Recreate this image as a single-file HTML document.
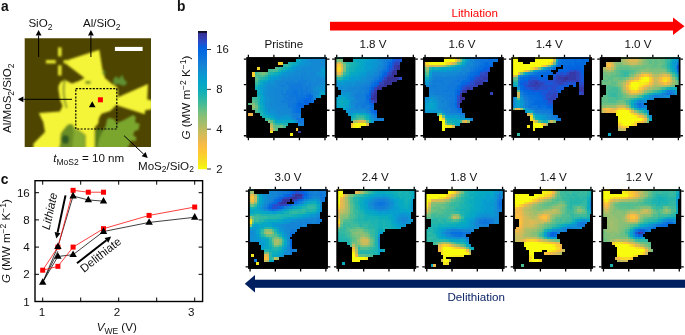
<!DOCTYPE html>
<html><head><meta charset="utf-8"><title>Figure</title>
<style>
html,body{margin:0;padding:0;background:#fff}
svg{display:block}
.t{font-family:"Liberation Sans",sans-serif;font-size:11.6px;fill:#111}
.b{font-family:"Liberation Sans",sans-serif;font-size:13.8px;font-weight:bold;fill:#111}
.i{font-style:italic}
</style></head><body>
<svg width="685" height="335" viewBox="0 0 685 335">
<rect width="685" height="335" fill="#fff"/>
<defs><clipPath id="mc"><rect x="24.7" y="38.3" width="126.3" height="108.8"/></clipPath><filter id="bl" x="-5%" y="-5%" width="110%" height="110%"><feGaussianBlur stdDeviation="0.8"/></filter></defs>
<g clip-path="url(#mc)">
<rect x="22.7" y="36.3" width="130.3" height="112.8" fill="#4e4500"/>
<g filter="url(#bl)">
<polygon points="64.5,61 99.3,49.7 102.5,70 105,78 112,84 117.5,87.5 118,96 117.3,97.5 148,84 147.3,99.5 152,100.3 152,109.3 145.2,110.2 144.8,114.3 117.3,105.5 116.3,105 110.3,111 101.5,113.7 98.9,118.4 98.2,123.8 94.8,127.2 94.8,149 85.5,149 85.5,135 80,131 75.8,129 72,124 67.4,125 61,133 59.5,149 33.4,149 33.4,143.7 45,132 43.3,122.2 38.8,112.9 60,111.5 62.5,106 60.2,100 58.5,90 58.5,86 61,81.4 66,80.5 72,83.5 79,81 84.5,78 64.5,62.8" fill="#f4f438" />
<rect x="58" y="47.4" width="3.6" height="9" fill="#e6e62e"/><rect x="58" y="65.3" width="3.6" height="10.2" fill="#e6e62e"/>
<rect x="45.9" y="60" width="9.9" height="3.5" fill="#e6e62e"/><rect x="63.6" y="60" width="6" height="3.5" fill="#e6e62e"/>
<polygon points="106.9,119.8 108.9,117.8 114.3,119.1 116.3,123.1 123,120.4 133.1,115.1 135.8,117.1 135.1,122.4 139.8,123.8 138.5,129.8 134.4,131.2 133.1,135.2 136.4,137.2 135.8,141.2 131.1,140.6 129.1,145.3 126.4,149 96.8,149 98.9,138.6 102.2,131.8 105.6,126.5" fill="#7aa62e" />
<polygon points="96,130 99,128 103,130 99,138.6 96.8,149 94.8,149 94.8,131" fill="#567c1e" />
<polygon points="61,133 67.4,125 72,124 75.8,129 80,131 85.5,135 85.5,149 59.5,149" fill="#86ac30" />
<polygon points="61,133 67.4,125 72,124 73.7,133 72,149 59.5,149" fill="#6a8e26" />
<path d="M64.6 79.5Q62 94 66.6 108" stroke="#98a428" stroke-width="2.4" fill="none"/>
<ellipse cx="65.5" cy="139.5" rx="3.6" ry="4.5" fill="#2f5a20"/>
<polygon points="113,80 116,76 119,79 122,74.5 124,79 127.4,83 124,86 118,84 114,85" fill="#5f9030" />
<ellipse cx="88" cy="82.3" rx="3" ry="1.6" fill="#6a8a20"/>
<ellipse cx="104" cy="72.5" rx="1.6" ry="2.6" fill="#5a7a20"/>
</g>
<rect x="114.9" y="46.9" width="27.7" height="4.1" fill="#fff"/>
<rect x="75.8" y="88.6" width="41" height="40.4" fill="none" stroke="#000" stroke-width="1.2" stroke-dasharray="2 1.4"/>
<polygon points="92.2,101.3 95.5,107.2 88.9,107.2" fill="#000"/>
<rect x="97.9" y="97.3" width="5" height="5" fill="#f00"/>
</g>
<path d="M38.6 57L38.6 35.6" stroke="#000" stroke-width="1.0"/>
<polygon points="38.6,30 41.5,35.6 35.7,35.6" fill="#000"/>
<path d="M90.9 57L90.9 35.6" stroke="#000" stroke-width="1.0"/>
<polygon points="90.9,30 93.8,35.6 88,35.6" fill="#000"/>
<path d="M72 99.3L23.4 99.3" stroke="#000" stroke-width="1.0"/>
<polygon points="17.8,99.3 23.4,96.4 23.4,102.2" fill="#000"/>
<path d="M124.1 135.7L143.63 154.15" stroke="#000" stroke-width="1.0"/>
<polygon points="147.7,158 141.64,156.26 145.62,152.05" fill="#000"/>
<text class="t" x="28.4" y="27.2">SiO<tspan font-size="8.5" dy="2.7">2</tspan><tspan dy="-2.7" font-size="11.6">&#8203;</tspan></text>
<text class="t" x="83" y="27.2">Al/SiO<tspan font-size="8.5" dy="2.7">2</tspan><tspan dy="-2.7" font-size="11.6">&#8203;</tspan></text>
<text class="t" transform="translate(10.8,133) rotate(-90)">Al/MoS<tspan font-size="8.5" dy="2.7">2</tspan><tspan dy="-2.7" font-size="11.6">&#8203;</tspan>/SiO<tspan font-size="8.5" dy="2.7">2</tspan><tspan dy="-2.7" font-size="11.6">&#8203;</tspan></text>
<text class="t" x="53.3" y="162.3"><tspan class="i">t</tspan><tspan font-size="8.5" dy="2.7">MoS2</tspan><tspan dy="-2.7" font-size="11.6">&#8203;</tspan> = 10 nm</text>
<text class="t" x="138" y="169.5">MoS<tspan font-size="8.5" dy="2.7">2</tspan><tspan dy="-2.7" font-size="11.6">&#8203;</tspan>/SiO<tspan font-size="8.5" dy="2.7">2</tspan><tspan dy="-2.7" font-size="11.6">&#8203;</tspan></text>
<text class="b" x="1" y="10.7">a</text><text class="b" x="177" y="10.5">b</text><text class="b" x="0.8" y="183.8">c</text>
<defs><linearGradient id="cb" x1="0" y1="0" x2="0" y2="1"><stop offset="0" stop-color="#352a87"/><stop offset="0.04" stop-color="#353aa8"/><stop offset="0.08" stop-color="#294cca"/><stop offset="0.12" stop-color="#0462e0"/><stop offset="0.17" stop-color="#066fdf"/><stop offset="0.21" stop-color="#1079da"/><stop offset="0.25" stop-color="#1484d4"/><stop offset="0.29" stop-color="#0f90d2"/><stop offset="0.33" stop-color="#079ccf"/><stop offset="0.38" stop-color="#06a6c7"/><stop offset="0.42" stop-color="#0badbc"/><stop offset="0.46" stop-color="#1cb3b0"/><stop offset="0.5" stop-color="#33b8a1"/><stop offset="0.54" stop-color="#4fbc91"/><stop offset="0.58" stop-color="#6ebf82"/><stop offset="0.62" stop-color="#8bbf75"/><stop offset="0.67" stop-color="#a5be6b"/><stop offset="0.71" stop-color="#bdbd61"/><stop offset="0.75" stop-color="#d3bb58"/><stop offset="0.79" stop-color="#e8b94f"/><stop offset="0.83" stop-color="#fbbc41"/><stop offset="0.88" stop-color="#fec932"/><stop offset="0.92" stop-color="#f8d727"/><stop offset="0.96" stop-color="#f5e71b"/><stop offset="1" stop-color="#f9fb0e"/></linearGradient></defs><rect x="198" y="31.2" width="9" height="138" fill="url(#cb)"/><rect x="198" y="31.2" width="9" height="1.4" fill="#000"/><path d="M207 49.5h4" stroke="#222" stroke-width="0.9"/><text x="216.2" y="53.1" class="t" style="font-size:11.3px">16</text><path d="M207 89.4h4" stroke="#222" stroke-width="0.9"/><text x="216.2" y="93" class="t" style="font-size:11.3px">8</text><path d="M207 129.2h4" stroke="#222" stroke-width="0.9"/><text x="216.2" y="132.8" class="t" style="font-size:11.3px">4</text><path d="M207 169h4" stroke="#222" stroke-width="0.9"/><text x="216.2" y="172.6" class="t" style="font-size:11.3px">2</text>
<text class="t" transform="translate(190.3,139.5) rotate(-90)"><tspan class="i">G</tspan> (MW m<tspan font-size="8.5" dy="-4">&#8722;2</tspan><tspan dy="4" font-size="11.6">&#8203;</tspan> K<tspan font-size="8.5" dy="-4">&#8722;1</tspan><tspan dy="4" font-size="11.6">&#8203;</tspan>)</text>
<rect x="35.0" y="180.7" width="167.6" height="120.8" fill="none" stroke="#000" stroke-width="1.4"/>
<path d="M42.7 301.5v-4 M42.7 180.7v4 M80.7 301.5v-4 M80.7 180.7v4 M118.7 301.5v-4 M118.7 180.7v4 M156.7 301.5v-4 M156.7 180.7v4 M194.7 301.5v-4 M194.7 180.7v4 M35.0 274.3h4 M202.6 274.3h-4 M35.0 247.1h4 M202.6 247.1h-4 M35.0 219.9h4 M202.6 219.9h-4 M35.0 192.7h4 M202.6 192.7h-4" stroke="#000" stroke-width="1" fill="none"/>
<text class="t" x="29.8" y="305.6" text-anchor="end">1</text>
<text class="t" x="29.8" y="278.4" text-anchor="end">2</text>
<text class="t" x="29.8" y="251.2" text-anchor="end">4</text>
<text class="t" x="29.8" y="224" text-anchor="end">8</text>
<text class="t" x="29.8" y="196.8" text-anchor="end">16</text>
<text class="t" x="42" y="315.8" text-anchor="middle">1</text>
<text class="t" x="117" y="315.8" text-anchor="middle">2</text>
<text class="t" x="191.3" y="315.8" text-anchor="middle">3</text>
<text class="t" x="96.7" y="331.3"><tspan class="i">V</tspan><tspan font-size="8.5" dy="2.7">WE</tspan><tspan dy="-2.7" font-size="11.6">&#8203;</tspan> (V)</text>
<text class="t" transform="translate(10.4,283) rotate(-90)"><tspan class="i">G</tspan> (MW m<tspan font-size="8.5" dy="-4">&#8722;2</tspan><tspan dy="4" font-size="11.6">&#8203;</tspan> K<tspan font-size="8.5" dy="-4">&#8722;1</tspan><tspan dy="4" font-size="11.6">&#8203;</tspan>)</text>
<polyline points="103.5,201.15 88.3,199.95 73.1,196.03 57.9,246.61 42.7,282.33" fill="none" stroke="#000" stroke-width="0.75"/>
<polyline points="42.7,282.33 57.9,256.47 73.1,254.65 103.5,231.52 149.1,222.43 194.7,217.29" fill="none" stroke="#000" stroke-width="0.75"/>
<polyline points="42.7,282.33 57.9,251.23" fill="none" stroke="#000" stroke-width="0.75"/>
<polyline points="103.5,192.21 88.3,192.21 73.1,190.32 57.9,247.1 42.7,270.2" fill="none" stroke="#f00" stroke-width="0.75"/>
<polyline points="42.7,270.2 57.9,266.34 73.1,247.1 103.5,228.66 149.1,215.41 194.7,207.05" fill="none" stroke="#f00" stroke-width="0.75"/>
<rect x="101" y="189.71" width="5" height="5" fill="#f00"/>
<rect x="85.8" y="189.71" width="5" height="5" fill="#f00"/>
<rect x="70.6" y="187.82" width="5" height="5" fill="#f00"/>
<rect x="55.4" y="244.6" width="5" height="5" fill="#f00"/>
<rect x="40.2" y="267.7" width="5" height="5" fill="#f00"/>
<rect x="55.4" y="263.84" width="5" height="5" fill="#f00"/>
<rect x="70.6" y="244.6" width="5" height="5" fill="#f00"/>
<rect x="101" y="226.16" width="5" height="5" fill="#f00"/>
<rect x="146.6" y="212.91" width="5" height="5" fill="#f00"/>
<rect x="192.2" y="204.55" width="5" height="5" fill="#f00"/>
<polygon points="103.5,196.95 107.2,203.55 99.8,203.55" fill="#000"/>
<polygon points="88.3,195.75 92,202.35 84.6,202.35" fill="#000"/>
<polygon points="73.1,191.83 76.8,198.43 69.4,198.43" fill="#000"/>
<polygon points="57.9,242.41 61.6,249.01 54.2,249.01" fill="#000"/>
<polygon points="42.7,278.13 46.4,284.73 39,284.73" fill="#000"/>
<polygon points="57.9,252.27 61.6,258.87 54.2,258.87" fill="#000"/>
<polygon points="73.1,250.45 76.8,257.05 69.4,257.05" fill="#000"/>
<polygon points="103.5,227.32 107.2,233.92 99.8,233.92" fill="#000"/>
<polygon points="149.1,218.23 152.8,224.83 145.4,224.83" fill="#000"/>
<polygon points="194.7,213.09 198.4,219.69 191,219.69" fill="#000"/>
<path d="M65.5 195.4L57.55 232.63" stroke="#000" stroke-width="2.0"/>
<polygon points="56.3,238.5 54.62,232.01 60.49,233.26" fill="#000"/>
<path d="M77 263.2L106.46 240.28" stroke="#000" stroke-width="2.0"/>
<polygon points="111.2,236.6 108.31,242.65 104.62,237.92" fill="#000"/>
<text class="t i" transform="translate(53.5,212) rotate(-78)" text-anchor="middle">Lithiate</text>
<text class="t" transform="translate(103,258) rotate(-38)" text-anchor="middle">Delithiate</text>
<rect x="330" y="21.8" width="344" height="8.7" fill="#f00"/><polygon points="673,17.5 684.5,26.2 673,35" fill="#f00"/>
<text class="t" x="451.5" y="17" style="fill:#f00">Lithiation</text>
<rect x="254" y="279.7" width="431" height="8.1" fill="#001f60"/><polygon points="255,275 244.8,283.8 255,292.5" fill="#001f60"/>
<text class="t" x="447.5" y="301.2" style="fill:#0c2466">Delithiation</text>
<text class="t" x="283.8" y="48.2" text-anchor="middle">Pristine</text>
<text class="t" x="373" y="48.2" text-anchor="middle">1.8 V</text>
<text class="t" x="462" y="48.2" text-anchor="middle">1.6 V</text>
<text class="t" x="549.2" y="48.2" text-anchor="middle">1.4 V</text>
<text class="t" x="638" y="48.2" text-anchor="middle">1.0 V</text>
<text class="t" x="288" y="181.4" text-anchor="middle">3.0 V</text>
<text class="t" x="375.2" y="181.4" text-anchor="middle">2.4 V</text>
<text class="t" x="463.6" y="181.4" text-anchor="middle">1.8 V</text>
<text class="t" x="553.3" y="181.4" text-anchor="middle">1.4 V</text>
<text class="t" x="639.2" y="181.4" text-anchor="middle">1.2 V</text>
<g transform="translate(246.45,57.25)">
<clipPath id="mc1"><rect x="0.4" y="0.4" width="79.65" height="79.65"/></clipPath>
<rect x="0" y="0" width="80.45" height="80.45" fill="#000"/>
<path d="M1.93 0v-2.6 M1.93 80.45v2.6 M0 1.93h-2.6 M80.45 1.93h2.6 M27.46 0v-2.6 M27.46 80.45v2.6 M0 27.46h-2.6 M80.45 27.46h2.6 M52.99 0v-2.6 M52.99 80.45v2.6 M0 52.99h-2.6 M80.45 52.99h2.6 M78.52 0v-2.6 M78.52 80.45v2.6 M0 78.52h-2.6 M80.45 78.52h2.6" stroke="#000" stroke-width="1.3" fill="none"/>
<g shape-rendering="crispEdges" clip-path="url(#mc1)" transform="translate(0.65,-0.7)">
<path fill="#363297" d="M51.06 74.04h2.85v2.85h-2.85z"/>
<path fill="#0462e0" d="M61.28 40.85h2.85v2.85h-2.85zM56.17 43.4h5.41v2.85h-5.41zM51.06 45.96h2.85v2.85h-2.85zM58.72 45.96h2.85v2.85h-2.85zM53.62 48.51h2.85v2.85h-2.85z"/>
<path fill="#0269e1" d="M61.28 38.3h2.85v2.85h-2.85zM56.17 40.85h5.41v2.85h-5.41zM61.28 43.4h2.85v2.85h-2.85zM53.62 45.96h5.41v2.85h-5.41zM51.06 48.51h2.85v2.85h-2.85z"/>
<path fill="#066fdf" d="M58.72 38.3h2.85v2.85h-2.85zM63.83 38.3h2.85v2.85h-2.85zM53.62 40.85h2.85v2.85h-2.85zM63.83 40.85h2.85v2.85h-2.85zM51.06 43.4h5.41v2.85h-5.41zM63.83 43.4h2.85v2.85h-2.85zM48.51 45.96h2.85v2.85h-2.85zM48.51 48.51h2.85v2.85h-2.85zM48.51 51.06h5.41v2.85h-5.41zM48.51 53.62h5.41v2.85h-5.41z"/>
<path fill="#0c74dd" d="M45.96 33.19h5.41v2.85h-5.41zM53.62 33.19h2.85v2.85h-2.85zM45.96 35.75h5.41v2.85h-5.41zM53.62 35.75h2.85v2.85h-2.85zM58.72 35.75h5.41v2.85h-5.41zM43.4 38.3h2.85v2.85h-2.85zM48.51 38.3h10.51v2.85h-10.51zM48.51 40.85h5.41v2.85h-5.41zM48.51 43.4h2.85v2.85h-2.85zM45.96 45.96h2.85v2.85h-2.85zM45.96 48.51h2.85v2.85h-2.85zM45.96 51.06h2.85v2.85h-2.85zM45.96 53.62h2.85v2.85h-2.85zM48.51 61.28h7.96v2.85h-7.96zM51.06 63.83h2.85v2.85h-2.85z"/>
<path fill="#1079da" d="M51.06 25.53h2.85v2.85h-2.85zM43.4 28.09h13.07v2.85h-13.07zM43.4 30.64h13.07v2.85h-13.07zM58.72 30.64h2.85v2.85h-2.85zM38.3 33.19h7.96v2.85h-7.96zM51.06 33.19h2.85v2.85h-2.85zM56.17 33.19h5.41v2.85h-5.41zM38.3 35.75h7.96v2.85h-7.96zM51.06 35.75h2.85v2.85h-2.85zM56.17 35.75h2.85v2.85h-2.85zM40.85 38.3h2.85v2.85h-2.85zM45.96 38.3h2.85v2.85h-2.85zM38.3 40.85h10.51v2.85h-10.51zM40.85 43.4h7.96v2.85h-7.96zM40.85 45.96h5.41v2.85h-5.41zM40.85 48.51h5.41v2.85h-5.41zM43.4 51.06h2.85v2.85h-2.85zM48.51 56.17h5.41v2.85h-5.41zM48.51 58.72h2.85v2.85h-2.85zM53.62 63.83h2.85v2.85h-2.85z"/>
<path fill="#137ed7" d="M53.62 20.43h2.85v2.85h-2.85zM43.4 22.98h2.85v2.85h-2.85zM51.06 22.98h10.51v2.85h-10.51zM38.3 25.53h13.07v2.85h-13.07zM53.62 25.53h5.41v2.85h-5.41zM61.28 25.53h2.85v2.85h-2.85zM33.19 28.09h5.41v2.85h-5.41zM40.85 28.09h2.85v2.85h-2.85zM56.17 28.09h7.96v2.85h-7.96zM40.85 30.64h2.85v2.85h-2.85zM56.17 30.64h2.85v2.85h-2.85zM61.28 30.64h2.85v2.85h-2.85zM33.19 33.19h2.85v2.85h-2.85zM61.28 33.19h5.41v2.85h-5.41zM33.19 35.75h5.41v2.85h-5.41zM63.83 35.75h2.85v2.85h-2.85zM35.75 38.3h5.41v2.85h-5.41zM35.75 40.85h2.85v2.85h-2.85zM66.38 40.85h2.85v2.85h-2.85zM33.19 43.4h7.96v2.85h-7.96zM38.3 45.96h2.85v2.85h-2.85zM43.4 53.62h2.85v2.85h-2.85zM45.96 56.17h2.85v2.85h-2.85zM45.96 58.72h2.85v2.85h-2.85zM51.06 58.72h2.85v2.85h-2.85zM53.62 66.38h2.85v2.85h-2.85z"/>
<path fill="#1484d4" d="M63.83 2.55h2.85v2.85h-2.85zM61.28 10.21h2.85v2.85h-2.85zM53.62 15.32h5.41v2.85h-5.41zM61.28 15.32h7.96v2.85h-7.96zM48.51 17.87h2.85v2.85h-2.85zM53.62 17.87h7.96v2.85h-7.96zM63.83 17.87h2.85v2.85h-2.85zM40.85 20.43h13.07v2.85h-13.07zM56.17 20.43h7.96v2.85h-7.96zM68.94 20.43h2.85v2.85h-2.85zM33.19 22.98h10.51v2.85h-10.51zM45.96 22.98h5.41v2.85h-5.41zM61.28 22.98h5.41v2.85h-5.41zM68.94 22.98h5.41v2.85h-5.41zM30.64 25.53h7.96v2.85h-7.96zM58.72 25.53h2.85v2.85h-2.85zM63.83 25.53h7.96v2.85h-7.96zM30.64 28.09h2.85v2.85h-2.85zM38.3 28.09h2.85v2.85h-2.85zM63.83 28.09h5.41v2.85h-5.41zM28.09 30.64h13.07v2.85h-13.07zM63.83 30.64h2.85v2.85h-2.85zM25.53 33.19h7.96v2.85h-7.96zM35.75 33.19h2.85v2.85h-2.85zM25.53 35.75h7.96v2.85h-7.96zM66.38 35.75h2.85v2.85h-2.85zM28.09 38.3h7.96v2.85h-7.96zM66.38 38.3h2.85v2.85h-2.85zM28.09 40.85h7.96v2.85h-7.96zM28.09 43.4h5.41v2.85h-5.41zM22.98 45.96h2.85v2.85h-2.85zM28.09 45.96h10.51v2.85h-10.51zM30.64 48.51h10.51v2.85h-10.51zM33.19 51.06h10.51v2.85h-10.51zM30.64 53.62h2.85v2.85h-2.85zM40.85 53.62h2.85v2.85h-2.85zM43.4 56.17h2.85v2.85h-2.85zM43.4 58.72h2.85v2.85h-2.85zM45.96 61.28h2.85v2.85h-2.85zM51.06 66.38h2.85v2.85h-2.85z"/>
<path fill="#1389d3" d="M61.28 0h18.17v2.85h-18.17zM61.28 2.55h2.85v2.85h-2.85zM66.38 2.55h13.07v2.85h-13.07zM63.83 5.11h15.62v2.85h-15.62zM61.28 7.66h18.17v2.85h-18.17zM53.62 10.21h7.96v2.85h-7.96zM63.83 10.21h10.51v2.85h-10.51zM48.51 12.77h25.83v2.85h-25.83zM45.96 15.32h7.96v2.85h-7.96zM58.72 15.32h2.85v2.85h-2.85zM35.75 17.87h2.85v2.85h-2.85zM40.85 17.87h7.96v2.85h-7.96zM51.06 17.87h2.85v2.85h-2.85zM61.28 17.87h2.85v2.85h-2.85zM66.38 17.87h5.41v2.85h-5.41zM33.19 20.43h7.96v2.85h-7.96zM63.83 20.43h5.41v2.85h-5.41zM71.49 20.43h5.41v2.85h-5.41zM28.09 22.98h5.41v2.85h-5.41zM66.38 22.98h2.85v2.85h-2.85zM74.04 22.98h5.41v2.85h-5.41zM28.09 25.53h2.85v2.85h-2.85zM71.49 25.53h5.41v2.85h-5.41zM20.43 28.09h10.51v2.85h-10.51zM68.94 28.09h5.41v2.85h-5.41zM20.43 30.64h7.96v2.85h-7.96zM66.38 30.64h2.85v2.85h-2.85zM20.43 33.19h5.41v2.85h-5.41zM66.38 33.19h5.41v2.85h-5.41zM17.87 35.75h7.96v2.85h-7.96zM68.94 35.75h2.85v2.85h-2.85zM20.43 38.3h7.96v2.85h-7.96zM22.98 40.85h5.41v2.85h-5.41zM22.98 43.4h5.41v2.85h-5.41zM20.43 45.96h2.85v2.85h-2.85zM25.53 45.96h2.85v2.85h-2.85zM22.98 48.51h7.96v2.85h-7.96zM20.43 51.06h2.85v2.85h-2.85zM25.53 51.06h7.96v2.85h-7.96zM28.09 53.62h2.85v2.85h-2.85zM33.19 53.62h7.96v2.85h-7.96zM30.64 56.17h13.07v2.85h-13.07zM48.51 63.83h2.85v2.85h-2.85z"/>
<path fill="#0f90d2" d="M58.72 0h2.85v2.85h-2.85zM58.72 2.55h2.85v2.85h-2.85zM56.17 5.11h7.96v2.85h-7.96zM51.06 7.66h10.51v2.85h-10.51zM48.51 10.21h5.41v2.85h-5.41zM74.04 10.21h2.85v2.85h-2.85zM45.96 12.77h2.85v2.85h-2.85zM38.3 15.32h7.96v2.85h-7.96zM68.94 15.32h5.41v2.85h-5.41zM33.19 17.87h2.85v2.85h-2.85zM38.3 17.87h2.85v2.85h-2.85zM71.49 17.87h2.85v2.85h-2.85zM30.64 20.43h2.85v2.85h-2.85zM76.6 20.43h2.85v2.85h-2.85zM25.53 22.98h2.85v2.85h-2.85zM20.43 25.53h7.96v2.85h-7.96zM76.6 25.53h2.85v2.85h-2.85zM17.87 28.09h2.85v2.85h-2.85zM74.04 28.09h5.41v2.85h-5.41zM17.87 30.64h2.85v2.85h-2.85zM68.94 30.64h7.96v2.85h-7.96zM17.87 33.19h2.85v2.85h-2.85zM17.87 38.3h2.85v2.85h-2.85zM17.87 40.85h5.41v2.85h-5.41zM17.87 43.4h5.41v2.85h-5.41zM17.87 45.96h2.85v2.85h-2.85zM17.87 48.51h5.41v2.85h-5.41zM22.98 51.06h2.85v2.85h-2.85zM20.43 53.62h7.96v2.85h-7.96zM25.53 56.17h5.41v2.85h-5.41zM28.09 58.72h10.51v2.85h-10.51zM40.85 58.72h2.85v2.85h-2.85zM43.4 61.28h2.85v2.85h-2.85z"/>
<path fill="#0a97d1" d="M56.17 0h2.85v2.85h-2.85zM53.62 2.55h5.41v2.85h-5.41zM53.62 5.11h2.85v2.85h-2.85zM45.96 10.21h2.85v2.85h-2.85zM76.6 10.21h2.85v2.85h-2.85zM40.85 12.77h5.41v2.85h-5.41zM35.75 15.32h2.85v2.85h-2.85zM74.04 15.32h2.85v2.85h-2.85zM30.64 17.87h2.85v2.85h-2.85zM74.04 17.87h5.41v2.85h-5.41zM25.53 20.43h5.41v2.85h-5.41zM20.43 22.98h5.41v2.85h-5.41zM17.87 25.53h2.85v2.85h-2.85zM15.32 30.64h2.85v2.85h-2.85zM76.6 30.64h2.85v2.85h-2.85zM15.32 33.19h2.85v2.85h-2.85zM71.49 33.19h2.85v2.85h-2.85zM76.6 33.19h2.85v2.85h-2.85zM15.32 35.75h2.85v2.85h-2.85zM15.32 38.3h2.85v2.85h-2.85zM68.94 38.3h2.85v2.85h-2.85zM17.87 51.06h2.85v2.85h-2.85zM22.98 56.17h2.85v2.85h-2.85zM38.3 58.72h2.85v2.85h-2.85zM30.64 61.28h2.85v2.85h-2.85zM38.3 61.28h2.85v2.85h-2.85z"/>
<path fill="#079ccf" d="M53.62 0h2.85v2.85h-2.85zM51.06 5.11h2.85v2.85h-2.85zM48.51 7.66h2.85v2.85h-2.85zM43.4 10.21h2.85v2.85h-2.85zM38.3 12.77h2.85v2.85h-2.85zM74.04 12.77h5.41v2.85h-5.41zM33.19 15.32h2.85v2.85h-2.85zM76.6 15.32h2.85v2.85h-2.85zM22.98 20.43h2.85v2.85h-2.85zM15.32 25.53h2.85v2.85h-2.85zM15.32 28.09h2.85v2.85h-2.85zM12.77 30.64h2.85v2.85h-2.85zM74.04 33.19h2.85v2.85h-2.85zM71.49 35.75h2.85v2.85h-2.85zM15.32 40.85h2.85v2.85h-2.85zM15.32 43.4h2.85v2.85h-2.85zM15.32 45.96h2.85v2.85h-2.85zM17.87 53.62h2.85v2.85h-2.85zM20.43 56.17h2.85v2.85h-2.85zM25.53 58.72h2.85v2.85h-2.85zM28.09 61.28h2.85v2.85h-2.85zM33.19 61.28h5.41v2.85h-5.41zM40.85 61.28h2.85v2.85h-2.85zM45.96 63.83h2.85v2.85h-2.85z"/>
<path fill="#06a1cc" d="M45.96 7.66h2.85v2.85h-2.85zM25.53 17.87h5.41v2.85h-5.41zM12.77 28.09h2.85v2.85h-2.85zM12.77 33.19h2.85v2.85h-2.85zM12.77 35.75h2.85v2.85h-2.85zM71.49 38.3h2.85v2.85h-2.85zM15.32 48.51h2.85v2.85h-2.85zM15.32 51.06h2.85v2.85h-2.85zM17.87 56.17h2.85v2.85h-2.85zM22.98 58.72h2.85v2.85h-2.85z"/>
<path fill="#06a6c7" d="M51.06 2.55h2.85v2.85h-2.85zM48.51 5.11h2.85v2.85h-2.85zM43.4 7.66h2.85v2.85h-2.85zM40.85 10.21h2.85v2.85h-2.85zM35.75 12.77h2.85v2.85h-2.85zM30.64 15.32h2.85v2.85h-2.85zM20.43 20.43h2.85v2.85h-2.85zM17.87 22.98h2.85v2.85h-2.85zM74.04 35.75h2.85v2.85h-2.85zM12.77 38.3h2.85v2.85h-2.85zM12.77 40.85h2.85v2.85h-2.85zM12.77 43.4h2.85v2.85h-2.85zM12.77 45.96h2.85v2.85h-2.85zM15.32 53.62h2.85v2.85h-2.85zM20.43 58.72h2.85v2.85h-2.85zM30.64 63.83h7.96v2.85h-7.96zM43.4 63.83h2.85v2.85h-2.85z"/>
<path fill="#07a9c2" d="M51.06 0h2.85v2.85h-2.85zM48.51 2.55h2.85v2.85h-2.85zM33.19 12.77h2.85v2.85h-2.85zM22.98 17.87h2.85v2.85h-2.85zM15.32 22.98h2.85v2.85h-2.85zM12.77 25.53h2.85v2.85h-2.85zM10.21 28.09h2.85v2.85h-2.85zM10.21 30.64h2.85v2.85h-2.85zM10.21 35.75h2.85v2.85h-2.85zM76.6 35.75h2.85v2.85h-2.85zM15.32 56.17h2.85v2.85h-2.85zM25.53 61.28h2.85v2.85h-2.85zM28.09 63.83h2.85v2.85h-2.85zM38.3 63.83h5.41v2.85h-5.41z"/>
<path fill="#0badbc" d="M45.96 5.11h2.85v2.85h-2.85zM38.3 10.21h2.85v2.85h-2.85zM28.09 15.32h2.85v2.85h-2.85zM20.43 17.87h2.85v2.85h-2.85zM12.77 22.98h2.85v2.85h-2.85zM7.66 30.64h2.85v2.85h-2.85zM10.21 33.19h2.85v2.85h-2.85zM12.77 48.51h2.85v2.85h-2.85zM12.77 51.06h2.85v2.85h-2.85zM17.87 58.72h2.85v2.85h-2.85z"/>
<path fill="#13b0b6" d="M43.4 5.11h2.85v2.85h-2.85zM35.75 10.21h2.85v2.85h-2.85zM25.53 15.32h2.85v2.85h-2.85zM17.87 20.43h2.85v2.85h-2.85zM10.21 38.3h2.85v2.85h-2.85zM12.77 53.62h2.85v2.85h-2.85zM15.32 58.72h2.85v2.85h-2.85zM22.98 61.28h2.85v2.85h-2.85z"/>
<path fill="#1cb3b0" d="M40.85 5.11h2.85v2.85h-2.85zM40.85 7.66h2.85v2.85h-2.85zM30.64 12.77h2.85v2.85h-2.85zM22.98 15.32h2.85v2.85h-2.85zM15.32 20.43h2.85v2.85h-2.85zM10.21 25.53h2.85v2.85h-2.85zM7.66 28.09h2.85v2.85h-2.85zM10.21 40.85h2.85v2.85h-2.85zM10.21 43.4h2.85v2.85h-2.85zM10.21 45.96h2.85v2.85h-2.85zM12.77 56.17h2.85v2.85h-2.85zM30.64 66.38h2.85v2.85h-2.85zM35.75 66.38h5.41v2.85h-5.41z"/>
<path fill="#27b5a8" d="M35.75 7.66h2.85v2.85h-2.85zM33.19 10.21h2.85v2.85h-2.85zM20.43 15.32h2.85v2.85h-2.85zM17.87 17.87h2.85v2.85h-2.85zM12.77 20.43h2.85v2.85h-2.85zM10.21 22.98h2.85v2.85h-2.85zM10.21 48.51h2.85v2.85h-2.85zM10.21 51.06h2.85v2.85h-2.85zM25.53 63.83h2.85v2.85h-2.85zM28.09 66.38h2.85v2.85h-2.85zM33.19 66.38h2.85v2.85h-2.85z"/>
<path fill="#33b8a1" d="M38.3 7.66h2.85v2.85h-2.85zM30.64 10.21h2.85v2.85h-2.85zM7.66 15.32h2.85v2.85h-2.85zM7.66 25.53h2.85v2.85h-2.85zM7.66 40.85h2.85v2.85h-2.85zM10.21 53.62h2.85v2.85h-2.85zM17.87 61.28h5.41v2.85h-5.41z"/>
<path fill="#40ba99" d="M20.43 12.77h5.41v2.85h-5.41zM28.09 12.77h2.85v2.85h-2.85zM10.21 17.87h2.85v2.85h-2.85zM10.21 20.43h2.85v2.85h-2.85zM5.11 40.85h2.85v2.85h-2.85zM7.66 43.4h2.85v2.85h-2.85zM35.75 68.94h2.85v2.85h-2.85z"/>
<path fill="#4fbc91" d="M28.09 10.21h2.85v2.85h-2.85zM25.53 12.77h2.85v2.85h-2.85zM7.66 17.87h2.85v2.85h-2.85zM12.77 17.87h5.41v2.85h-5.41zM7.66 22.98h2.85v2.85h-2.85zM0 45.96h2.85v2.85h-2.85zM7.66 45.96h2.85v2.85h-2.85zM7.66 53.62h2.85v2.85h-2.85zM25.53 66.38h2.85v2.85h-2.85z"/>
<path fill="#5ebe89" d="M10.21 15.32h2.85v2.85h-2.85zM17.87 15.32h2.85v2.85h-2.85zM7.66 20.43h2.85v2.85h-2.85zM5.11 43.4h2.85v2.85h-2.85zM7.66 51.06h2.85v2.85h-2.85zM22.98 63.83h2.85v2.85h-2.85zM28.09 68.94h5.41v2.85h-5.41zM28.09 71.49h2.85v2.85h-2.85z"/>
<path fill="#6ebf82" d="M12.77 15.32h2.85v2.85h-2.85zM7.66 48.51h2.85v2.85h-2.85zM25.53 68.94h2.85v2.85h-2.85zM33.19 68.94h2.85v2.85h-2.85z"/>
<path fill="#7dbf7b" d="M15.32 15.32h2.85v2.85h-2.85zM2.55 45.96h5.41v2.85h-5.41zM5.11 51.06h2.85v2.85h-2.85zM20.43 63.83h2.85v2.85h-2.85z"/>
<path fill="#98bf70" d="M5.11 48.51h2.85v2.85h-2.85zM25.53 71.49h2.85v2.85h-2.85z"/>
<path fill="#a5be6b" d="M22.98 66.38h2.85v2.85h-2.85z"/>
<path fill="#c8bc5d" d="M22.98 68.94h2.85v2.85h-2.85z"/>
<path fill="#e8b94f" d="M22.98 71.49h2.85v2.85h-2.85z"/>
<path fill="#f2b949" d="M0 56.17h5.41v2.85h-5.41z"/>
<path fill="#fec238" d="M48.51 71.49h2.85v2.85h-2.85z"/>
<path fill="#fbd02c" d="M30.64 5.11h5.41v2.85h-5.41zM5.11 15.32h2.85v2.85h-2.85zM5.11 17.87h2.85v2.85h-2.85z"/>
<path fill="#f8d727" d="M10.21 10.21h2.85v2.85h-2.85z"/>
<path fill="#f5e71b" d="M22.98 74.04h2.85v2.85h-2.85z"/>
<path fill="#f6f015" d="M43.4 76.6h2.85v2.85h-2.85z"/>
</g>
<rect x="0.8" y="0.8" width="78.85" height="78.85" fill="none" stroke="#000" stroke-width="1.6"/>
</g>
<g transform="translate(334.8,57.25)">
<clipPath id="mc2"><rect x="0.4" y="0.4" width="79.65" height="79.65"/></clipPath>
<rect x="0" y="0" width="80.45" height="80.45" fill="#000"/>
<path d="M1.93 0v-2.6 M1.93 80.45v2.6 M0 1.93h-2.6 M80.45 1.93h2.6 M27.46 0v-2.6 M27.46 80.45v2.6 M0 27.46h-2.6 M80.45 27.46h2.6 M52.99 0v-2.6 M52.99 80.45v2.6 M0 52.99h-2.6 M80.45 52.99h2.6 M78.52 0v-2.6 M78.52 80.45v2.6 M0 78.52h-2.6 M80.45 78.52h2.6" stroke="#000" stroke-width="1.3" fill="none"/>
<g shape-rendering="crispEdges" clip-path="url(#mc2)" transform="translate(0.65,-0.7)">
<path fill="#363297" d="M61.28 7.66h2.85v2.85h-2.85zM61.28 10.21h2.85v2.85h-2.85zM58.72 12.77h2.85v2.85h-2.85zM56.17 15.32h5.41v2.85h-5.41zM56.17 17.87h2.85v2.85h-2.85zM51.06 20.43h10.51v2.85h-10.51zM51.06 22.98h10.51v2.85h-10.51zM48.51 25.53h7.96v2.85h-7.96zM48.51 28.09h2.85v2.85h-2.85zM40.85 30.64h5.41v2.85h-5.41zM38.3 35.75h2.85v2.85h-2.85zM38.3 38.3h2.85v2.85h-2.85zM35.75 40.85h5.41v2.85h-5.41z"/>
<path fill="#353aa8" d="M58.72 7.66h2.85v2.85h-2.85zM58.72 10.21h2.85v2.85h-2.85zM56.17 12.77h2.85v2.85h-2.85zM53.62 17.87h2.85v2.85h-2.85zM61.28 20.43h2.85v2.85h-2.85zM48.51 22.98h2.85v2.85h-2.85zM43.4 28.09h5.41v2.85h-5.41zM38.3 33.19h2.85v2.85h-2.85zM35.75 38.3h2.85v2.85h-2.85zM38.3 43.4h2.85v2.85h-2.85z"/>
<path fill="#3243b9" d="M58.72 5.11h5.41v2.85h-5.41zM53.62 15.32h2.85v2.85h-2.85zM51.06 17.87h2.85v2.85h-2.85zM48.51 20.43h2.85v2.85h-2.85zM45.96 22.98h2.85v2.85h-2.85zM43.4 25.53h5.41v2.85h-5.41zM40.85 28.09h2.85v2.85h-2.85zM38.3 30.64h2.85v2.85h-2.85zM35.75 35.75h2.85v2.85h-2.85z"/>
<path fill="#294cca" d="M61.28 2.55h2.85v2.85h-2.85zM56.17 7.66h2.85v2.85h-2.85zM56.17 10.21h2.85v2.85h-2.85zM53.62 12.77h2.85v2.85h-2.85zM51.06 15.32h2.85v2.85h-2.85zM63.83 20.43h2.85v2.85h-2.85zM35.75 33.19h2.85v2.85h-2.85zM35.75 43.4h2.85v2.85h-2.85z"/>
<path fill="#1658d9" d="M61.28 0h2.85v2.85h-2.85zM58.72 2.55h2.85v2.85h-2.85zM63.83 2.55h2.85v2.85h-2.85zM56.17 5.11h2.85v2.85h-2.85zM53.62 10.21h2.85v2.85h-2.85zM48.51 17.87h2.85v2.85h-2.85zM45.96 20.43h2.85v2.85h-2.85zM33.19 40.85h2.85v2.85h-2.85z"/>
<path fill="#0462e0" d="M58.72 0h2.85v2.85h-2.85zM63.83 0h2.85v2.85h-2.85zM56.17 2.55h2.85v2.85h-2.85zM53.62 7.66h2.85v2.85h-2.85zM48.51 15.32h2.85v2.85h-2.85zM45.96 17.87h2.85v2.85h-2.85zM43.4 22.98h2.85v2.85h-2.85zM40.85 25.53h2.85v2.85h-2.85zM38.3 28.09h2.85v2.85h-2.85zM35.75 30.64h2.85v2.85h-2.85zM33.19 35.75h2.85v2.85h-2.85zM33.19 38.3h2.85v2.85h-2.85zM33.19 43.4h2.85v2.85h-2.85zM35.75 45.96h2.85v2.85h-2.85zM38.3 53.62h2.85v2.85h-2.85z"/>
<path fill="#0269e1" d="M56.17 0h2.85v2.85h-2.85zM53.62 5.11h2.85v2.85h-2.85zM51.06 10.21h2.85v2.85h-2.85zM51.06 12.77h2.85v2.85h-2.85zM43.4 20.43h2.85v2.85h-2.85zM40.85 22.98h2.85v2.85h-2.85zM38.3 25.53h2.85v2.85h-2.85zM33.19 33.19h2.85v2.85h-2.85z"/>
<path fill="#066fdf" d="M51.06 7.66h2.85v2.85h-2.85zM48.51 12.77h2.85v2.85h-2.85zM45.96 15.32h2.85v2.85h-2.85zM35.75 28.09h2.85v2.85h-2.85zM30.64 38.3h2.85v2.85h-2.85zM30.64 40.85h2.85v2.85h-2.85zM33.19 45.96h2.85v2.85h-2.85zM35.75 48.51h2.85v2.85h-2.85zM35.75 51.06h2.85v2.85h-2.85zM35.75 53.62h2.85v2.85h-2.85zM38.3 56.17h2.85v2.85h-2.85z"/>
<path fill="#0c74dd" d="M53.62 0h2.85v2.85h-2.85zM53.62 2.55h2.85v2.85h-2.85zM51.06 5.11h2.85v2.85h-2.85zM45.96 12.77h2.85v2.85h-2.85zM43.4 17.87h2.85v2.85h-2.85zM38.3 22.98h2.85v2.85h-2.85zM35.75 25.53h2.85v2.85h-2.85zM33.19 30.64h2.85v2.85h-2.85zM30.64 35.75h2.85v2.85h-2.85zM30.64 43.4h2.85v2.85h-2.85zM30.64 45.96h2.85v2.85h-2.85zM33.19 48.51h2.85v2.85h-2.85zM33.19 51.06h2.85v2.85h-2.85z"/>
<path fill="#1079da" d="M51.06 0h2.85v2.85h-2.85zM51.06 2.55h2.85v2.85h-2.85zM48.51 7.66h2.85v2.85h-2.85zM48.51 10.21h2.85v2.85h-2.85zM43.4 15.32h2.85v2.85h-2.85zM38.3 20.43h5.41v2.85h-5.41zM33.19 28.09h2.85v2.85h-2.85zM30.64 30.64h2.85v2.85h-2.85zM30.64 33.19h2.85v2.85h-2.85zM28.09 35.75h2.85v2.85h-2.85zM28.09 38.3h2.85v2.85h-2.85zM28.09 43.4h2.85v2.85h-2.85zM25.53 45.96h5.41v2.85h-5.41zM25.53 48.51h5.41v2.85h-5.41z"/>
<path fill="#137ed7" d="M48.51 0h2.85v2.85h-2.85zM48.51 2.55h2.85v2.85h-2.85zM48.51 5.11h2.85v2.85h-2.85zM45.96 10.21h2.85v2.85h-2.85zM43.4 12.77h2.85v2.85h-2.85zM40.85 17.87h2.85v2.85h-2.85zM35.75 22.98h2.85v2.85h-2.85zM33.19 25.53h2.85v2.85h-2.85zM30.64 28.09h2.85v2.85h-2.85zM25.53 30.64h5.41v2.85h-5.41zM22.98 33.19h2.85v2.85h-2.85zM28.09 33.19h2.85v2.85h-2.85zM20.43 35.75h7.96v2.85h-7.96zM17.87 38.3h10.51v2.85h-10.51zM20.43 40.85h10.51v2.85h-10.51zM22.98 43.4h5.41v2.85h-5.41zM20.43 45.96h5.41v2.85h-5.41zM20.43 48.51h2.85v2.85h-2.85zM30.64 48.51h2.85v2.85h-2.85zM30.64 51.06h2.85v2.85h-2.85zM33.19 53.62h2.85v2.85h-2.85zM35.75 56.17h2.85v2.85h-2.85zM38.3 58.72h2.85v2.85h-2.85zM40.85 61.28h7.96v2.85h-7.96z"/>
<path fill="#1484d4" d="M45.96 2.55h2.85v2.85h-2.85zM45.96 5.11h2.85v2.85h-2.85zM43.4 7.66h5.41v2.85h-5.41zM38.3 15.32h5.41v2.85h-5.41zM38.3 17.87h2.85v2.85h-2.85zM35.75 20.43h2.85v2.85h-2.85zM33.19 22.98h2.85v2.85h-2.85zM28.09 25.53h5.41v2.85h-5.41zM17.87 28.09h2.85v2.85h-2.85zM22.98 28.09h7.96v2.85h-7.96zM15.32 30.64h10.51v2.85h-10.51zM12.77 33.19h2.85v2.85h-2.85zM17.87 33.19h5.41v2.85h-5.41zM25.53 33.19h2.85v2.85h-2.85zM15.32 35.75h5.41v2.85h-5.41zM17.87 40.85h2.85v2.85h-2.85zM20.43 43.4h2.85v2.85h-2.85zM17.87 45.96h2.85v2.85h-2.85zM17.87 48.51h2.85v2.85h-2.85zM22.98 48.51h2.85v2.85h-2.85zM20.43 51.06h10.51v2.85h-10.51zM30.64 53.62h2.85v2.85h-2.85zM38.3 61.28h2.85v2.85h-2.85z"/>
<path fill="#1389d3" d="M43.4 0h5.41v2.85h-5.41zM43.4 2.55h2.85v2.85h-2.85zM40.85 10.21h5.41v2.85h-5.41zM40.85 12.77h2.85v2.85h-2.85zM33.19 17.87h5.41v2.85h-5.41zM30.64 20.43h5.41v2.85h-5.41zM30.64 22.98h2.85v2.85h-2.85zM20.43 25.53h7.96v2.85h-7.96zM12.77 28.09h2.85v2.85h-2.85zM20.43 28.09h2.85v2.85h-2.85zM2.55 30.64h5.41v2.85h-5.41zM10.21 30.64h5.41v2.85h-5.41zM5.11 33.19h7.96v2.85h-7.96zM15.32 33.19h2.85v2.85h-2.85zM15.32 38.3h2.85v2.85h-2.85zM15.32 43.4h5.41v2.85h-5.41zM15.32 45.96h2.85v2.85h-2.85zM15.32 51.06h5.41v2.85h-5.41zM35.75 58.72h2.85v2.85h-2.85z"/>
<path fill="#0f90d2" d="M40.85 0h2.85v2.85h-2.85zM40.85 2.55h2.85v2.85h-2.85zM40.85 5.11h5.41v2.85h-5.41zM40.85 7.66h2.85v2.85h-2.85zM38.3 10.21h2.85v2.85h-2.85zM35.75 12.77h5.41v2.85h-5.41zM30.64 15.32h7.96v2.85h-7.96zM30.64 17.87h2.85v2.85h-2.85zM25.53 20.43h5.41v2.85h-5.41zM20.43 22.98h10.51v2.85h-10.51zM0 25.53h2.85v2.85h-2.85zM10.21 25.53h10.51v2.85h-10.51zM0 28.09h13.07v2.85h-13.07zM15.32 28.09h2.85v2.85h-2.85zM7.66 30.64h2.85v2.85h-2.85zM7.66 35.75h2.85v2.85h-2.85zM12.77 35.75h2.85v2.85h-2.85zM12.77 38.3h2.85v2.85h-2.85zM12.77 40.85h5.41v2.85h-5.41zM15.32 48.51h2.85v2.85h-2.85zM12.77 51.06h2.85v2.85h-2.85zM12.77 53.62h18.17v2.85h-18.17zM33.19 56.17h2.85v2.85h-2.85z"/>
<path fill="#0a97d1" d="M35.75 0h5.41v2.85h-5.41zM38.3 2.55h2.85v2.85h-2.85zM35.75 5.11h5.41v2.85h-5.41zM35.75 7.66h5.41v2.85h-5.41zM35.75 10.21h2.85v2.85h-2.85zM30.64 12.77h5.41v2.85h-5.41zM25.53 17.87h5.41v2.85h-5.41zM22.98 20.43h2.85v2.85h-2.85zM15.32 22.98h5.41v2.85h-5.41zM2.55 25.53h2.85v2.85h-2.85zM7.66 25.53h2.85v2.85h-2.85zM5.11 35.75h2.85v2.85h-2.85zM10.21 35.75h2.85v2.85h-2.85zM10.21 38.3h2.85v2.85h-2.85zM12.77 43.4h2.85v2.85h-2.85zM12.77 45.96h2.85v2.85h-2.85zM12.77 48.51h2.85v2.85h-2.85zM10.21 53.62h2.85v2.85h-2.85zM12.77 56.17h2.85v2.85h-2.85zM35.75 61.28h2.85v2.85h-2.85z"/>
<path fill="#079ccf" d="M30.64 0h5.41v2.85h-5.41zM33.19 2.55h5.41v2.85h-5.41zM30.64 5.11h5.41v2.85h-5.41zM30.64 7.66h5.41v2.85h-5.41zM28.09 10.21h7.96v2.85h-7.96zM25.53 15.32h5.41v2.85h-5.41zM22.98 17.87h2.85v2.85h-2.85zM12.77 20.43h10.51v2.85h-10.51zM7.66 22.98h7.96v2.85h-7.96zM5.11 25.53h2.85v2.85h-2.85zM2.55 38.3h2.85v2.85h-2.85zM7.66 38.3h2.85v2.85h-2.85zM0 40.85h2.85v2.85h-2.85zM10.21 40.85h2.85v2.85h-2.85zM10.21 51.06h2.85v2.85h-2.85zM15.32 56.17h2.85v2.85h-2.85zM30.64 56.17h2.85v2.85h-2.85zM33.19 58.72h2.85v2.85h-2.85zM35.75 63.83h2.85v2.85h-2.85z"/>
<path fill="#06a1cc" d="M30.64 2.55h2.85v2.85h-2.85zM28.09 5.11h2.85v2.85h-2.85zM28.09 7.66h2.85v2.85h-2.85zM25.53 12.77h5.41v2.85h-5.41zM22.98 15.32h2.85v2.85h-2.85zM17.87 17.87h5.41v2.85h-5.41zM0 22.98h2.85v2.85h-2.85zM5.11 38.3h2.85v2.85h-2.85zM0 48.51h2.85v2.85h-2.85zM10.21 48.51h2.85v2.85h-2.85zM7.66 51.06h2.85v2.85h-2.85zM33.19 61.28h2.85v2.85h-2.85z"/>
<path fill="#06a6c7" d="M25.53 0h5.41v2.85h-5.41zM25.53 2.55h5.41v2.85h-5.41zM25.53 5.11h2.85v2.85h-2.85zM25.53 7.66h2.85v2.85h-2.85zM22.98 10.21h5.41v2.85h-5.41zM22.98 12.77h2.85v2.85h-2.85zM20.43 15.32h2.85v2.85h-2.85zM12.77 17.87h5.41v2.85h-5.41zM10.21 20.43h2.85v2.85h-2.85zM5.11 22.98h2.85v2.85h-2.85zM2.55 40.85h7.96v2.85h-7.96zM0 43.4h2.85v2.85h-2.85zM10.21 43.4h2.85v2.85h-2.85zM0 45.96h2.85v2.85h-2.85zM10.21 45.96h2.85v2.85h-2.85zM7.66 48.51h2.85v2.85h-2.85zM17.87 56.17h2.85v2.85h-2.85z"/>
<path fill="#07a9c2" d="M20.43 0h5.41v2.85h-5.41zM20.43 2.55h5.41v2.85h-5.41zM22.98 5.11h2.85v2.85h-2.85zM22.98 7.66h2.85v2.85h-2.85zM20.43 10.21h2.85v2.85h-2.85zM20.43 12.77h2.85v2.85h-2.85zM15.32 15.32h5.41v2.85h-5.41zM7.66 20.43h2.85v2.85h-2.85zM2.55 22.98h2.85v2.85h-2.85zM7.66 43.4h2.85v2.85h-2.85zM2.55 45.96h2.85v2.85h-2.85zM7.66 45.96h2.85v2.85h-2.85zM2.55 48.51h5.41v2.85h-5.41zM22.98 56.17h7.96v2.85h-7.96zM15.32 58.72h2.85v2.85h-2.85z"/>
<path fill="#0badbc" d="M17.87 0h2.85v2.85h-2.85zM17.87 2.55h2.85v2.85h-2.85zM20.43 5.11h2.85v2.85h-2.85zM20.43 7.66h2.85v2.85h-2.85zM17.87 10.21h2.85v2.85h-2.85zM17.87 12.77h2.85v2.85h-2.85zM12.77 15.32h2.85v2.85h-2.85zM10.21 17.87h2.85v2.85h-2.85zM2.55 43.4h5.41v2.85h-5.41zM5.11 45.96h2.85v2.85h-2.85zM20.43 56.17h2.85v2.85h-2.85zM30.64 58.72h2.85v2.85h-2.85z"/>
<path fill="#13b0b6" d="M17.87 5.11h2.85v2.85h-2.85zM15.32 7.66h5.41v2.85h-5.41zM12.77 10.21h5.41v2.85h-5.41zM12.77 12.77h5.41v2.85h-5.41zM17.87 58.72h2.85v2.85h-2.85zM15.32 61.28h2.85v2.85h-2.85zM30.64 61.28h2.85v2.85h-2.85zM33.19 63.83h2.85v2.85h-2.85z"/>
<path fill="#1cb3b0" d="M0 0h2.85v2.85h-2.85zM12.77 5.11h5.41v2.85h-5.41zM10.21 15.32h2.85v2.85h-2.85zM7.66 17.87h2.85v2.85h-2.85zM0 20.43h2.85v2.85h-2.85zM5.11 20.43h2.85v2.85h-2.85zM28.09 58.72h2.85v2.85h-2.85z"/>
<path fill="#27b5a8" d="M5.11 0h2.85v2.85h-2.85zM10.21 5.11h2.85v2.85h-2.85zM12.77 7.66h2.85v2.85h-2.85zM10.21 10.21h2.85v2.85h-2.85zM10.21 12.77h2.85v2.85h-2.85zM2.55 20.43h2.85v2.85h-2.85z"/>
<path fill="#33b8a1" d="M2.55 0h2.85v2.85h-2.85zM10.21 7.66h2.85v2.85h-2.85zM20.43 58.72h7.96v2.85h-7.96zM17.87 61.28h2.85v2.85h-2.85zM28.09 61.28h2.85v2.85h-2.85z"/>
<path fill="#40ba99" d="M7.66 15.32h2.85v2.85h-2.85zM20.43 61.28h2.85v2.85h-2.85z"/>
<path fill="#5ebe89" d="M7.66 5.11h2.85v2.85h-2.85zM5.11 17.87h2.85v2.85h-2.85zM22.98 61.28h5.41v2.85h-5.41z"/>
<path fill="#6ebf82" d="M0 2.55h2.85v2.85h-2.85zM5.11 2.55h2.85v2.85h-2.85zM7.66 12.77h2.85v2.85h-2.85zM30.64 63.83h2.85v2.85h-2.85z"/>
<path fill="#7dbf7b" d="M2.55 2.55h2.85v2.85h-2.85zM7.66 7.66h2.85v2.85h-2.85zM7.66 10.21h2.85v2.85h-2.85zM0 17.87h2.85v2.85h-2.85z"/>
<path fill="#8bbf75" d="M2.55 17.87h2.85v2.85h-2.85z"/>
<path fill="#a5be6b" d="M5.11 5.11h2.85v2.85h-2.85zM5.11 15.32h2.85v2.85h-2.85zM17.87 63.83h2.85v2.85h-2.85z"/>
<path fill="#bdbd61" d="M0 5.11h2.85v2.85h-2.85zM20.43 63.83h2.85v2.85h-2.85z"/>
<path fill="#c8bc5d" d="M28.09 63.83h2.85v2.85h-2.85z"/>
<path fill="#d3bb58" d="M5.11 7.66h2.85v2.85h-2.85zM0 15.32h2.85v2.85h-2.85z"/>
<path fill="#ddba54" d="M2.55 5.11h2.85v2.85h-2.85zM5.11 12.77h2.85v2.85h-2.85zM22.98 63.83h5.41v2.85h-5.41zM30.64 66.38h2.85v2.85h-2.85z"/>
<path fill="#e8b94f" d="M5.11 10.21h2.85v2.85h-2.85zM2.55 15.32h2.85v2.85h-2.85z"/>
<path fill="#fbbc41" d="M0 7.66h2.85v2.85h-2.85zM15.32 66.38h2.85v2.85h-2.85z"/>
<path fill="#fec238" d="M0 12.77h2.85v2.85h-2.85z"/>
<path fill="#fec932" d="M2.55 7.66h2.85v2.85h-2.85zM15.32 68.94h2.85v2.85h-2.85z"/>
<path fill="#fbd02c" d="M0 10.21h2.85v2.85h-2.85zM2.55 12.77h2.85v2.85h-2.85z"/>
<path fill="#f5de21" d="M2.55 10.21h2.85v2.85h-2.85zM22.98 68.94h2.85v2.85h-2.85z"/>
<path fill="#f5e71b" d="M17.87 66.38h2.85v2.85h-2.85z"/>
<path fill="#f6f015" d="M17.87 68.94h2.85v2.85h-2.85z"/>
<path fill="#f9fb0e" d="M20.43 66.38h10.51v2.85h-10.51zM20.43 68.94h2.85v2.85h-2.85z"/>
</g>
<rect x="0.8" y="0.8" width="78.85" height="78.85" fill="none" stroke="#000" stroke-width="1.6"/>
</g>
<g transform="translate(423.15,57.25)">
<clipPath id="mc3"><rect x="0.4" y="0.4" width="79.65" height="79.65"/></clipPath>
<rect x="0" y="0" width="80.45" height="80.45" fill="#000"/>
<path d="M1.93 0v-2.6 M1.93 80.45v2.6 M0 1.93h-2.6 M80.45 1.93h2.6 M27.46 0v-2.6 M27.46 80.45v2.6 M0 27.46h-2.6 M80.45 27.46h2.6 M52.99 0v-2.6 M52.99 80.45v2.6 M0 52.99h-2.6 M80.45 52.99h2.6 M78.52 0v-2.6 M78.52 80.45v2.6 M0 78.52h-2.6 M80.45 78.52h2.6" stroke="#000" stroke-width="1.3" fill="none"/>
<g shape-rendering="crispEdges" clip-path="url(#mc3)" transform="translate(0.65,-0.7)">
<path fill="#363297" d="M40.85 33.19h2.85v2.85h-2.85zM35.75 38.3h2.85v2.85h-2.85zM35.75 40.85h5.41v2.85h-5.41zM35.75 43.4h2.85v2.85h-2.85z"/>
<path fill="#353aa8" d="M58.72 20.43h5.41v2.85h-5.41zM56.17 22.98h2.85v2.85h-2.85zM51.06 25.53h7.96v2.85h-7.96zM43.4 30.64h2.85v2.85h-2.85zM38.3 33.19h2.85v2.85h-2.85zM35.75 35.75h2.85v2.85h-2.85z"/>
<path fill="#3243b9" d="M61.28 15.32h2.85v2.85h-2.85zM56.17 17.87h7.96v2.85h-7.96zM53.62 20.43h5.41v2.85h-5.41zM51.06 22.98h5.41v2.85h-5.41zM58.72 22.98h2.85v2.85h-2.85zM45.96 28.09h7.96v2.85h-7.96zM40.85 30.64h2.85v2.85h-2.85zM45.96 30.64h2.85v2.85h-2.85zM66.38 35.75h2.85v2.85h-2.85zM33.19 45.96h2.85v2.85h-2.85z"/>
<path fill="#294cca" d="M63.83 12.77h2.85v2.85h-2.85zM56.17 15.32h5.41v2.85h-5.41zM51.06 20.43h2.85v2.85h-2.85zM48.51 22.98h2.85v2.85h-2.85zM61.28 22.98h2.85v2.85h-2.85zM45.96 25.53h5.41v2.85h-5.41zM40.85 28.09h5.41v2.85h-5.41zM38.3 30.64h2.85v2.85h-2.85zM35.75 33.19h2.85v2.85h-2.85zM33.19 38.3h2.85v2.85h-2.85zM33.19 40.85h2.85v2.85h-2.85zM33.19 43.4h2.85v2.85h-2.85zM33.19 48.51h2.85v2.85h-2.85z"/>
<path fill="#1658d9" d="M63.83 10.21h2.85v2.85h-2.85zM58.72 12.77h5.41v2.85h-5.41zM51.06 17.87h5.41v2.85h-5.41zM48.51 20.43h2.85v2.85h-2.85zM45.96 22.98h2.85v2.85h-2.85zM43.4 25.53h2.85v2.85h-2.85zM38.3 28.09h2.85v2.85h-2.85zM35.75 51.06h2.85v2.85h-2.85z"/>
<path fill="#0462e0" d="M58.72 10.21h5.41v2.85h-5.41zM56.17 12.77h2.85v2.85h-2.85zM53.62 15.32h2.85v2.85h-2.85zM45.96 20.43h2.85v2.85h-2.85zM40.85 25.53h2.85v2.85h-2.85zM35.75 30.64h2.85v2.85h-2.85zM33.19 33.19h2.85v2.85h-2.85zM33.19 35.75h2.85v2.85h-2.85z"/>
<path fill="#0269e1" d="M61.28 5.11h2.85v2.85h-2.85zM61.28 7.66h7.96v2.85h-7.96zM53.62 12.77h2.85v2.85h-2.85zM51.06 15.32h2.85v2.85h-2.85zM48.51 17.87h2.85v2.85h-2.85zM43.4 22.98h2.85v2.85h-2.85zM38.3 25.53h2.85v2.85h-2.85zM35.75 28.09h2.85v2.85h-2.85zM30.64 45.96h2.85v2.85h-2.85zM33.19 51.06h2.85v2.85h-2.85z"/>
<path fill="#066fdf" d="M63.83 2.55h5.41v2.85h-5.41zM58.72 5.11h2.85v2.85h-2.85zM63.83 5.11h5.41v2.85h-5.41zM56.17 7.66h5.41v2.85h-5.41zM53.62 10.21h5.41v2.85h-5.41zM51.06 12.77h2.85v2.85h-2.85zM45.96 15.32h5.41v2.85h-5.41zM43.4 17.87h5.41v2.85h-5.41zM43.4 20.43h2.85v2.85h-2.85zM38.3 22.98h5.41v2.85h-5.41zM35.75 25.53h2.85v2.85h-2.85zM33.19 28.09h2.85v2.85h-2.85zM33.19 30.64h2.85v2.85h-2.85zM30.64 33.19h2.85v2.85h-2.85zM30.64 35.75h2.85v2.85h-2.85zM30.64 38.3h2.85v2.85h-2.85zM30.64 40.85h2.85v2.85h-2.85zM30.64 43.4h2.85v2.85h-2.85zM30.64 48.51h2.85v2.85h-2.85z"/>
<path fill="#0c74dd" d="M63.83 0h2.85v2.85h-2.85zM56.17 2.55h7.96v2.85h-7.96zM68.94 2.55h5.41v2.85h-5.41zM56.17 5.11h2.85v2.85h-2.85zM53.62 7.66h2.85v2.85h-2.85zM51.06 10.21h2.85v2.85h-2.85zM48.51 12.77h2.85v2.85h-2.85zM40.85 20.43h2.85v2.85h-2.85zM33.19 22.98h2.85v2.85h-2.85zM30.64 30.64h2.85v2.85h-2.85zM28.09 45.96h2.85v2.85h-2.85zM33.19 53.62h5.41v2.85h-5.41z"/>
<path fill="#1079da" d="M53.62 0h10.51v2.85h-10.51zM66.38 0h7.96v2.85h-7.96zM51.06 2.55h5.41v2.85h-5.41zM53.62 5.11h2.85v2.85h-2.85zM51.06 7.66h2.85v2.85h-2.85zM48.51 10.21h2.85v2.85h-2.85zM45.96 12.77h2.85v2.85h-2.85zM43.4 15.32h2.85v2.85h-2.85zM38.3 17.87h5.41v2.85h-5.41zM33.19 20.43h7.96v2.85h-7.96zM10.21 22.98h2.85v2.85h-2.85zM15.32 22.98h2.85v2.85h-2.85zM28.09 22.98h5.41v2.85h-5.41zM35.75 22.98h2.85v2.85h-2.85zM17.87 25.53h2.85v2.85h-2.85zM25.53 25.53h10.51v2.85h-10.51zM7.66 28.09h5.41v2.85h-5.41zM22.98 28.09h10.51v2.85h-10.51zM22.98 30.64h7.96v2.85h-7.96zM17.87 33.19h13.07v2.85h-13.07zM25.53 35.75h5.41v2.85h-5.41zM22.98 38.3h7.96v2.85h-7.96zM25.53 40.85h5.41v2.85h-5.41zM25.53 43.4h5.41v2.85h-5.41zM25.53 45.96h2.85v2.85h-2.85zM25.53 48.51h5.41v2.85h-5.41zM28.09 51.06h5.41v2.85h-5.41zM30.64 53.62h2.85v2.85h-2.85zM38.3 56.17h2.85v2.85h-2.85z"/>
<path fill="#137ed7" d="M48.51 0h5.41v2.85h-5.41zM48.51 5.11h5.41v2.85h-5.41zM48.51 7.66h2.85v2.85h-2.85zM45.96 10.21h2.85v2.85h-2.85zM35.75 15.32h2.85v2.85h-2.85zM40.85 15.32h2.85v2.85h-2.85zM30.64 17.87h7.96v2.85h-7.96zM10.21 20.43h23.28v2.85h-23.28zM7.66 22.98h2.85v2.85h-2.85zM12.77 22.98h2.85v2.85h-2.85zM17.87 22.98h10.51v2.85h-10.51zM7.66 25.53h10.51v2.85h-10.51zM20.43 25.53h5.41v2.85h-5.41zM5.11 28.09h2.85v2.85h-2.85zM12.77 28.09h10.51v2.85h-10.51zM5.11 30.64h18.17v2.85h-18.17zM5.11 33.19h13.07v2.85h-13.07zM10.21 35.75h15.62v2.85h-15.62zM17.87 38.3h5.41v2.85h-5.41zM20.43 40.85h5.41v2.85h-5.41zM17.87 43.4h2.85v2.85h-2.85zM22.98 43.4h2.85v2.85h-2.85zM22.98 45.96h2.85v2.85h-2.85zM22.98 48.51h2.85v2.85h-2.85zM20.43 51.06h2.85v2.85h-2.85zM25.53 51.06h2.85v2.85h-2.85zM25.53 53.62h5.41v2.85h-5.41zM35.75 56.17h2.85v2.85h-2.85z"/>
<path fill="#1484d4" d="M45.96 2.55h5.41v2.85h-5.41zM43.4 7.66h5.41v2.85h-5.41zM43.4 10.21h2.85v2.85h-2.85zM38.3 12.77h7.96v2.85h-7.96zM33.19 15.32h2.85v2.85h-2.85zM38.3 15.32h2.85v2.85h-2.85zM7.66 17.87h10.51v2.85h-10.51zM20.43 17.87h10.51v2.85h-10.51zM7.66 20.43h2.85v2.85h-2.85zM5.11 25.53h2.85v2.85h-2.85zM2.55 28.09h2.85v2.85h-2.85zM5.11 35.75h5.41v2.85h-5.41zM12.77 38.3h5.41v2.85h-5.41zM15.32 40.85h5.41v2.85h-5.41zM15.32 43.4h2.85v2.85h-2.85zM20.43 43.4h2.85v2.85h-2.85zM17.87 45.96h5.41v2.85h-5.41zM17.87 48.51h5.41v2.85h-5.41zM17.87 51.06h2.85v2.85h-2.85zM22.98 51.06h2.85v2.85h-2.85zM20.43 53.62h5.41v2.85h-5.41zM28.09 56.17h2.85v2.85h-2.85zM33.19 56.17h2.85v2.85h-2.85zM45.96 61.28h2.85v2.85h-2.85z"/>
<path fill="#1389d3" d="M43.4 0h5.41v2.85h-5.41zM43.4 5.11h5.41v2.85h-5.41zM40.85 7.66h2.85v2.85h-2.85zM38.3 10.21h5.41v2.85h-5.41zM35.75 12.77h2.85v2.85h-2.85zM7.66 15.32h25.83v2.85h-25.83zM17.87 17.87h2.85v2.85h-2.85zM5.11 22.98h2.85v2.85h-2.85zM0 25.53h2.85v2.85h-2.85zM5.11 38.3h7.96v2.85h-7.96zM12.77 40.85h2.85v2.85h-2.85zM15.32 45.96h2.85v2.85h-2.85zM15.32 48.51h2.85v2.85h-2.85zM15.32 51.06h2.85v2.85h-2.85zM17.87 53.62h2.85v2.85h-2.85zM22.98 56.17h5.41v2.85h-5.41zM30.64 56.17h2.85v2.85h-2.85zM35.75 58.72h5.41v2.85h-5.41z"/>
<path fill="#0f90d2" d="M35.75 10.21h2.85v2.85h-2.85zM22.98 12.77h2.85v2.85h-2.85zM28.09 12.77h7.96v2.85h-7.96zM5.11 20.43h2.85v2.85h-2.85zM0 40.85h5.41v2.85h-5.41zM10.21 40.85h2.85v2.85h-2.85zM0 43.4h2.85v2.85h-2.85zM12.77 43.4h2.85v2.85h-2.85zM12.77 45.96h2.85v2.85h-2.85zM12.77 48.51h2.85v2.85h-2.85zM12.77 51.06h2.85v2.85h-2.85zM0 53.62h2.85v2.85h-2.85zM20.43 56.17h2.85v2.85h-2.85zM43.4 61.28h2.85v2.85h-2.85z"/>
<path fill="#0a97d1" d="M43.4 2.55h2.85v2.85h-2.85zM40.85 5.11h2.85v2.85h-2.85zM38.3 7.66h2.85v2.85h-2.85zM30.64 10.21h5.41v2.85h-5.41zM12.77 12.77h2.85v2.85h-2.85zM25.53 12.77h2.85v2.85h-2.85zM2.55 25.53h2.85v2.85h-2.85zM5.11 40.85h5.41v2.85h-5.41zM2.55 43.4h2.85v2.85h-2.85zM10.21 43.4h2.85v2.85h-2.85zM0 45.96h2.85v2.85h-2.85zM0 51.06h2.85v2.85h-2.85zM2.55 53.62h2.85v2.85h-2.85zM7.66 53.62h5.41v2.85h-5.41zM28.09 58.72h2.85v2.85h-2.85zM33.19 58.72h2.85v2.85h-2.85z"/>
<path fill="#079ccf" d="M40.85 0h2.85v2.85h-2.85zM35.75 7.66h2.85v2.85h-2.85zM28.09 10.21h2.85v2.85h-2.85zM7.66 12.77h5.41v2.85h-5.41zM15.32 12.77h7.96v2.85h-7.96zM5.11 17.87h2.85v2.85h-2.85zM0 22.98h2.85v2.85h-2.85zM7.66 43.4h2.85v2.85h-2.85zM10.21 45.96h2.85v2.85h-2.85zM0 48.51h2.85v2.85h-2.85zM10.21 48.51h2.85v2.85h-2.85zM10.21 51.06h2.85v2.85h-2.85zM5.11 53.62h2.85v2.85h-2.85zM12.77 53.62h5.41v2.85h-5.41zM22.98 58.72h5.41v2.85h-5.41zM30.64 58.72h2.85v2.85h-2.85zM35.75 61.28h7.96v2.85h-7.96z"/>
<path fill="#06a1cc" d="M40.85 2.55h2.85v2.85h-2.85zM33.19 7.66h2.85v2.85h-2.85zM25.53 10.21h2.85v2.85h-2.85zM5.11 15.32h2.85v2.85h-2.85zM2.55 22.98h2.85v2.85h-2.85zM5.11 43.4h2.85v2.85h-2.85zM2.55 45.96h2.85v2.85h-2.85zM2.55 48.51h2.85v2.85h-2.85zM7.66 48.51h2.85v2.85h-2.85zM2.55 51.06h7.96v2.85h-7.96zM20.43 58.72h2.85v2.85h-2.85zM33.19 61.28h2.85v2.85h-2.85zM33.19 66.38h2.85v2.85h-2.85z"/>
<path fill="#06a6c7" d="M22.98 10.21h2.85v2.85h-2.85zM5.11 45.96h5.41v2.85h-5.41zM5.11 48.51h2.85v2.85h-2.85zM17.87 56.17h2.85v2.85h-2.85zM30.64 61.28h2.85v2.85h-2.85z"/>
<path fill="#07a9c2" d="M38.3 5.11h2.85v2.85h-2.85zM17.87 10.21h5.41v2.85h-5.41zM5.11 12.77h2.85v2.85h-2.85zM0 20.43h2.85v2.85h-2.85zM25.53 61.28h5.41v2.85h-5.41zM30.64 63.83h2.85v2.85h-2.85z"/>
<path fill="#0badbc" d="M30.64 7.66h2.85v2.85h-2.85zM7.66 10.21h2.85v2.85h-2.85zM15.32 10.21h2.85v2.85h-2.85zM2.55 20.43h2.85v2.85h-2.85zM22.98 61.28h2.85v2.85h-2.85zM28.09 63.83h2.85v2.85h-2.85zM33.19 63.83h2.85v2.85h-2.85zM30.64 66.38h2.85v2.85h-2.85z"/>
<path fill="#13b0b6" d="M38.3 0h2.85v2.85h-2.85zM10.21 10.21h5.41v2.85h-5.41zM22.98 63.83h5.41v2.85h-5.41z"/>
<path fill="#1cb3b0" d="M38.3 2.55h2.85v2.85h-2.85zM0 17.87h2.85v2.85h-2.85zM28.09 66.38h2.85v2.85h-2.85z"/>
<path fill="#27b5a8" d="M35.75 5.11h2.85v2.85h-2.85zM28.09 7.66h2.85v2.85h-2.85zM5.11 10.21h2.85v2.85h-2.85zM20.43 61.28h2.85v2.85h-2.85z"/>
<path fill="#33b8a1" d="M25.53 7.66h2.85v2.85h-2.85zM0 15.32h2.85v2.85h-2.85zM2.55 17.87h2.85v2.85h-2.85zM12.77 56.17h2.85v2.85h-2.85z"/>
<path fill="#40ba99" d="M35.75 63.83h2.85v2.85h-2.85zM22.98 66.38h5.41v2.85h-5.41z"/>
<path fill="#4fbc91" d="M35.75 0h2.85v2.85h-2.85zM33.19 5.11h2.85v2.85h-2.85zM0 12.77h2.85v2.85h-2.85zM20.43 63.83h2.85v2.85h-2.85z"/>
<path fill="#5ebe89" d="M22.98 7.66h2.85v2.85h-2.85zM0 10.21h2.85v2.85h-2.85zM2.55 15.32h2.85v2.85h-2.85zM15.32 56.17h2.85v2.85h-2.85z"/>
<path fill="#6ebf82" d="M17.87 58.72h2.85v2.85h-2.85z"/>
<path fill="#7dbf7b" d="M35.75 2.55h2.85v2.85h-2.85zM2.55 12.77h2.85v2.85h-2.85z"/>
<path fill="#8bbf75" d="M20.43 7.66h2.85v2.85h-2.85z"/>
<path fill="#98bf70" d="M2.55 10.21h2.85v2.85h-2.85zM43.4 63.83h2.85v2.85h-2.85zM20.43 66.38h2.85v2.85h-2.85z"/>
<path fill="#a5be6b" d="M33.19 0h2.85v2.85h-2.85zM30.64 5.11h2.85v2.85h-2.85z"/>
<path fill="#b1bd66" d="M17.87 7.66h2.85v2.85h-2.85z"/>
<path fill="#bdbd61" d="M0 7.66h2.85v2.85h-2.85z"/>
<path fill="#c8bc5d" d="M33.19 2.55h2.85v2.85h-2.85zM7.66 7.66h2.85v2.85h-2.85zM15.32 7.66h2.85v2.85h-2.85zM38.3 63.83h2.85v2.85h-2.85z"/>
<path fill="#d3bb58" d="M28.09 5.11h2.85v2.85h-2.85zM5.11 7.66h2.85v2.85h-2.85zM12.77 7.66h2.85v2.85h-2.85zM28.09 68.94h2.85v2.85h-2.85z"/>
<path fill="#ddba54" d="M10.21 7.66h2.85v2.85h-2.85z"/>
<path fill="#f2b949" d="M30.64 0h2.85v2.85h-2.85zM0 5.11h2.85v2.85h-2.85zM2.55 7.66h2.85v2.85h-2.85zM40.85 63.83h2.85v2.85h-2.85z"/>
<path fill="#fbbc41" d="M20.43 0h2.85v2.85h-2.85zM25.53 5.11h2.85v2.85h-2.85z"/>
<path fill="#fec932" d="M28.09 0h2.85v2.85h-2.85zM17.87 61.28h2.85v2.85h-2.85z"/>
<path fill="#fbd02c" d="M22.98 0h2.85v2.85h-2.85zM30.64 2.55h2.85v2.85h-2.85z"/>
<path fill="#f8d727" d="M25.53 0h2.85v2.85h-2.85zM22.98 5.11h2.85v2.85h-2.85z"/>
<path fill="#f5de21" d="M2.55 5.11h2.85v2.85h-2.85zM25.53 68.94h2.85v2.85h-2.85z"/>
<path fill="#f5e71b" d="M20.43 5.11h2.85v2.85h-2.85zM15.32 58.72h2.85v2.85h-2.85zM22.98 68.94h2.85v2.85h-2.85z"/>
<path fill="#f6f015" d="M5.11 5.11h2.85v2.85h-2.85zM20.43 68.94h2.85v2.85h-2.85z"/>
<path fill="#f9fb0e" d="M20.43 2.55h10.51v2.85h-10.51zM7.66 5.11h13.07v2.85h-13.07zM15.32 61.28h2.85v2.85h-2.85zM17.87 63.83h2.85v2.85h-2.85zM17.87 66.38h2.85v2.85h-2.85zM17.87 68.94h2.85v2.85h-2.85zM17.87 71.49h2.85v2.85h-2.85z"/>
</g>
<rect x="0.8" y="0.8" width="78.85" height="78.85" fill="none" stroke="#000" stroke-width="1.6"/>
</g>
<g transform="translate(511.5,57.25)">
<clipPath id="mc4"><rect x="0.4" y="0.4" width="79.65" height="79.65"/></clipPath>
<rect x="0" y="0" width="80.45" height="80.45" fill="#000"/>
<path d="M1.93 0v-2.6 M1.93 80.45v2.6 M0 1.93h-2.6 M80.45 1.93h2.6 M27.46 0v-2.6 M27.46 80.45v2.6 M0 27.46h-2.6 M80.45 27.46h2.6 M52.99 0v-2.6 M52.99 80.45v2.6 M0 52.99h-2.6 M80.45 52.99h2.6 M78.52 0v-2.6 M78.52 80.45v2.6 M0 78.52h-2.6 M80.45 78.52h2.6" stroke="#000" stroke-width="1.3" fill="none"/>
<g shape-rendering="crispEdges" clip-path="url(#mc4)" transform="translate(0.65,-0.7)">
<path fill="#363297" d="M51.06 20.43h5.41v2.85h-5.41z"/>
<path fill="#353aa8" d="M56.17 15.32h7.96v2.85h-7.96zM53.62 17.87h10.51v2.85h-10.51zM45.96 20.43h5.41v2.85h-5.41zM56.17 20.43h7.96v2.85h-7.96zM48.51 22.98h5.41v2.85h-5.41zM22.98 25.53h2.85v2.85h-2.85zM20.43 28.09h2.85v2.85h-2.85zM25.53 28.09h2.85v2.85h-2.85zM66.38 30.64h5.41v2.85h-5.41zM66.38 33.19h5.41v2.85h-5.41z"/>
<path fill="#3243b9" d="M61.28 12.77h2.85v2.85h-2.85zM63.83 15.32h2.85v2.85h-2.85zM43.4 17.87h10.51v2.85h-10.51zM63.83 17.87h2.85v2.85h-2.85zM43.4 20.43h2.85v2.85h-2.85zM63.83 20.43h2.85v2.85h-2.85zM20.43 22.98h5.41v2.85h-5.41zM43.4 22.98h5.41v2.85h-5.41zM53.62 22.98h13.07v2.85h-13.07zM17.87 25.53h5.41v2.85h-5.41zM25.53 25.53h5.41v2.85h-5.41zM45.96 25.53h5.41v2.85h-5.41zM15.32 28.09h5.41v2.85h-5.41zM22.98 28.09h2.85v2.85h-2.85zM66.38 28.09h5.41v2.85h-5.41zM22.98 30.64h2.85v2.85h-2.85zM35.75 35.75h2.85v2.85h-2.85zM40.85 35.75h2.85v2.85h-2.85zM68.94 35.75h2.85v2.85h-2.85zM38.3 38.3h5.41v2.85h-5.41zM35.75 40.85h7.96v2.85h-7.96z"/>
<path fill="#294cca" d="M56.17 12.77h5.41v2.85h-5.41zM63.83 12.77h2.85v2.85h-2.85zM43.4 15.32h2.85v2.85h-2.85zM48.51 15.32h2.85v2.85h-2.85zM53.62 15.32h2.85v2.85h-2.85zM66.38 15.32h2.85v2.85h-2.85zM66.38 17.87h2.85v2.85h-2.85zM40.85 20.43h2.85v2.85h-2.85zM66.38 20.43h2.85v2.85h-2.85zM15.32 22.98h5.41v2.85h-5.41zM25.53 22.98h2.85v2.85h-2.85zM35.75 22.98h7.96v2.85h-7.96zM66.38 22.98h2.85v2.85h-2.85zM15.32 25.53h2.85v2.85h-2.85zM30.64 25.53h2.85v2.85h-2.85zM40.85 25.53h5.41v2.85h-5.41zM51.06 25.53h5.41v2.85h-5.41zM58.72 25.53h2.85v2.85h-2.85zM66.38 25.53h5.41v2.85h-5.41zM12.77 28.09h2.85v2.85h-2.85zM28.09 28.09h18.17v2.85h-18.17zM17.87 30.64h5.41v2.85h-5.41zM25.53 30.64h10.51v2.85h-10.51zM38.3 30.64h5.41v2.85h-5.41zM35.75 33.19h10.51v2.85h-10.51zM33.19 35.75h2.85v2.85h-2.85zM38.3 35.75h2.85v2.85h-2.85zM43.4 35.75h2.85v2.85h-2.85zM66.38 35.75h2.85v2.85h-2.85zM33.19 38.3h5.41v2.85h-5.41zM43.4 38.3h2.85v2.85h-2.85zM33.19 40.85h2.85v2.85h-2.85zM35.75 43.4h5.41v2.85h-5.41z"/>
<path fill="#1658d9" d="M66.38 12.77h2.85v2.85h-2.85zM45.96 15.32h2.85v2.85h-2.85zM51.06 15.32h2.85v2.85h-2.85zM40.85 17.87h2.85v2.85h-2.85zM68.94 17.87h2.85v2.85h-2.85zM17.87 20.43h7.96v2.85h-7.96zM30.64 20.43h2.85v2.85h-2.85zM68.94 20.43h2.85v2.85h-2.85zM28.09 22.98h7.96v2.85h-7.96zM68.94 22.98h2.85v2.85h-2.85zM10.21 25.53h5.41v2.85h-5.41zM33.19 25.53h7.96v2.85h-7.96zM56.17 25.53h2.85v2.85h-2.85zM61.28 25.53h2.85v2.85h-2.85zM45.96 28.09h7.96v2.85h-7.96zM12.77 30.64h5.41v2.85h-5.41zM35.75 30.64h2.85v2.85h-2.85zM43.4 30.64h7.96v2.85h-7.96zM20.43 33.19h15.62v2.85h-15.62zM28.09 35.75h5.41v2.85h-5.41zM30.64 38.3h2.85v2.85h-2.85zM30.64 40.85h2.85v2.85h-2.85zM33.19 45.96h7.96v2.85h-7.96z"/>
<path fill="#0462e0" d="M63.83 7.66h2.85v2.85h-2.85zM53.62 10.21h15.62v2.85h-15.62zM45.96 12.77h10.51v2.85h-10.51zM68.94 12.77h2.85v2.85h-2.85zM38.3 15.32h2.85v2.85h-2.85zM68.94 15.32h2.85v2.85h-2.85zM33.19 17.87h2.85v2.85h-2.85zM15.32 20.43h2.85v2.85h-2.85zM25.53 20.43h5.41v2.85h-5.41zM33.19 20.43h2.85v2.85h-2.85zM10.21 22.98h5.41v2.85h-5.41zM7.66 25.53h2.85v2.85h-2.85zM10.21 28.09h2.85v2.85h-2.85zM53.62 28.09h2.85v2.85h-2.85zM61.28 28.09h2.85v2.85h-2.85zM10.21 30.64h2.85v2.85h-2.85zM15.32 33.19h5.41v2.85h-5.41zM45.96 33.19h2.85v2.85h-2.85zM20.43 35.75h2.85v2.85h-2.85zM25.53 35.75h2.85v2.85h-2.85zM28.09 38.3h2.85v2.85h-2.85zM30.64 43.4h5.41v2.85h-5.41zM35.75 48.51h5.41v2.85h-5.41z"/>
<path fill="#0269e1" d="M71.49 0h5.41v2.85h-5.41zM61.28 2.55h2.85v2.85h-2.85zM68.94 2.55h2.85v2.85h-2.85zM56.17 5.11h2.85v2.85h-2.85zM61.28 5.11h10.51v2.85h-10.51zM45.96 7.66h2.85v2.85h-2.85zM51.06 7.66h13.07v2.85h-13.07zM66.38 7.66h5.41v2.85h-5.41zM51.06 10.21h2.85v2.85h-2.85zM68.94 10.21h2.85v2.85h-2.85zM30.64 15.32h7.96v2.85h-7.96zM17.87 17.87h10.51v2.85h-10.51zM30.64 17.87h2.85v2.85h-2.85zM10.21 20.43h5.41v2.85h-5.41zM7.66 22.98h2.85v2.85h-2.85zM7.66 28.09h2.85v2.85h-2.85zM7.66 30.64h2.85v2.85h-2.85zM10.21 33.19h5.41v2.85h-5.41zM15.32 35.75h5.41v2.85h-5.41zM22.98 35.75h2.85v2.85h-2.85zM22.98 38.3h5.41v2.85h-5.41zM25.53 40.85h5.41v2.85h-5.41zM22.98 43.4h7.96v2.85h-7.96zM20.43 45.96h13.07v2.85h-13.07zM25.53 48.51h2.85v2.85h-2.85zM33.19 48.51h2.85v2.85h-2.85z"/>
<path fill="#066fdf" d="M48.51 0h23.28v2.85h-23.28zM48.51 2.55h13.07v2.85h-13.07zM63.83 2.55h5.41v2.85h-5.41zM71.49 2.55h5.41v2.85h-5.41zM48.51 5.11h7.96v2.85h-7.96zM58.72 5.11h2.85v2.85h-2.85zM71.49 5.11h2.85v2.85h-2.85zM40.85 10.21h2.85v2.85h-2.85zM33.19 12.77h5.41v2.85h-5.41zM25.53 15.32h5.41v2.85h-5.41zM15.32 17.87h2.85v2.85h-2.85zM7.66 20.43h2.85v2.85h-2.85zM12.77 35.75h2.85v2.85h-2.85zM15.32 38.3h7.96v2.85h-7.96zM17.87 40.85h7.96v2.85h-7.96zM20.43 43.4h2.85v2.85h-2.85zM17.87 45.96h2.85v2.85h-2.85zM28.09 48.51h5.41v2.85h-5.41zM33.19 51.06h7.96v2.85h-7.96zM38.3 53.62h2.85v2.85h-2.85z"/>
<path fill="#0c74dd" d="M45.96 5.11h2.85v2.85h-2.85zM43.4 7.66h2.85v2.85h-2.85zM22.98 15.32h2.85v2.85h-2.85zM12.77 17.87h2.85v2.85h-2.85zM5.11 25.53h2.85v2.85h-2.85zM7.66 33.19h2.85v2.85h-2.85zM10.21 35.75h2.85v2.85h-2.85zM12.77 38.3h2.85v2.85h-2.85zM15.32 40.85h2.85v2.85h-2.85zM15.32 43.4h5.41v2.85h-5.41zM15.32 48.51h10.51v2.85h-10.51zM22.98 51.06h10.51v2.85h-10.51zM43.4 58.72h2.85v2.85h-2.85zM43.4 61.28h5.41v2.85h-5.41z"/>
<path fill="#1079da" d="M45.96 2.55h2.85v2.85h-2.85zM38.3 10.21h2.85v2.85h-2.85zM28.09 12.77h5.41v2.85h-5.41zM20.43 15.32h2.85v2.85h-2.85zM10.21 17.87h2.85v2.85h-2.85zM5.11 22.98h2.85v2.85h-2.85zM5.11 28.09h2.85v2.85h-2.85zM10.21 38.3h2.85v2.85h-2.85zM12.77 40.85h2.85v2.85h-2.85zM15.32 45.96h2.85v2.85h-2.85zM20.43 51.06h2.85v2.85h-2.85zM30.64 53.62h7.96v2.85h-7.96zM38.3 56.17h2.85v2.85h-2.85zM40.85 58.72h2.85v2.85h-2.85z"/>
<path fill="#137ed7" d="M45.96 0h2.85v2.85h-2.85zM5.11 20.43h2.85v2.85h-2.85zM7.66 35.75h2.85v2.85h-2.85zM10.21 40.85h2.85v2.85h-2.85zM12.77 43.4h2.85v2.85h-2.85zM12.77 45.96h2.85v2.85h-2.85zM12.77 48.51h2.85v2.85h-2.85zM17.87 51.06h2.85v2.85h-2.85zM22.98 53.62h7.96v2.85h-7.96zM35.75 56.17h2.85v2.85h-2.85zM38.3 58.72h2.85v2.85h-2.85z"/>
<path fill="#1484d4" d="M35.75 10.21h2.85v2.85h-2.85zM25.53 12.77h2.85v2.85h-2.85zM17.87 15.32h2.85v2.85h-2.85zM7.66 17.87h2.85v2.85h-2.85zM0 40.85h2.85v2.85h-2.85zM33.19 56.17h2.85v2.85h-2.85zM38.3 61.28h5.41v2.85h-5.41z"/>
<path fill="#1389d3" d="M7.66 38.3h2.85v2.85h-2.85zM0 43.4h2.85v2.85h-2.85zM10.21 43.4h2.85v2.85h-2.85zM0 45.96h2.85v2.85h-2.85zM0 48.51h2.85v2.85h-2.85zM10.21 48.51h2.85v2.85h-2.85zM15.32 51.06h2.85v2.85h-2.85zM20.43 53.62h2.85v2.85h-2.85zM28.09 56.17h5.41v2.85h-5.41zM33.19 58.72h5.41v2.85h-5.41zM35.75 61.28h2.85v2.85h-2.85z"/>
<path fill="#0f90d2" d="M43.4 5.11h2.85v2.85h-2.85zM40.85 7.66h2.85v2.85h-2.85zM33.19 10.21h2.85v2.85h-2.85zM15.32 15.32h2.85v2.85h-2.85zM5.11 30.64h2.85v2.85h-2.85zM10.21 45.96h2.85v2.85h-2.85zM25.53 56.17h2.85v2.85h-2.85z"/>
<path fill="#0a97d1" d="M7.66 40.85h2.85v2.85h-2.85zM7.66 43.4h2.85v2.85h-2.85zM7.66 48.51h2.85v2.85h-2.85zM12.77 51.06h2.85v2.85h-2.85zM12.77 53.62h2.85v2.85h-2.85zM22.98 56.17h2.85v2.85h-2.85zM30.64 58.72h2.85v2.85h-2.85zM30.64 61.28h5.41v2.85h-5.41z"/>
<path fill="#079ccf" d="M22.98 12.77h2.85v2.85h-2.85zM2.55 43.4h2.85v2.85h-2.85zM2.55 45.96h2.85v2.85h-2.85zM7.66 45.96h2.85v2.85h-2.85zM2.55 48.51h2.85v2.85h-2.85zM28.09 58.72h2.85v2.85h-2.85zM28.09 61.28h2.85v2.85h-2.85z"/>
<path fill="#06a1cc" d="M5.11 17.87h2.85v2.85h-2.85zM2.55 40.85h2.85v2.85h-2.85zM5.11 45.96h2.85v2.85h-2.85zM5.11 48.51h2.85v2.85h-2.85zM25.53 58.72h2.85v2.85h-2.85z"/>
<path fill="#06a6c7" d="M12.77 15.32h2.85v2.85h-2.85zM0 28.09h5.41v2.85h-5.41zM17.87 53.62h2.85v2.85h-2.85zM20.43 56.17h2.85v2.85h-2.85zM22.98 58.72h2.85v2.85h-2.85zM25.53 61.28h2.85v2.85h-2.85z"/>
<path fill="#07a9c2" d="M43.4 2.55h2.85v2.85h-2.85zM30.64 10.21h2.85v2.85h-2.85zM5.11 43.4h2.85v2.85h-2.85zM15.32 53.62h2.85v2.85h-2.85z"/>
<path fill="#0badbc" d="M43.4 0h2.85v2.85h-2.85zM20.43 12.77h2.85v2.85h-2.85z"/>
<path fill="#13b0b6" d="M38.3 7.66h2.85v2.85h-2.85zM0 25.53h2.85v2.85h-2.85zM22.98 61.28h2.85v2.85h-2.85zM30.64 63.83h5.41v2.85h-5.41z"/>
<path fill="#1cb3b0" d="M2.55 25.53h2.85v2.85h-2.85z"/>
<path fill="#27b5a8" d="M10.21 15.32h2.85v2.85h-2.85zM10.21 51.06h2.85v2.85h-2.85zM28.09 63.83h2.85v2.85h-2.85z"/>
<path fill="#33b8a1" d="M28.09 10.21h2.85v2.85h-2.85zM2.55 22.98h2.85v2.85h-2.85zM20.43 58.72h2.85v2.85h-2.85zM5.11 76.6h2.85v2.85h-2.85z"/>
<path fill="#40ba99" d="M0 22.98h2.85v2.85h-2.85z"/>
<path fill="#4fbc91" d="M5.11 33.19h2.85v2.85h-2.85zM5.11 40.85h2.85v2.85h-2.85zM25.53 63.83h2.85v2.85h-2.85z"/>
<path fill="#5ebe89" d="M17.87 12.77h2.85v2.85h-2.85zM0 20.43h5.41v2.85h-5.41z"/>
<path fill="#6ebf82" d="M40.85 5.11h2.85v2.85h-2.85zM35.75 7.66h2.85v2.85h-2.85zM0 51.06h2.85v2.85h-2.85zM35.75 63.83h2.85v2.85h-2.85z"/>
<path fill="#7dbf7b" d="M7.66 15.32h2.85v2.85h-2.85z"/>
<path fill="#8bbf75" d="M25.53 10.21h2.85v2.85h-2.85zM20.43 61.28h2.85v2.85h-2.85zM40.85 63.83h2.85v2.85h-2.85zM33.19 66.38h2.85v2.85h-2.85z"/>
<path fill="#a5be6b" d="M7.66 51.06h2.85v2.85h-2.85zM17.87 56.17h2.85v2.85h-2.85z"/>
<path fill="#bdbd61" d="M33.19 7.66h2.85v2.85h-2.85zM15.32 12.77h2.85v2.85h-2.85zM22.98 63.83h2.85v2.85h-2.85z"/>
<path fill="#c8bc5d" d="M40.85 2.55h2.85v2.85h-2.85zM2.55 17.87h2.85v2.85h-2.85zM5.11 38.3h2.85v2.85h-2.85zM38.3 63.83h2.85v2.85h-2.85z"/>
<path fill="#d3bb58" d="M22.98 10.21h2.85v2.85h-2.85zM5.11 35.75h2.85v2.85h-2.85zM15.32 56.17h2.85v2.85h-2.85z"/>
<path fill="#ddba54" d="M40.85 0h2.85v2.85h-2.85zM2.55 51.06h2.85v2.85h-2.85z"/>
<path fill="#e8b94f" d="M5.11 15.32h2.85v2.85h-2.85zM5.11 51.06h2.85v2.85h-2.85zM30.64 66.38h2.85v2.85h-2.85z"/>
<path fill="#f2b949" d="M38.3 5.11h2.85v2.85h-2.85zM12.77 12.77h2.85v2.85h-2.85z"/>
<path fill="#fbbc41" d="M30.64 7.66h2.85v2.85h-2.85zM0 17.87h2.85v2.85h-2.85z"/>
<path fill="#fec932" d="M20.43 10.21h2.85v2.85h-2.85z"/>
<path fill="#fbd02c" d="M20.43 63.83h2.85v2.85h-2.85zM28.09 66.38h2.85v2.85h-2.85z"/>
<path fill="#f8d727" d="M10.21 12.77h2.85v2.85h-2.85z"/>
<path fill="#f5de21" d="M28.09 7.66h2.85v2.85h-2.85zM17.87 58.72h2.85v2.85h-2.85zM17.87 61.28h2.85v2.85h-2.85z"/>
<path fill="#f5e71b" d="M35.75 5.11h2.85v2.85h-2.85zM17.87 10.21h2.85v2.85h-2.85zM15.32 68.94h2.85v2.85h-2.85zM20.43 71.49h2.85v2.85h-2.85z"/>
<path fill="#f6f015" d="M38.3 2.55h2.85v2.85h-2.85zM7.66 12.77h2.85v2.85h-2.85z"/>
<path fill="#f9fb0e" d="M0 0h5.41v2.85h-5.41zM22.98 0h18.17v2.85h-18.17zM0 2.55h5.41v2.85h-5.41zM22.98 2.55h15.62v2.85h-15.62zM0 5.11h10.51v2.85h-10.51zM17.87 5.11h18.17v2.85h-18.17zM0 7.66h28.39v2.85h-28.39zM0 10.21h18.17v2.85h-18.17zM0 12.77h7.96v2.85h-7.96zM0 15.32h5.41v2.85h-5.41zM20.43 66.38h7.96v2.85h-7.96zM20.43 68.94h10.51v2.85h-10.51z"/>
</g>
<rect x="0.8" y="0.8" width="78.85" height="78.85" fill="none" stroke="#000" stroke-width="1.6"/>
</g>
<g transform="translate(599.85,57.25)">
<clipPath id="mc5"><rect x="0.4" y="0.4" width="79.65" height="79.65"/></clipPath>
<rect x="0" y="0" width="80.45" height="80.45" fill="#000"/>
<path d="M1.93 0v-2.6 M1.93 80.45v2.6 M0 1.93h-2.6 M80.45 1.93h2.6 M27.46 0v-2.6 M27.46 80.45v2.6 M0 27.46h-2.6 M80.45 27.46h2.6 M52.99 0v-2.6 M52.99 80.45v2.6 M0 52.99h-2.6 M80.45 52.99h2.6 M78.52 0v-2.6 M78.52 80.45v2.6 M0 78.52h-2.6 M80.45 78.52h2.6" stroke="#000" stroke-width="1.3" fill="none"/>
<g shape-rendering="crispEdges" clip-path="url(#mc5)" transform="translate(0.65,-0.7)">
<path fill="#1658d9" d="M76.6 10.21h2.85v2.85h-2.85z"/>
<path fill="#0462e0" d="M76.6 7.66h2.85v2.85h-2.85z"/>
<path fill="#066fdf" d="M76.6 12.77h2.85v2.85h-2.85zM38.3 45.96h2.85v2.85h-2.85z"/>
<path fill="#0c74dd" d="M66.38 35.75h5.41v2.85h-5.41zM35.75 45.96h2.85v2.85h-2.85zM38.3 48.51h2.85v2.85h-2.85z"/>
<path fill="#1079da" d="M63.83 35.75h2.85v2.85h-2.85zM40.85 45.96h2.85v2.85h-2.85zM40.85 48.51h2.85v2.85h-2.85z"/>
<path fill="#137ed7" d="M76.6 5.11h2.85v2.85h-2.85zM66.38 33.19h5.41v2.85h-5.41zM71.49 35.75h2.85v2.85h-2.85zM53.62 38.3h5.41v2.85h-5.41zM35.75 48.51h2.85v2.85h-2.85z"/>
<path fill="#1484d4" d="M76.6 15.32h2.85v2.85h-2.85zM61.28 35.75h2.85v2.85h-2.85zM51.06 38.3h2.85v2.85h-2.85zM58.72 38.3h5.41v2.85h-5.41zM38.3 43.4h2.85v2.85h-2.85zM43.4 48.51h2.85v2.85h-2.85z"/>
<path fill="#1389d3" d="M74.04 10.21h2.85v2.85h-2.85zM71.49 33.19h2.85v2.85h-2.85zM63.83 38.3h2.85v2.85h-2.85zM48.51 40.85h5.41v2.85h-5.41zM35.75 43.4h2.85v2.85h-2.85zM40.85 43.4h2.85v2.85h-2.85zM33.19 45.96h2.85v2.85h-2.85zM45.96 53.62h2.85v2.85h-2.85z"/>
<path fill="#0f90d2" d="M74.04 7.66h2.85v2.85h-2.85zM63.83 33.19h2.85v2.85h-2.85zM58.72 35.75h2.85v2.85h-2.85zM48.51 38.3h2.85v2.85h-2.85zM66.38 38.3h2.85v2.85h-2.85zM43.4 43.4h2.85v2.85h-2.85zM48.51 58.72h2.85v2.85h-2.85z"/>
<path fill="#0a97d1" d="M76.6 2.55h2.85v2.85h-2.85zM74.04 5.11h2.85v2.85h-2.85zM74.04 35.75h2.85v2.85h-2.85zM45.96 40.85h2.85v2.85h-2.85zM33.19 48.51h2.85v2.85h-2.85zM43.4 51.06h2.85v2.85h-2.85z"/>
<path fill="#079ccf" d="M74.04 2.55h2.85v2.85h-2.85zM71.49 5.11h2.85v2.85h-2.85zM74.04 12.77h2.85v2.85h-2.85zM74.04 33.19h2.85v2.85h-2.85zM43.4 40.85h2.85v2.85h-2.85zM38.3 51.06h5.41v2.85h-5.41z"/>
<path fill="#06a1cc" d="M71.49 7.66h2.85v2.85h-2.85zM61.28 33.19h2.85v2.85h-2.85zM53.62 35.75h5.41v2.85h-5.41zM45.96 38.3h2.85v2.85h-2.85zM40.85 40.85h2.85v2.85h-2.85zM33.19 43.4h2.85v2.85h-2.85z"/>
<path fill="#06a6c7" d="M71.49 2.55h2.85v2.85h-2.85zM71.49 10.21h2.85v2.85h-2.85zM76.6 17.87h2.85v2.85h-2.85zM38.3 40.85h2.85v2.85h-2.85zM30.64 45.96h2.85v2.85h-2.85zM45.96 56.17h2.85v2.85h-2.85z"/>
<path fill="#07a9c2" d="M74.04 0h2.85v2.85h-2.85zM71.49 12.77h2.85v2.85h-2.85zM74.04 15.32h2.85v2.85h-2.85zM68.94 30.64h2.85v2.85h-2.85zM43.4 38.3h2.85v2.85h-2.85zM35.75 51.06h2.85v2.85h-2.85zM48.51 61.28h2.85v2.85h-2.85zM7.66 76.6h2.85v2.85h-2.85z"/>
<path fill="#0badbc" d="M71.49 0h2.85v2.85h-2.85zM76.6 0h2.85v2.85h-2.85zM68.94 5.11h2.85v2.85h-2.85zM68.94 7.66h2.85v2.85h-2.85zM68.94 10.21h2.85v2.85h-2.85zM71.49 30.64h2.85v2.85h-2.85zM51.06 35.75h2.85v2.85h-2.85zM35.75 40.85h2.85v2.85h-2.85zM30.64 43.4h2.85v2.85h-2.85zM30.64 48.51h2.85v2.85h-2.85zM43.4 53.62h2.85v2.85h-2.85z"/>
<path fill="#13b0b6" d="M68.94 2.55h2.85v2.85h-2.85zM66.38 30.64h2.85v2.85h-2.85zM74.04 30.64h2.85v2.85h-2.85zM58.72 33.19h2.85v2.85h-2.85zM48.51 35.75h2.85v2.85h-2.85z"/>
<path fill="#1cb3b0" d="M68.94 0h2.85v2.85h-2.85zM68.94 12.77h2.85v2.85h-2.85zM40.85 38.3h2.85v2.85h-2.85zM33.19 40.85h2.85v2.85h-2.85zM33.19 51.06h2.85v2.85h-2.85z"/>
<path fill="#27b5a8" d="M66.38 5.11h2.85v2.85h-2.85zM66.38 7.66h2.85v2.85h-2.85zM66.38 10.21h2.85v2.85h-2.85zM71.49 15.32h2.85v2.85h-2.85zM74.04 17.87h2.85v2.85h-2.85zM76.6 20.43h2.85v2.85h-2.85zM63.83 30.64h2.85v2.85h-2.85zM56.17 33.19h2.85v2.85h-2.85zM45.96 35.75h2.85v2.85h-2.85zM28.09 43.4h2.85v2.85h-2.85zM28.09 45.96h2.85v2.85h-2.85zM40.85 53.62h2.85v2.85h-2.85zM45.96 58.72h2.85v2.85h-2.85z"/>
<path fill="#33b8a1" d="M66.38 2.55h2.85v2.85h-2.85zM22.98 15.32h5.41v2.85h-5.41zM22.98 17.87h2.85v2.85h-2.85zM10.21 35.75h5.41v2.85h-5.41zM10.21 38.3h5.41v2.85h-5.41zM30.64 40.85h2.85v2.85h-2.85z"/>
<path fill="#40ba99" d="M66.38 0h2.85v2.85h-2.85zM63.83 2.55h2.85v2.85h-2.85zM63.83 5.11h2.85v2.85h-2.85zM63.83 7.66h2.85v2.85h-2.85zM20.43 12.77h7.96v2.85h-7.96zM66.38 12.77h2.85v2.85h-2.85zM20.43 15.32h2.85v2.85h-2.85zM20.43 17.87h2.85v2.85h-2.85zM25.53 17.87h2.85v2.85h-2.85zM10.21 30.64h7.96v2.85h-7.96zM61.28 30.64h2.85v2.85h-2.85zM7.66 33.19h10.51v2.85h-10.51zM53.62 33.19h2.85v2.85h-2.85zM7.66 35.75h2.85v2.85h-2.85zM15.32 35.75h2.85v2.85h-2.85zM7.66 38.3h2.85v2.85h-2.85zM15.32 38.3h2.85v2.85h-2.85zM38.3 38.3h2.85v2.85h-2.85zM15.32 40.85h2.85v2.85h-2.85zM25.53 43.4h2.85v2.85h-2.85zM38.3 53.62h2.85v2.85h-2.85z"/>
<path fill="#4fbc91" d="M63.83 0h2.85v2.85h-2.85zM61.28 7.66h2.85v2.85h-2.85zM63.83 10.21h2.85v2.85h-2.85zM17.87 12.77h2.85v2.85h-2.85zM28.09 12.77h5.41v2.85h-5.41zM17.87 15.32h2.85v2.85h-2.85zM28.09 15.32h2.85v2.85h-2.85zM68.94 15.32h2.85v2.85h-2.85zM15.32 17.87h5.41v2.85h-5.41zM71.49 17.87h2.85v2.85h-2.85zM74.04 20.43h2.85v2.85h-2.85zM7.66 28.09h2.85v2.85h-2.85zM5.11 30.64h5.41v2.85h-5.41zM5.11 33.19h2.85v2.85h-2.85zM17.87 33.19h2.85v2.85h-2.85zM51.06 33.19h2.85v2.85h-2.85zM5.11 35.75h2.85v2.85h-2.85zM17.87 35.75h2.85v2.85h-2.85zM43.4 35.75h2.85v2.85h-2.85zM5.11 38.3h2.85v2.85h-2.85zM17.87 38.3h5.41v2.85h-5.41zM7.66 40.85h7.96v2.85h-7.96zM17.87 40.85h2.85v2.85h-2.85zM28.09 40.85h2.85v2.85h-2.85zM7.66 43.4h7.96v2.85h-7.96zM25.53 45.96h2.85v2.85h-2.85zM28.09 48.51h2.85v2.85h-2.85zM43.4 56.17h2.85v2.85h-2.85z"/>
<path fill="#5ebe89" d="M48.51 0h5.41v2.85h-5.41zM58.72 0h5.41v2.85h-5.41zM48.51 2.55h2.85v2.85h-2.85zM53.62 2.55h2.85v2.85h-2.85zM58.72 2.55h5.41v2.85h-5.41zM48.51 5.11h2.85v2.85h-2.85zM53.62 5.11h5.41v2.85h-5.41zM61.28 5.11h2.85v2.85h-2.85zM51.06 7.66h5.41v2.85h-5.41zM58.72 7.66h2.85v2.85h-2.85zM17.87 10.21h13.07v2.85h-13.07zM61.28 10.21h2.85v2.85h-2.85zM15.32 12.77h2.85v2.85h-2.85zM33.19 12.77h2.85v2.85h-2.85zM15.32 15.32h2.85v2.85h-2.85zM30.64 15.32h2.85v2.85h-2.85zM5.11 17.87h2.85v2.85h-2.85zM10.21 17.87h5.41v2.85h-5.41zM7.66 20.43h5.41v2.85h-5.41zM17.87 20.43h5.41v2.85h-5.41zM2.55 22.98h5.41v2.85h-5.41zM10.21 22.98h2.85v2.85h-2.85zM76.6 22.98h2.85v2.85h-2.85zM10.21 25.53h5.41v2.85h-5.41zM5.11 28.09h2.85v2.85h-2.85zM10.21 28.09h5.41v2.85h-5.41zM17.87 30.64h2.85v2.85h-2.85zM58.72 30.64h2.85v2.85h-2.85zM20.43 35.75h2.85v2.85h-2.85zM2.55 38.3h2.85v2.85h-2.85zM35.75 38.3h2.85v2.85h-2.85zM0 40.85h7.96v2.85h-7.96zM20.43 40.85h7.96v2.85h-7.96zM0 43.4h7.96v2.85h-7.96zM15.32 43.4h2.85v2.85h-2.85zM22.98 43.4h2.85v2.85h-2.85z"/>
<path fill="#6ebf82" d="M45.96 0h2.85v2.85h-2.85zM53.62 0h5.41v2.85h-5.41zM45.96 2.55h2.85v2.85h-2.85zM51.06 2.55h2.85v2.85h-2.85zM56.17 2.55h2.85v2.85h-2.85zM45.96 5.11h2.85v2.85h-2.85zM51.06 5.11h2.85v2.85h-2.85zM58.72 5.11h2.85v2.85h-2.85zM17.87 7.66h10.51v2.85h-10.51zM40.85 7.66h10.51v2.85h-10.51zM56.17 7.66h2.85v2.85h-2.85zM15.32 10.21h2.85v2.85h-2.85zM30.64 10.21h15.62v2.85h-15.62zM48.51 10.21h13.07v2.85h-13.07zM12.77 12.77h2.85v2.85h-2.85zM35.75 12.77h2.85v2.85h-2.85zM63.83 12.77h2.85v2.85h-2.85zM2.55 15.32h2.85v2.85h-2.85zM10.21 15.32h5.41v2.85h-5.41zM33.19 15.32h2.85v2.85h-2.85zM2.55 17.87h2.85v2.85h-2.85zM7.66 17.87h2.85v2.85h-2.85zM28.09 17.87h2.85v2.85h-2.85zM2.55 20.43h5.41v2.85h-5.41zM12.77 20.43h5.41v2.85h-5.41zM22.98 20.43h2.85v2.85h-2.85zM0 22.98h2.85v2.85h-2.85zM7.66 22.98h2.85v2.85h-2.85zM12.77 22.98h5.41v2.85h-5.41zM0 25.53h10.51v2.85h-10.51zM15.32 25.53h2.85v2.85h-2.85zM76.6 25.53h2.85v2.85h-2.85zM15.32 28.09h2.85v2.85h-2.85zM71.49 28.09h2.85v2.85h-2.85zM48.51 33.19h2.85v2.85h-2.85zM22.98 38.3h2.85v2.85h-2.85zM17.87 43.4h5.41v2.85h-5.41zM0 45.96h15.62v2.85h-15.62zM30.64 51.06h2.85v2.85h-2.85zM35.75 53.62h2.85v2.85h-2.85zM45.96 61.28h2.85v2.85h-2.85zM45.96 63.83h2.85v2.85h-2.85z"/>
<path fill="#7dbf7b" d="M40.85 0h5.41v2.85h-5.41zM43.4 2.55h2.85v2.85h-2.85zM17.87 5.11h2.85v2.85h-2.85zM43.4 5.11h2.85v2.85h-2.85zM15.32 7.66h2.85v2.85h-2.85zM28.09 7.66h2.85v2.85h-2.85zM33.19 7.66h7.96v2.85h-7.96zM45.96 10.21h2.85v2.85h-2.85zM38.3 12.77h2.85v2.85h-2.85zM48.51 12.77h15.62v2.85h-15.62zM5.11 15.32h5.41v2.85h-5.41zM66.38 15.32h2.85v2.85h-2.85zM30.64 17.87h2.85v2.85h-2.85zM17.87 22.98h5.41v2.85h-5.41zM74.04 22.98h2.85v2.85h-2.85zM74.04 25.53h2.85v2.85h-2.85zM17.87 28.09h2.85v2.85h-2.85zM68.94 28.09h2.85v2.85h-2.85zM56.17 30.64h2.85v2.85h-2.85zM20.43 33.19h2.85v2.85h-2.85zM45.96 33.19h2.85v2.85h-2.85zM22.98 35.75h2.85v2.85h-2.85zM40.85 35.75h2.85v2.85h-2.85zM25.53 38.3h2.85v2.85h-2.85zM33.19 38.3h2.85v2.85h-2.85zM15.32 45.96h5.41v2.85h-5.41zM22.98 45.96h2.85v2.85h-2.85zM40.85 56.17h2.85v2.85h-2.85z"/>
<path fill="#8bbf75" d="M20.43 0h5.41v2.85h-5.41zM38.3 0h2.85v2.85h-2.85zM15.32 5.11h2.85v2.85h-2.85zM20.43 5.11h2.85v2.85h-2.85zM40.85 5.11h2.85v2.85h-2.85zM30.64 7.66h2.85v2.85h-2.85zM2.55 12.77h2.85v2.85h-2.85zM40.85 12.77h7.96v2.85h-7.96zM35.75 15.32h2.85v2.85h-2.85zM53.62 15.32h5.41v2.85h-5.41zM25.53 20.43h2.85v2.85h-2.85zM71.49 20.43h2.85v2.85h-2.85zM17.87 25.53h2.85v2.85h-2.85zM20.43 30.64h2.85v2.85h-2.85zM53.62 30.64h2.85v2.85h-2.85zM28.09 38.3h5.41v2.85h-5.41zM20.43 45.96h2.85v2.85h-2.85zM0 48.51h5.41v2.85h-5.41zM25.53 48.51h2.85v2.85h-2.85z"/>
<path fill="#98bf70" d="M25.53 0h2.85v2.85h-2.85zM20.43 2.55h2.85v2.85h-2.85zM40.85 2.55h2.85v2.85h-2.85zM12.77 5.11h2.85v2.85h-2.85zM12.77 10.21h2.85v2.85h-2.85zM5.11 12.77h2.85v2.85h-2.85zM10.21 12.77h2.85v2.85h-2.85zM38.3 15.32h2.85v2.85h-2.85zM51.06 15.32h2.85v2.85h-2.85zM58.72 15.32h2.85v2.85h-2.85zM63.83 15.32h2.85v2.85h-2.85zM33.19 17.87h2.85v2.85h-2.85zM68.94 17.87h2.85v2.85h-2.85zM22.98 22.98h2.85v2.85h-2.85zM20.43 25.53h2.85v2.85h-2.85zM71.49 25.53h2.85v2.85h-2.85zM20.43 28.09h2.85v2.85h-2.85zM66.38 28.09h2.85v2.85h-2.85zM51.06 30.64h2.85v2.85h-2.85zM43.4 33.19h2.85v2.85h-2.85zM5.11 48.51h10.51v2.85h-10.51zM33.19 53.62h2.85v2.85h-2.85z"/>
<path fill="#a5be6b" d="M28.09 0h2.85v2.85h-2.85zM35.75 0h2.85v2.85h-2.85zM22.98 5.11h2.85v2.85h-2.85zM38.3 5.11h2.85v2.85h-2.85zM12.77 7.66h2.85v2.85h-2.85zM7.66 12.77h2.85v2.85h-2.85zM61.28 15.32h2.85v2.85h-2.85zM71.49 22.98h2.85v2.85h-2.85zM53.62 28.09h2.85v2.85h-2.85zM48.51 30.64h2.85v2.85h-2.85zM22.98 33.19h2.85v2.85h-2.85zM25.53 35.75h2.85v2.85h-2.85zM38.3 35.75h2.85v2.85h-2.85zM38.3 56.17h2.85v2.85h-2.85zM43.4 58.72h2.85v2.85h-2.85z"/>
<path fill="#b1bd66" d="M33.19 0h2.85v2.85h-2.85zM22.98 2.55h2.85v2.85h-2.85zM38.3 2.55h2.85v2.85h-2.85zM25.53 5.11h2.85v2.85h-2.85zM35.75 5.11h2.85v2.85h-2.85zM2.55 10.21h2.85v2.85h-2.85zM48.51 15.32h2.85v2.85h-2.85zM53.62 17.87h5.41v2.85h-5.41zM28.09 20.43h2.85v2.85h-2.85zM56.17 28.09h10.51v2.85h-10.51zM45.96 30.64h2.85v2.85h-2.85zM15.32 48.51h2.85v2.85h-2.85z"/>
<path fill="#bdbd61" d="M30.64 0h2.85v2.85h-2.85zM10.21 10.21h2.85v2.85h-2.85zM40.85 15.32h7.96v2.85h-7.96zM35.75 17.87h2.85v2.85h-2.85zM51.06 17.87h2.85v2.85h-2.85zM30.64 20.43h2.85v2.85h-2.85zM22.98 25.53h2.85v2.85h-2.85zM53.62 25.53h2.85v2.85h-2.85zM68.94 25.53h2.85v2.85h-2.85zM51.06 28.09h2.85v2.85h-2.85zM22.98 30.64h2.85v2.85h-2.85zM40.85 33.19h2.85v2.85h-2.85zM35.75 35.75h2.85v2.85h-2.85zM22.98 48.51h2.85v2.85h-2.85zM28.09 51.06h2.85v2.85h-2.85zM0 53.62h2.85v2.85h-2.85zM43.4 63.83h2.85v2.85h-2.85zM17.87 71.49h2.85v2.85h-2.85z"/>
<path fill="#c8bc5d" d="M25.53 2.55h2.85v2.85h-2.85zM28.09 5.11h7.96v2.85h-7.96zM58.72 17.87h2.85v2.85h-2.85zM53.62 20.43h2.85v2.85h-2.85zM68.94 20.43h2.85v2.85h-2.85zM25.53 22.98h2.85v2.85h-2.85zM53.62 22.98h2.85v2.85h-2.85zM56.17 25.53h2.85v2.85h-2.85zM22.98 28.09h2.85v2.85h-2.85zM28.09 35.75h2.85v2.85h-2.85zM33.19 35.75h2.85v2.85h-2.85zM17.87 48.51h5.41v2.85h-5.41zM0 51.06h2.85v2.85h-2.85zM35.75 56.17h2.85v2.85h-2.85zM20.43 71.49h2.85v2.85h-2.85z"/>
<path fill="#d3bb58" d="M35.75 2.55h2.85v2.85h-2.85zM10.21 5.11h2.85v2.85h-2.85zM5.11 10.21h2.85v2.85h-2.85zM66.38 17.87h2.85v2.85h-2.85zM56.17 20.43h2.85v2.85h-2.85zM56.17 22.98h2.85v2.85h-2.85zM48.51 28.09h2.85v2.85h-2.85zM43.4 30.64h2.85v2.85h-2.85zM25.53 33.19h2.85v2.85h-2.85zM30.64 35.75h2.85v2.85h-2.85zM22.98 71.49h2.85v2.85h-2.85z"/>
<path fill="#ddba54" d="M28.09 2.55h7.96v2.85h-7.96zM10.21 7.66h2.85v2.85h-2.85zM7.66 10.21h2.85v2.85h-2.85zM38.3 17.87h2.85v2.85h-2.85zM61.28 17.87h2.85v2.85h-2.85zM33.19 20.43h2.85v2.85h-2.85zM68.94 22.98h2.85v2.85h-2.85zM51.06 25.53h2.85v2.85h-2.85zM58.72 25.53h2.85v2.85h-2.85zM38.3 33.19h2.85v2.85h-2.85zM12.77 51.06h2.85v2.85h-2.85zM2.55 53.62h2.85v2.85h-2.85zM30.64 53.62h2.85v2.85h-2.85zM17.87 68.94h2.85v2.85h-2.85z"/>
<path fill="#e8b94f" d="M5.11 5.11h2.85v2.85h-2.85zM48.51 17.87h2.85v2.85h-2.85zM63.83 17.87h2.85v2.85h-2.85zM35.75 20.43h2.85v2.85h-2.85zM51.06 20.43h2.85v2.85h-2.85zM28.09 22.98h2.85v2.85h-2.85zM25.53 25.53h2.85v2.85h-2.85zM66.38 25.53h2.85v2.85h-2.85zM45.96 28.09h2.85v2.85h-2.85zM10.21 51.06h2.85v2.85h-2.85zM40.85 58.72h2.85v2.85h-2.85z"/>
<path fill="#f2b949" d="M7.66 5.11h2.85v2.85h-2.85zM5.11 7.66h2.85v2.85h-2.85zM58.72 20.43h2.85v2.85h-2.85zM51.06 22.98h2.85v2.85h-2.85zM61.28 25.53h2.85v2.85h-2.85zM25.53 30.64h2.85v2.85h-2.85zM40.85 30.64h2.85v2.85h-2.85zM28.09 33.19h2.85v2.85h-2.85zM2.55 51.06h2.85v2.85h-2.85zM15.32 51.06h2.85v2.85h-2.85zM25.53 51.06h2.85v2.85h-2.85zM5.11 53.62h7.96v2.85h-7.96zM43.4 61.28h2.85v2.85h-2.85zM40.85 63.83h2.85v2.85h-2.85z"/>
<path fill="#fbbc41" d="M40.85 17.87h2.85v2.85h-2.85zM58.72 22.98h2.85v2.85h-2.85zM48.51 25.53h2.85v2.85h-2.85zM43.4 28.09h2.85v2.85h-2.85zM7.66 51.06h2.85v2.85h-2.85zM33.19 56.17h2.85v2.85h-2.85zM38.3 58.72h2.85v2.85h-2.85zM20.43 68.94h2.85v2.85h-2.85z"/>
<path fill="#fec238" d="M7.66 7.66h2.85v2.85h-2.85zM45.96 17.87h2.85v2.85h-2.85zM30.64 22.98h2.85v2.85h-2.85zM63.83 25.53h2.85v2.85h-2.85zM25.53 28.09h2.85v2.85h-2.85zM35.75 33.19h2.85v2.85h-2.85zM5.11 51.06h2.85v2.85h-2.85zM12.77 53.62h2.85v2.85h-2.85zM38.3 63.83h2.85v2.85h-2.85z"/>
<path fill="#fec932" d="M43.4 17.87h2.85v2.85h-2.85zM38.3 20.43h2.85v2.85h-2.85zM66.38 20.43h2.85v2.85h-2.85zM66.38 22.98h2.85v2.85h-2.85zM38.3 30.64h2.85v2.85h-2.85zM30.64 33.19h2.85v2.85h-2.85zM17.87 51.06h2.85v2.85h-2.85zM33.19 66.38h2.85v2.85h-2.85zM22.98 68.94h2.85v2.85h-2.85z"/>
<path fill="#fbd02c" d="M48.51 20.43h2.85v2.85h-2.85zM61.28 20.43h2.85v2.85h-2.85zM48.51 22.98h2.85v2.85h-2.85zM28.09 25.53h2.85v2.85h-2.85zM40.85 28.09h2.85v2.85h-2.85zM33.19 33.19h2.85v2.85h-2.85zM22.98 51.06h2.85v2.85h-2.85zM35.75 58.72h2.85v2.85h-2.85zM17.87 66.38h2.85v2.85h-2.85zM25.53 68.94h2.85v2.85h-2.85z"/>
<path fill="#f8d727" d="M63.83 20.43h2.85v2.85h-2.85zM33.19 22.98h5.41v2.85h-5.41zM61.28 22.98h2.85v2.85h-2.85zM45.96 25.53h2.85v2.85h-2.85zM20.43 51.06h2.85v2.85h-2.85zM28.09 53.62h2.85v2.85h-2.85zM35.75 63.83h2.85v2.85h-2.85z"/>
<path fill="#f5de21" d="M28.09 30.64h2.85v2.85h-2.85zM30.64 56.17h2.85v2.85h-2.85zM40.85 61.28h2.85v2.85h-2.85z"/>
<path fill="#f5e71b" d="M63.83 22.98h2.85v2.85h-2.85zM43.4 25.53h2.85v2.85h-2.85zM28.09 28.09h2.85v2.85h-2.85zM38.3 28.09h2.85v2.85h-2.85zM35.75 30.64h2.85v2.85h-2.85zM15.32 53.62h2.85v2.85h-2.85zM33.19 63.83h2.85v2.85h-2.85zM20.43 66.38h2.85v2.85h-2.85zM30.64 66.38h2.85v2.85h-2.85z"/>
<path fill="#f6f015" d="M40.85 20.43h2.85v2.85h-2.85zM38.3 22.98h2.85v2.85h-2.85zM38.3 25.53h5.41v2.85h-5.41zM30.64 30.64h2.85v2.85h-2.85zM15.32 56.17h2.85v2.85h-2.85zM33.19 58.72h2.85v2.85h-2.85zM17.87 63.83h2.85v2.85h-2.85z"/>
<path fill="#f9fb0e" d="M43.4 20.43h5.41v2.85h-5.41zM40.85 22.98h7.96v2.85h-7.96zM30.64 25.53h7.96v2.85h-7.96zM30.64 28.09h7.96v2.85h-7.96zM33.19 30.64h2.85v2.85h-2.85zM17.87 53.62h10.51v2.85h-10.51zM17.87 56.17h13.07v2.85h-13.07zM17.87 58.72h15.62v2.85h-15.62zM17.87 61.28h23.28v2.85h-23.28zM20.43 63.83h13.07v2.85h-13.07zM22.98 66.38h7.96v2.85h-7.96z"/>
</g>
<rect x="0.8" y="0.8" width="78.85" height="78.85" fill="none" stroke="#000" stroke-width="1.6"/>
</g>
<g transform="translate(248.2,189.25)">
<clipPath id="mc6"><rect x="0.4" y="0.4" width="78.75" height="78.75"/></clipPath>
<rect x="0" y="0" width="79.55" height="79.55" fill="#000"/>
<path d="M1.88 0v-2.6 M1.88 79.55v2.6 M0 1.88h-2.6 M79.55 1.88h2.6 M27.14 0v-2.6 M27.14 79.55v2.6 M0 27.14h-2.6 M79.55 27.14h2.6 M52.41 0v-2.6 M52.41 79.55v2.6 M0 52.41h-2.6 M79.55 52.41h2.6 M77.67 0v-2.6 M77.67 79.55v2.6 M0 77.67h-2.6 M79.55 77.67h2.6" stroke="#000" stroke-width="1.3" fill="none"/>
<g shape-rendering="crispEdges" clip-path="url(#mc6)" transform="translate(0.62,-0.6)">
<path fill="#363297" d="M45.47 5.05h7.88v2.83h-7.88zM42.94 7.58h5.35v2.83h-5.35zM35.37 10.1h5.35v2.83h-5.35zM42.94 10.1h2.83v2.83h-2.83zM32.84 12.63h5.35v2.83h-5.35z"/>
<path fill="#353aa8" d="M40.42 7.58h2.83v2.83h-2.83zM48 7.58h5.35v2.83h-5.35zM32.84 10.1h2.83v2.83h-2.83zM30.31 12.63h2.83v2.83h-2.83z"/>
<path fill="#3243b9" d="M42.94 5.05h2.83v2.83h-2.83zM37.89 7.58h2.83v2.83h-2.83zM45.47 10.1h2.83v2.83h-2.83zM30.31 15.16h5.35v2.83h-5.35z"/>
<path fill="#294cca" d="M45.47 2.53h5.35v2.83h-5.35zM53.05 5.05h2.83v2.83h-2.83zM35.37 7.58h2.83v2.83h-2.83zM27.79 12.63h2.83v2.83h-2.83zM25.26 15.16h5.35v2.83h-5.35zM35.37 15.16h2.83v2.83h-2.83zM22.74 17.68h5.35v2.83h-5.35z"/>
<path fill="#1658d9" d="M50.52 2.53h2.83v2.83h-2.83zM40.42 5.05h2.83v2.83h-2.83zM32.84 7.58h2.83v2.83h-2.83zM53.05 7.58h2.83v2.83h-2.83zM30.31 10.1h2.83v2.83h-2.83zM48 10.1h2.83v2.83h-2.83zM22.74 15.16h2.83v2.83h-2.83zM37.89 15.16h2.83v2.83h-2.83zM27.79 17.68h2.83v2.83h-2.83z"/>
<path fill="#0462e0" d="M42.94 2.53h2.83v2.83h-2.83zM53.05 2.53h2.83v2.83h-2.83zM37.89 5.05h2.83v2.83h-2.83zM55.57 5.05h2.83v2.83h-2.83zM20.21 17.68h2.83v2.83h-2.83zM30.31 17.68h2.83v2.83h-2.83z"/>
<path fill="#0269e1" d="M40.42 2.53h2.83v2.83h-2.83zM55.57 2.53h2.83v2.83h-2.83zM35.37 5.05h2.83v2.83h-2.83zM30.31 7.58h2.83v2.83h-2.83zM27.79 10.1h2.83v2.83h-2.83zM50.52 10.1h2.83v2.83h-2.83zM25.26 12.63h2.83v2.83h-2.83zM45.47 12.63h2.83v2.83h-2.83zM20.21 15.16h2.83v2.83h-2.83zM40.42 15.16h2.83v2.83h-2.83zM40.42 50.52h2.83v2.83h-2.83zM40.42 53.05h2.83v2.83h-2.83zM40.42 55.57h2.83v2.83h-2.83z"/>
<path fill="#066fdf" d="M45.47 0h5.35v2.83h-5.35zM58.1 5.05h2.83v2.83h-2.83zM55.57 7.58h2.83v2.83h-2.83zM25.26 10.1h2.83v2.83h-2.83zM22.74 12.63h2.83v2.83h-2.83zM17.68 17.68h2.83v2.83h-2.83zM32.84 17.68h2.83v2.83h-2.83zM22.74 20.21h2.83v2.83h-2.83zM40.42 45.47h2.83v2.83h-2.83z"/>
<path fill="#0c74dd" d="M42.94 0h2.83v2.83h-2.83zM50.52 0h7.88v2.83h-7.88zM37.89 2.53h2.83v2.83h-2.83zM58.1 2.53h2.83v2.83h-2.83zM32.84 5.05h2.83v2.83h-2.83zM70.73 5.05h2.83v2.83h-2.83zM27.79 7.58h2.83v2.83h-2.83zM58.1 7.58h2.83v2.83h-2.83zM73.26 7.58h2.83v2.83h-2.83zM53.05 10.1h2.83v2.83h-2.83zM48 12.63h2.83v2.83h-2.83zM20.21 20.21h2.83v2.83h-2.83zM25.26 20.21h2.83v2.83h-2.83zM40.42 42.94h5.35v2.83h-5.35zM40.42 58.1h2.83v2.83h-2.83z"/>
<path fill="#1079da" d="M37.89 0h5.35v2.83h-5.35zM58.1 0h2.83v2.83h-2.83zM73.26 0h2.83v2.83h-2.83zM32.84 2.53h5.35v2.83h-5.35zM70.73 2.53h2.83v2.83h-2.83zM30.31 5.05h2.83v2.83h-2.83zM60.63 5.05h2.83v2.83h-2.83zM73.26 5.05h2.83v2.83h-2.83zM25.26 7.58h2.83v2.83h-2.83zM70.73 7.58h2.83v2.83h-2.83zM70.73 10.1h5.35v2.83h-5.35zM20.21 12.63h2.83v2.83h-2.83zM17.68 15.16h2.83v2.83h-2.83zM42.94 15.16h2.83v2.83h-2.83zM27.79 20.21h2.83v2.83h-2.83zM42.94 40.42h2.83v2.83h-2.83zM40.42 60.63h5.35v2.83h-5.35zM5.05 70.73h2.83v2.83h-2.83z"/>
<path fill="#137ed7" d="M32.84 0h5.35v2.83h-5.35zM60.63 0h12.93v2.83h-12.93zM27.79 2.53h5.35v2.83h-5.35zM60.63 2.53h5.35v2.83h-5.35zM68.21 2.53h2.83v2.83h-2.83zM73.26 2.53h5.35v2.83h-5.35zM27.79 5.05h2.83v2.83h-2.83zM63.15 5.05h7.88v2.83h-7.88zM75.78 5.05h2.83v2.83h-2.83zM60.63 7.58h2.83v2.83h-2.83zM22.74 10.1h2.83v2.83h-2.83zM50.52 12.63h2.83v2.83h-2.83zM15.16 17.68h2.83v2.83h-2.83zM35.37 17.68h2.83v2.83h-2.83zM68.21 27.79h2.83v2.83h-2.83zM68.21 30.31h5.35v2.83h-5.35zM50.52 32.84h2.83v2.83h-2.83zM55.57 32.84h7.88v2.83h-7.88zM65.68 32.84h5.35v2.83h-5.35zM50.52 35.37h2.83v2.83h-2.83zM40.42 40.42h2.83v2.83h-2.83zM45.47 40.42h2.83v2.83h-2.83zM40.42 63.15h2.83v2.83h-2.83z"/>
<path fill="#1484d4" d="M20.21 0h12.93v2.83h-12.93zM75.78 0h2.83v2.83h-2.83zM20.21 2.53h7.88v2.83h-7.88zM65.68 2.53h2.83v2.83h-2.83zM22.74 5.05h5.35v2.83h-5.35zM20.21 7.58h5.35v2.83h-5.35zM63.15 7.58h2.83v2.83h-2.83zM68.21 7.58h2.83v2.83h-2.83zM20.21 10.1h2.83v2.83h-2.83zM55.57 10.1h2.83v2.83h-2.83zM17.68 12.63h2.83v2.83h-2.83zM70.73 12.63h2.83v2.83h-2.83zM15.16 15.16h2.83v2.83h-2.83zM45.47 15.16h2.83v2.83h-2.83zM37.89 17.68h2.83v2.83h-2.83zM17.68 20.21h2.83v2.83h-2.83zM30.31 20.21h2.83v2.83h-2.83zM55.57 30.31h12.93v2.83h-12.93zM40.42 32.84h7.88v2.83h-7.88zM53.05 32.84h2.83v2.83h-2.83zM63.15 32.84h2.83v2.83h-2.83zM37.89 35.37h12.93v2.83h-12.93zM53.05 35.37h5.35v2.83h-5.35zM37.89 37.89h12.93v2.83h-12.93zM37.89 42.94h2.83v2.83h-2.83zM45.47 60.63h2.83v2.83h-2.83z"/>
<path fill="#1389d3" d="M17.68 5.05h5.35v2.83h-5.35zM17.68 7.58h2.83v2.83h-2.83zM65.68 7.58h2.83v2.83h-2.83zM17.68 10.1h2.83v2.83h-2.83zM58.1 10.1h2.83v2.83h-2.83zM53.05 12.63h2.83v2.83h-2.83zM70.73 15.16h2.83v2.83h-2.83zM12.63 17.68h2.83v2.83h-2.83zM70.73 17.68h2.83v2.83h-2.83zM15.16 20.21h2.83v2.83h-2.83zM70.73 20.21h2.83v2.83h-2.83zM68.21 25.26h2.83v2.83h-2.83zM60.63 27.79h7.88v2.83h-7.88zM48 30.31h7.88v2.83h-7.88zM48 32.84h2.83v2.83h-2.83zM32.84 35.37h5.35v2.83h-5.35zM35.37 37.89h2.83v2.83h-2.83zM35.37 40.42h5.35v2.83h-5.35zM0 42.94h5.35v2.83h-5.35zM0 45.47h2.83v2.83h-2.83zM37.89 45.47h2.83v2.83h-2.83zM0 50.52h2.83v2.83h-2.83zM37.89 50.52h2.83v2.83h-2.83zM37.89 55.57h2.83v2.83h-2.83zM37.89 58.1h2.83v2.83h-2.83zM37.89 60.63h2.83v2.83h-2.83zM35.37 63.15h5.35v2.83h-5.35z"/>
<path fill="#0f90d2" d="M12.63 5.05h5.35v2.83h-5.35zM15.16 7.58h2.83v2.83h-2.83zM15.16 10.1h2.83v2.83h-2.83zM68.21 10.1h2.83v2.83h-2.83zM15.16 12.63h2.83v2.83h-2.83zM12.63 15.16h2.83v2.83h-2.83zM48 15.16h2.83v2.83h-2.83zM40.42 17.68h2.83v2.83h-2.83zM65.68 25.26h2.83v2.83h-2.83zM55.57 27.79h5.35v2.83h-5.35zM42.94 30.31h5.35v2.83h-5.35zM37.89 32.84h2.83v2.83h-2.83zM30.31 35.37h2.83v2.83h-2.83zM30.31 37.89h5.35v2.83h-5.35zM0 40.42h5.35v2.83h-5.35zM35.37 42.94h2.83v2.83h-2.83zM2.53 45.47h5.35v2.83h-5.35zM0 48h5.35v2.83h-5.35zM37.89 48h2.83v2.83h-2.83zM2.53 50.52h5.35v2.83h-5.35zM37.89 53.05h2.83v2.83h-2.83zM32.84 65.68h2.83v2.83h-2.83z"/>
<path fill="#0a97d1" d="M60.63 10.1h5.35v2.83h-5.35zM10.1 17.68h2.83v2.83h-2.83zM12.63 20.21h2.83v2.83h-2.83zM32.84 20.21h2.83v2.83h-2.83zM68.21 22.74h2.83v2.83h-2.83zM60.63 25.26h5.35v2.83h-5.35zM53.05 27.79h2.83v2.83h-2.83zM40.42 30.31h2.83v2.83h-2.83zM32.84 32.84h5.35v2.83h-5.35zM25.26 35.37h5.35v2.83h-5.35zM5.05 37.89h2.83v2.83h-2.83zM5.05 40.42h2.83v2.83h-2.83zM30.31 40.42h5.35v2.83h-5.35zM5.05 42.94h2.83v2.83h-2.83zM35.37 45.47h2.83v2.83h-2.83zM5.05 48h5.35v2.83h-5.35zM7.58 50.52h5.35v2.83h-5.35zM35.37 58.1h2.83v2.83h-2.83zM35.37 60.63h2.83v2.83h-2.83z"/>
<path fill="#079ccf" d="M12.63 7.58h2.83v2.83h-2.83zM12.63 10.1h2.83v2.83h-2.83zM65.68 10.1h2.83v2.83h-2.83zM12.63 12.63h2.83v2.83h-2.83zM55.57 12.63h2.83v2.83h-2.83zM68.21 12.63h2.83v2.83h-2.83zM50.52 15.16h2.83v2.83h-2.83zM42.94 17.68h2.83v2.83h-2.83zM35.37 20.21h2.83v2.83h-2.83zM22.74 22.74h5.35v2.83h-5.35zM48 27.79h5.35v2.83h-5.35zM35.37 30.31h5.35v2.83h-5.35zM22.74 32.84h10.4v2.83h-10.4zM22.74 35.37h2.83v2.83h-2.83zM2.53 37.89h2.83v2.83h-2.83zM27.79 37.89h2.83v2.83h-2.83zM32.84 42.94h2.83v2.83h-2.83zM7.58 45.47h2.83v2.83h-2.83zM10.1 53.05h5.35v2.83h-5.35zM12.63 55.57h2.83v2.83h-2.83zM32.84 63.15h2.83v2.83h-2.83zM30.31 65.68h2.83v2.83h-2.83z"/>
<path fill="#06a1cc" d="M10.1 5.05h2.83v2.83h-2.83zM10.1 15.16h2.83v2.83h-2.83zM10.1 20.21h2.83v2.83h-2.83zM68.21 20.21h2.83v2.83h-2.83zM17.68 22.74h5.35v2.83h-5.35zM65.68 22.74h2.83v2.83h-2.83zM55.57 25.26h5.35v2.83h-5.35zM40.42 27.79h2.83v2.83h-2.83zM45.47 27.79h2.83v2.83h-2.83zM32.84 30.31h2.83v2.83h-2.83zM20.21 32.84h2.83v2.83h-2.83zM5.05 35.37h5.35v2.83h-5.35zM7.58 37.89h2.83v2.83h-2.83zM7.58 40.42h2.83v2.83h-2.83zM7.58 42.94h2.83v2.83h-2.83zM32.84 45.47h2.83v2.83h-2.83zM10.1 48h2.83v2.83h-2.83zM35.37 48h2.83v2.83h-2.83zM12.63 50.52h5.35v2.83h-5.35zM15.16 53.05h2.83v2.83h-2.83zM15.16 55.57h2.83v2.83h-2.83zM35.37 55.57h2.83v2.83h-2.83zM12.63 58.1h2.83v2.83h-2.83zM32.84 58.1h2.83v2.83h-2.83zM32.84 60.63h2.83v2.83h-2.83zM30.31 63.15h2.83v2.83h-2.83zM27.79 65.68h2.83v2.83h-2.83zM22.74 70.73h2.83v2.83h-2.83z"/>
<path fill="#06a6c7" d="M10.1 7.58h2.83v2.83h-2.83zM10.1 10.1h2.83v2.83h-2.83zM10.1 12.63h2.83v2.83h-2.83zM58.1 12.63h2.83v2.83h-2.83zM53.05 15.16h2.83v2.83h-2.83zM7.58 17.68h2.83v2.83h-2.83zM45.47 17.68h2.83v2.83h-2.83zM0 20.21h2.83v2.83h-2.83zM5.05 20.21h5.35v2.83h-5.35zM0 22.74h2.83v2.83h-2.83zM12.63 22.74h5.35v2.83h-5.35zM27.79 22.74h5.35v2.83h-5.35zM53.05 25.26h2.83v2.83h-2.83zM37.89 27.79h2.83v2.83h-2.83zM42.94 27.79h2.83v2.83h-2.83zM17.68 32.84h2.83v2.83h-2.83zM10.1 35.37h12.93v2.83h-12.93zM0 37.89h2.83v2.83h-2.83zM10.1 37.89h2.83v2.83h-2.83zM25.26 37.89h2.83v2.83h-2.83zM27.79 40.42h2.83v2.83h-2.83zM30.31 42.94h2.83v2.83h-2.83zM35.37 53.05h2.83v2.83h-2.83zM17.68 55.57h2.83v2.83h-2.83zM22.74 65.68h2.83v2.83h-2.83z"/>
<path fill="#07a9c2" d="M60.63 12.63h2.83v2.83h-2.83zM65.68 12.63h2.83v2.83h-2.83zM7.58 15.16h2.83v2.83h-2.83zM68.21 15.16h2.83v2.83h-2.83zM48 17.68h2.83v2.83h-2.83zM68.21 17.68h2.83v2.83h-2.83zM2.53 20.21h2.83v2.83h-2.83zM37.89 20.21h2.83v2.83h-2.83zM2.53 22.74h2.83v2.83h-2.83zM10.1 22.74h2.83v2.83h-2.83zM32.84 22.74h2.83v2.83h-2.83zM60.63 22.74h5.35v2.83h-5.35zM27.79 30.31h5.35v2.83h-5.35zM12.63 32.84h5.35v2.83h-5.35zM12.63 37.89h2.83v2.83h-2.83zM10.1 45.47h2.83v2.83h-2.83zM12.63 48h2.83v2.83h-2.83zM17.68 50.52h2.83v2.83h-2.83zM35.37 50.52h2.83v2.83h-2.83zM17.68 53.05h2.83v2.83h-2.83zM15.16 58.1h5.35v2.83h-5.35zM30.31 60.63h2.83v2.83h-2.83zM27.79 63.15h2.83v2.83h-2.83zM25.26 65.68h2.83v2.83h-2.83zM20.21 70.73h2.83v2.83h-2.83z"/>
<path fill="#0badbc" d="M63.15 12.63h2.83v2.83h-2.83zM55.57 15.16h2.83v2.83h-2.83zM0 17.68h2.83v2.83h-2.83zM5.05 17.68h2.83v2.83h-2.83zM50.52 17.68h2.83v2.83h-2.83zM5.05 22.74h5.35v2.83h-5.35zM58.1 22.74h2.83v2.83h-2.83zM48 25.26h5.35v2.83h-5.35zM35.37 27.79h2.83v2.83h-2.83zM17.68 30.31h10.4v2.83h-10.4zM2.53 35.37h2.83v2.83h-2.83zM22.74 37.89h2.83v2.83h-2.83zM10.1 40.42h2.83v2.83h-2.83zM27.79 42.94h2.83v2.83h-2.83zM15.16 48h2.83v2.83h-2.83zM20.21 58.1h2.83v2.83h-2.83zM22.74 63.15h5.35v2.83h-5.35z"/>
<path fill="#13b0b6" d="M40.42 20.21h2.83v2.83h-2.83zM65.68 20.21h2.83v2.83h-2.83zM35.37 22.74h5.35v2.83h-5.35zM55.57 22.74h2.83v2.83h-2.83zM42.94 25.26h5.35v2.83h-5.35zM32.84 27.79h2.83v2.83h-2.83zM15.16 30.31h2.83v2.83h-2.83zM5.05 32.84h7.88v2.83h-7.88zM10.1 42.94h2.83v2.83h-2.83zM30.31 45.47h2.83v2.83h-2.83zM17.68 48h2.83v2.83h-2.83zM32.84 48h2.83v2.83h-2.83zM20.21 55.57h2.83v2.83h-2.83zM32.84 55.57h2.83v2.83h-2.83zM30.31 58.1h2.83v2.83h-2.83zM20.21 60.63h10.4v2.83h-10.4z"/>
<path fill="#1cb3b0" d="M7.58 12.63h2.83v2.83h-2.83zM58.1 15.16h2.83v2.83h-2.83zM65.68 15.16h2.83v2.83h-2.83zM2.53 17.68h2.83v2.83h-2.83zM53.05 17.68h5.35v2.83h-5.35zM65.68 17.68h2.83v2.83h-2.83zM42.94 20.21h5.35v2.83h-5.35zM58.1 20.21h2.83v2.83h-2.83zM63.15 20.21h2.83v2.83h-2.83zM0 25.26h5.35v2.83h-5.35zM12.63 25.26h15.46v2.83h-15.46zM30.31 25.26h12.93v2.83h-12.93zM27.79 27.79h5.35v2.83h-5.35zM15.16 37.89h2.83v2.83h-2.83zM20.21 37.89h2.83v2.83h-2.83zM25.26 40.42h2.83v2.83h-2.83zM20.21 53.05h2.83v2.83h-2.83zM22.74 58.1h2.83v2.83h-2.83zM27.79 58.1h2.83v2.83h-2.83zM15.16 60.63h5.35v2.83h-5.35z"/>
<path fill="#27b5a8" d="M0 0h2.83v2.83h-2.83zM7.58 5.05h2.83v2.83h-2.83zM60.63 15.16h5.35v2.83h-5.35zM48 20.21h5.35v2.83h-5.35zM55.57 20.21h2.83v2.83h-2.83zM60.63 20.21h2.83v2.83h-2.83zM40.42 22.74h2.83v2.83h-2.83zM48 22.74h7.88v2.83h-7.88zM5.05 25.26h2.83v2.83h-2.83zM10.1 25.26h2.83v2.83h-2.83zM27.79 25.26h2.83v2.83h-2.83zM17.68 27.79h10.4v2.83h-10.4zM10.1 30.31h5.35v2.83h-5.35zM17.68 37.89h2.83v2.83h-2.83zM12.63 45.47h2.83v2.83h-2.83zM20.21 50.52h2.83v2.83h-2.83zM32.84 53.05h2.83v2.83h-2.83zM25.26 58.1h2.83v2.83h-2.83zM20.21 63.15h2.83v2.83h-2.83zM20.21 65.68h2.83v2.83h-2.83zM20.21 68.21h2.83v2.83h-2.83z"/>
<path fill="#33b8a1" d="M7.58 7.58h2.83v2.83h-2.83zM7.58 10.1h2.83v2.83h-2.83zM5.05 15.16h2.83v2.83h-2.83zM58.1 17.68h7.88v2.83h-7.88zM53.05 20.21h2.83v2.83h-2.83zM42.94 22.74h5.35v2.83h-5.35zM7.58 25.26h2.83v2.83h-2.83zM10.1 27.79h7.88v2.83h-7.88zM5.05 30.31h2.83v2.83h-2.83zM12.63 40.42h2.83v2.83h-2.83zM25.26 42.94h2.83v2.83h-2.83zM27.79 45.47h2.83v2.83h-2.83zM20.21 48h2.83v2.83h-2.83zM32.84 50.52h2.83v2.83h-2.83zM22.74 55.57h2.83v2.83h-2.83z"/>
<path fill="#40ba99" d="M2.53 0h2.83v2.83h-2.83zM5.05 27.79h5.35v2.83h-5.35zM7.58 30.31h2.83v2.83h-2.83zM12.63 42.94h2.83v2.83h-2.83zM15.16 45.47h2.83v2.83h-2.83zM30.31 55.57h2.83v2.83h-2.83zM22.74 68.21h2.83v2.83h-2.83z"/>
<path fill="#4fbc91" d="M0 15.16h2.83v2.83h-2.83zM2.53 32.84h2.83v2.83h-2.83zM22.74 40.42h2.83v2.83h-2.83zM25.26 45.47h2.83v2.83h-2.83zM30.31 48h2.83v2.83h-2.83zM22.74 53.05h2.83v2.83h-2.83z"/>
<path fill="#5ebe89" d="M2.53 27.79h2.83v2.83h-2.83zM22.74 45.47h2.83v2.83h-2.83zM22.74 48h2.83v2.83h-2.83zM27.79 55.57h2.83v2.83h-2.83z"/>
<path fill="#6ebf82" d="M2.53 15.16h2.83v2.83h-2.83zM17.68 45.47h5.35v2.83h-5.35zM22.74 50.52h2.83v2.83h-2.83zM25.26 55.57h2.83v2.83h-2.83zM15.16 63.15h2.83v2.83h-2.83z"/>
<path fill="#7dbf7b" d="M2.53 30.31h2.83v2.83h-2.83zM15.16 40.42h2.83v2.83h-2.83zM22.74 42.94h2.83v2.83h-2.83zM25.26 48h5.35v2.83h-5.35zM30.31 53.05h2.83v2.83h-2.83zM17.68 63.15h2.83v2.83h-2.83z"/>
<path fill="#8bbf75" d="M0 2.53h2.83v2.83h-2.83zM5.05 12.63h2.83v2.83h-2.83zM20.21 40.42h2.83v2.83h-2.83zM15.16 42.94h2.83v2.83h-2.83zM30.31 50.52h2.83v2.83h-2.83z"/>
<path fill="#98bf70" d="M0 27.79h2.83v2.83h-2.83zM0 35.37h2.83v2.83h-2.83zM17.68 40.42h2.83v2.83h-2.83zM27.79 68.21h2.83v2.83h-2.83z"/>
<path fill="#a5be6b" d="M2.53 2.53h2.83v2.83h-2.83zM5.05 5.05h2.83v2.83h-2.83zM0 12.63h2.83v2.83h-2.83zM25.26 50.52h2.83v2.83h-2.83zM25.26 53.05h5.35v2.83h-5.35z"/>
<path fill="#b1bd66" d="M17.68 42.94h5.35v2.83h-5.35zM27.79 50.52h2.83v2.83h-2.83zM17.68 70.73h2.83v2.83h-2.83z"/>
<path fill="#bdbd61" d="M5.05 10.1h2.83v2.83h-2.83zM25.26 68.21h2.83v2.83h-2.83z"/>
<path fill="#c8bc5d" d="M0 5.05h2.83v2.83h-2.83zM5.05 7.58h2.83v2.83h-2.83zM2.53 12.63h2.83v2.83h-2.83zM15.16 70.73h2.83v2.83h-2.83z"/>
<path fill="#d3bb58" d="M0 10.1h2.83v2.83h-2.83zM17.68 65.68h2.83v2.83h-2.83z"/>
<path fill="#e8b94f" d="M0 7.58h2.83v2.83h-2.83zM15.16 65.68h2.83v2.83h-2.83zM17.68 68.21h2.83v2.83h-2.83z"/>
<path fill="#f2b949" d="M2.53 5.05h2.83v2.83h-2.83z"/>
<path fill="#fbbc41" d="M2.53 10.1h2.83v2.83h-2.83z"/>
<path fill="#fec238" d="M15.16 68.21h2.83v2.83h-2.83z"/>
<path fill="#fec932" d="M2.53 7.58h2.83v2.83h-2.83z"/>
<path fill="#f5de21" d="M0 30.31h2.83v2.83h-2.83z"/>
<path fill="#f5e71b" d="M0 32.84h2.83v2.83h-2.83zM2.53 65.68h2.83v2.83h-2.83zM7.58 73.26h2.83v2.83h-2.83z"/>
</g>
<rect x="0.8" y="0.8" width="77.95" height="77.95" fill="none" stroke="#000" stroke-width="1.6"/>
</g>
<g transform="translate(336.55,189.25)">
<clipPath id="mc7"><rect x="0.4" y="0.4" width="78.75" height="78.75"/></clipPath>
<rect x="0" y="0" width="79.55" height="79.55" fill="#000"/>
<path d="M1.88 0v-2.6 M1.88 79.55v2.6 M0 1.88h-2.6 M79.55 1.88h2.6 M27.14 0v-2.6 M27.14 79.55v2.6 M0 27.14h-2.6 M79.55 27.14h2.6 M52.41 0v-2.6 M52.41 79.55v2.6 M0 52.41h-2.6 M79.55 52.41h2.6 M77.67 0v-2.6 M77.67 79.55v2.6 M0 77.67h-2.6 M79.55 77.67h2.6" stroke="#000" stroke-width="1.3" fill="none"/>
<g shape-rendering="crispEdges" clip-path="url(#mc7)" transform="translate(0.62,-0.6)">
<path fill="#0c74dd" d="M40.42 12.63h7.88v2.83h-7.88zM40.42 15.16h5.35v2.83h-5.35z"/>
<path fill="#1079da" d="M37.89 12.63h2.83v2.83h-2.83zM37.89 15.16h2.83v2.83h-2.83zM45.47 15.16h2.83v2.83h-2.83z"/>
<path fill="#137ed7" d="M40.42 10.1h7.88v2.83h-7.88zM48 12.63h2.83v2.83h-2.83zM35.37 15.16h2.83v2.83h-2.83zM48 15.16h2.83v2.83h-2.83zM37.89 17.68h10.4v2.83h-10.4z"/>
<path fill="#1484d4" d="M37.89 10.1h2.83v2.83h-2.83zM48 10.1h2.83v2.83h-2.83zM35.37 12.63h2.83v2.83h-2.83zM50.52 12.63h2.83v2.83h-2.83zM50.52 15.16h2.83v2.83h-2.83zM48 17.68h2.83v2.83h-2.83zM65.68 30.31h2.83v2.83h-2.83z"/>
<path fill="#1389d3" d="M40.42 7.58h2.83v2.83h-2.83zM45.47 7.58h2.83v2.83h-2.83zM35.37 10.1h2.83v2.83h-2.83zM50.52 10.1h2.83v2.83h-2.83zM32.84 12.63h2.83v2.83h-2.83zM53.05 12.63h2.83v2.83h-2.83zM32.84 15.16h2.83v2.83h-2.83zM35.37 17.68h2.83v2.83h-2.83zM50.52 17.68h2.83v2.83h-2.83zM40.42 20.21h7.88v2.83h-7.88zM63.15 27.79h7.88v2.83h-7.88zM60.63 30.31h5.35v2.83h-5.35zM68.21 30.31h2.83v2.83h-2.83zM65.68 32.84h2.83v2.83h-2.83zM40.42 48h2.83v2.83h-2.83zM40.42 50.52h2.83v2.83h-2.83zM40.42 53.05h2.83v2.83h-2.83z"/>
<path fill="#0f90d2" d="M37.89 7.58h2.83v2.83h-2.83zM42.94 7.58h2.83v2.83h-2.83zM48 7.58h2.83v2.83h-2.83zM32.84 10.1h2.83v2.83h-2.83zM30.31 12.63h2.83v2.83h-2.83zM30.31 15.16h2.83v2.83h-2.83zM53.05 15.16h2.83v2.83h-2.83zM32.84 17.68h2.83v2.83h-2.83zM53.05 17.68h2.83v2.83h-2.83zM37.89 20.21h2.83v2.83h-2.83zM48 20.21h2.83v2.83h-2.83zM63.15 25.26h5.35v2.83h-5.35zM60.63 27.79h2.83v2.83h-2.83zM70.73 30.31h2.83v2.83h-2.83zM63.15 32.84h2.83v2.83h-2.83zM68.21 32.84h2.83v2.83h-2.83zM40.42 55.57h2.83v2.83h-2.83z"/>
<path fill="#0a97d1" d="M35.37 7.58h2.83v2.83h-2.83zM50.52 7.58h2.83v2.83h-2.83zM53.05 10.1h2.83v2.83h-2.83zM55.57 12.63h2.83v2.83h-2.83zM55.57 15.16h2.83v2.83h-2.83zM73.26 15.16h2.83v2.83h-2.83zM30.31 17.68h2.83v2.83h-2.83zM73.26 17.68h2.83v2.83h-2.83zM35.37 20.21h2.83v2.83h-2.83zM50.52 20.21h2.83v2.83h-2.83zM73.26 20.21h2.83v2.83h-2.83zM60.63 25.26h2.83v2.83h-2.83zM68.21 25.26h5.35v2.83h-5.35zM58.1 27.79h2.83v2.83h-2.83zM70.73 27.79h2.83v2.83h-2.83zM58.1 30.31h2.83v2.83h-2.83zM73.26 30.31h2.83v2.83h-2.83zM60.63 32.84h2.83v2.83h-2.83zM70.73 32.84h2.83v2.83h-2.83zM63.15 35.37h5.35v2.83h-5.35z"/>
<path fill="#079ccf" d="M45.47 5.05h2.83v2.83h-2.83zM32.84 7.58h2.83v2.83h-2.83zM30.31 10.1h2.83v2.83h-2.83zM55.57 10.1h2.83v2.83h-2.83zM27.79 12.63h2.83v2.83h-2.83zM73.26 12.63h2.83v2.83h-2.83zM55.57 17.68h5.35v2.83h-5.35zM32.84 20.21h2.83v2.83h-2.83zM53.05 20.21h7.88v2.83h-7.88zM40.42 22.74h5.35v2.83h-5.35zM48 22.74h5.35v2.83h-5.35zM55.57 22.74h2.83v2.83h-2.83zM60.63 22.74h10.4v2.83h-10.4zM55.57 25.26h5.35v2.83h-5.35zM58.1 32.84h2.83v2.83h-2.83zM60.63 35.37h2.83v2.83h-2.83zM42.94 42.94h2.83v2.83h-2.83zM40.42 45.47h2.83v2.83h-2.83zM40.42 58.1h2.83v2.83h-2.83z"/>
<path fill="#06a1cc" d="M37.89 5.05h7.88v2.83h-7.88zM48 5.05h2.83v2.83h-2.83zM30.31 7.58h2.83v2.83h-2.83zM53.05 7.58h2.83v2.83h-2.83zM27.79 10.1h2.83v2.83h-2.83zM58.1 10.1h2.83v2.83h-2.83zM73.26 10.1h2.83v2.83h-2.83zM25.26 12.63h2.83v2.83h-2.83zM58.1 12.63h2.83v2.83h-2.83zM27.79 15.16h2.83v2.83h-2.83zM58.1 15.16h2.83v2.83h-2.83zM27.79 17.68h2.83v2.83h-2.83zM60.63 17.68h2.83v2.83h-2.83zM30.31 20.21h2.83v2.83h-2.83zM60.63 20.21h2.83v2.83h-2.83zM65.68 20.21h2.83v2.83h-2.83zM37.89 22.74h2.83v2.83h-2.83zM45.47 22.74h2.83v2.83h-2.83zM53.05 22.74h2.83v2.83h-2.83zM58.1 22.74h2.83v2.83h-2.83zM70.73 22.74h2.83v2.83h-2.83zM55.57 27.79h2.83v2.83h-2.83zM55.57 30.31h2.83v2.83h-2.83zM55.57 32.84h2.83v2.83h-2.83zM58.1 35.37h2.83v2.83h-2.83zM42.94 60.63h2.83v2.83h-2.83z"/>
<path fill="#06a6c7" d="M35.37 5.05h2.83v2.83h-2.83zM50.52 5.05h5.35v2.83h-5.35zM27.79 7.58h2.83v2.83h-2.83zM55.57 7.58h2.83v2.83h-2.83zM73.26 7.58h5.35v2.83h-5.35zM25.26 10.1h2.83v2.83h-2.83zM60.63 12.63h2.83v2.83h-2.83zM25.26 15.16h2.83v2.83h-2.83zM60.63 15.16h5.35v2.83h-5.35zM27.79 20.21h2.83v2.83h-2.83zM63.15 20.21h2.83v2.83h-2.83zM68.21 20.21h5.35v2.83h-5.35zM32.84 22.74h5.35v2.83h-5.35zM40.42 25.26h2.83v2.83h-2.83zM45.47 25.26h5.35v2.83h-5.35zM53.05 25.26h2.83v2.83h-2.83zM53.05 27.79h2.83v2.83h-2.83zM60.63 37.89h2.83v2.83h-2.83zM40.42 42.94h2.83v2.83h-2.83zM40.42 60.63h2.83v2.83h-2.83z"/>
<path fill="#07a9c2" d="M40.42 2.53h7.88v2.83h-7.88zM32.84 5.05h2.83v2.83h-2.83zM75.78 5.05h2.83v2.83h-2.83zM58.1 7.58h5.35v2.83h-5.35zM60.63 10.1h5.35v2.83h-5.35zM63.15 12.63h2.83v2.83h-2.83zM22.74 15.16h2.83v2.83h-2.83zM70.73 15.16h2.83v2.83h-2.83zM25.26 17.68h2.83v2.83h-2.83zM63.15 17.68h5.35v2.83h-5.35zM70.73 17.68h2.83v2.83h-2.83zM27.79 22.74h5.35v2.83h-5.35zM35.37 25.26h5.35v2.83h-5.35zM42.94 25.26h2.83v2.83h-2.83zM50.52 25.26h2.83v2.83h-2.83zM50.52 27.79h2.83v2.83h-2.83zM53.05 30.31h2.83v2.83h-2.83zM53.05 32.84h2.83v2.83h-2.83zM55.57 35.37h2.83v2.83h-2.83zM58.1 37.89h2.83v2.83h-2.83zM42.94 40.42h2.83v2.83h-2.83zM40.42 63.15h2.83v2.83h-2.83zM5.05 73.26h2.83v2.83h-2.83z"/>
<path fill="#0badbc" d="M42.94 0h2.83v2.83h-2.83zM37.89 2.53h2.83v2.83h-2.83zM48 2.53h7.88v2.83h-7.88zM73.26 2.53h5.35v2.83h-5.35zM30.31 5.05h2.83v2.83h-2.83zM55.57 5.05h5.35v2.83h-5.35zM73.26 5.05h2.83v2.83h-2.83zM22.74 7.58h5.35v2.83h-5.35zM65.68 7.58h2.83v2.83h-2.83zM22.74 10.1h2.83v2.83h-2.83zM65.68 10.1h2.83v2.83h-2.83zM70.73 10.1h2.83v2.83h-2.83zM22.74 12.63h2.83v2.83h-2.83zM65.68 12.63h2.83v2.83h-2.83zM70.73 12.63h2.83v2.83h-2.83zM65.68 15.16h5.35v2.83h-5.35zM22.74 17.68h2.83v2.83h-2.83zM68.21 17.68h2.83v2.83h-2.83zM25.26 20.21h2.83v2.83h-2.83zM30.31 25.26h5.35v2.83h-5.35zM40.42 27.79h10.4v2.83h-10.4zM50.52 30.31h2.83v2.83h-2.83zM53.05 35.37h2.83v2.83h-2.83zM55.57 37.89h2.83v2.83h-2.83zM40.42 40.42h2.83v2.83h-2.83z"/>
<path fill="#13b0b6" d="M37.89 0h5.35v2.83h-5.35zM45.47 0h12.93v2.83h-12.93zM60.63 0h2.83v2.83h-2.83zM73.26 0h5.35v2.83h-5.35zM35.37 2.53h2.83v2.83h-2.83zM55.57 2.53h5.35v2.83h-5.35zM63.15 2.53h5.35v2.83h-5.35zM70.73 2.53h2.83v2.83h-2.83zM27.79 5.05h2.83v2.83h-2.83zM60.63 5.05h12.93v2.83h-12.93zM20.21 7.58h2.83v2.83h-2.83zM63.15 7.58h2.83v2.83h-2.83zM68.21 7.58h5.35v2.83h-5.35zM20.21 10.1h2.83v2.83h-2.83zM68.21 10.1h2.83v2.83h-2.83zM20.21 12.63h2.83v2.83h-2.83zM68.21 12.63h2.83v2.83h-2.83zM20.21 15.16h2.83v2.83h-2.83zM22.74 20.21h2.83v2.83h-2.83zM25.26 22.74h2.83v2.83h-2.83zM27.79 25.26h2.83v2.83h-2.83zM27.79 27.79h12.93v2.83h-12.93zM27.79 30.31h2.83v2.83h-2.83zM35.37 30.31h2.83v2.83h-2.83zM40.42 30.31h10.4v2.83h-10.4zM40.42 32.84h5.35v2.83h-5.35zM48 32.84h5.35v2.83h-5.35zM40.42 35.37h5.35v2.83h-5.35zM48 35.37h5.35v2.83h-5.35zM40.42 37.89h5.35v2.83h-5.35zM50.52 37.89h5.35v2.83h-5.35zM45.47 40.42h2.83v2.83h-2.83zM45.47 60.63h2.83v2.83h-2.83z"/>
<path fill="#1cb3b0" d="M35.37 0h2.83v2.83h-2.83zM58.1 0h2.83v2.83h-2.83zM63.15 0h10.4v2.83h-10.4zM60.63 2.53h2.83v2.83h-2.83zM68.21 2.53h2.83v2.83h-2.83zM25.26 5.05h2.83v2.83h-2.83zM17.68 7.58h2.83v2.83h-2.83zM17.68 12.63h2.83v2.83h-2.83zM20.21 17.68h2.83v2.83h-2.83zM20.21 20.21h2.83v2.83h-2.83zM22.74 22.74h2.83v2.83h-2.83zM25.26 25.26h2.83v2.83h-2.83zM20.21 27.79h2.83v2.83h-2.83zM25.26 27.79h2.83v2.83h-2.83zM20.21 30.31h7.88v2.83h-7.88zM30.31 30.31h5.35v2.83h-5.35zM37.89 30.31h2.83v2.83h-2.83zM32.84 32.84h7.88v2.83h-7.88zM45.47 32.84h2.83v2.83h-2.83zM35.37 35.37h5.35v2.83h-5.35zM45.47 35.37h2.83v2.83h-2.83zM37.89 37.89h2.83v2.83h-2.83zM45.47 37.89h5.35v2.83h-5.35zM37.89 40.42h2.83v2.83h-2.83zM37.89 42.94h2.83v2.83h-2.83zM37.89 45.47h2.83v2.83h-2.83zM0 48h2.83v2.83h-2.83zM37.89 48h2.83v2.83h-2.83zM0 50.52h10.4v2.83h-10.4zM37.89 50.52h2.83v2.83h-2.83zM10.1 53.05h2.83v2.83h-2.83zM37.89 53.05h2.83v2.83h-2.83zM37.89 55.57h2.83v2.83h-2.83zM37.89 58.1h2.83v2.83h-2.83zM35.37 60.63h5.35v2.83h-5.35zM22.74 63.15h2.83v2.83h-2.83zM27.79 63.15h5.35v2.83h-5.35zM35.37 63.15h5.35v2.83h-5.35z"/>
<path fill="#27b5a8" d="M32.84 0h2.83v2.83h-2.83zM32.84 2.53h2.83v2.83h-2.83zM15.16 7.58h2.83v2.83h-2.83zM15.16 10.1h5.35v2.83h-5.35zM17.68 15.16h2.83v2.83h-2.83zM17.68 17.68h2.83v2.83h-2.83zM20.21 22.74h2.83v2.83h-2.83zM20.21 25.26h5.35v2.83h-5.35zM22.74 27.79h2.83v2.83h-2.83zM17.68 30.31h2.83v2.83h-2.83zM20.21 32.84h12.93v2.83h-12.93zM22.74 35.37h2.83v2.83h-2.83zM30.31 35.37h5.35v2.83h-5.35zM30.31 37.89h7.88v2.83h-7.88zM0 42.94h2.83v2.83h-2.83zM0 45.47h7.88v2.83h-7.88zM2.53 48h7.88v2.83h-7.88zM10.1 50.52h2.83v2.83h-2.83zM35.37 58.1h2.83v2.83h-2.83zM22.74 60.63h12.93v2.83h-12.93zM20.21 63.15h2.83v2.83h-2.83zM25.26 63.15h2.83v2.83h-2.83zM32.84 63.15h2.83v2.83h-2.83z"/>
<path fill="#33b8a1" d="M30.31 0h2.83v2.83h-2.83zM20.21 5.05h5.35v2.83h-5.35zM15.16 12.63h2.83v2.83h-2.83zM17.68 20.21h2.83v2.83h-2.83zM17.68 22.74h2.83v2.83h-2.83zM17.68 25.26h2.83v2.83h-2.83zM17.68 27.79h2.83v2.83h-2.83zM15.16 30.31h2.83v2.83h-2.83zM15.16 32.84h5.35v2.83h-5.35zM5.05 35.37h2.83v2.83h-2.83zM10.1 35.37h2.83v2.83h-2.83zM20.21 35.37h2.83v2.83h-2.83zM25.26 35.37h5.35v2.83h-5.35zM5.05 37.89h5.35v2.83h-5.35zM27.79 37.89h2.83v2.83h-2.83zM2.53 40.42h5.35v2.83h-5.35zM32.84 40.42h5.35v2.83h-5.35zM2.53 42.94h5.35v2.83h-5.35zM32.84 42.94h5.35v2.83h-5.35zM7.58 45.47h2.83v2.83h-2.83zM35.37 45.47h2.83v2.83h-2.83zM10.1 48h2.83v2.83h-2.83zM20.21 58.1h2.83v2.83h-2.83zM32.84 58.1h2.83v2.83h-2.83zM20.21 60.63h2.83v2.83h-2.83z"/>
<path fill="#40ba99" d="M25.26 0h5.35v2.83h-5.35zM30.31 2.53h2.83v2.83h-2.83zM17.68 5.05h2.83v2.83h-2.83zM15.16 15.16h2.83v2.83h-2.83zM15.16 17.68h2.83v2.83h-2.83zM15.16 20.21h2.83v2.83h-2.83zM15.16 22.74h2.83v2.83h-2.83zM15.16 27.79h2.83v2.83h-2.83zM12.63 30.31h2.83v2.83h-2.83zM5.05 32.84h10.4v2.83h-10.4zM7.58 35.37h2.83v2.83h-2.83zM12.63 35.37h7.88v2.83h-7.88zM2.53 37.89h2.83v2.83h-2.83zM12.63 37.89h2.83v2.83h-2.83zM25.26 37.89h2.83v2.83h-2.83zM0 40.42h2.83v2.83h-2.83zM7.58 40.42h2.83v2.83h-2.83zM30.31 40.42h2.83v2.83h-2.83zM7.58 42.94h5.35v2.83h-5.35zM10.1 45.47h2.83v2.83h-2.83zM32.84 45.47h2.83v2.83h-2.83zM12.63 48h2.83v2.83h-2.83zM35.37 48h2.83v2.83h-2.83zM12.63 50.52h2.83v2.83h-2.83zM12.63 53.05h2.83v2.83h-2.83zM35.37 53.05h2.83v2.83h-2.83zM35.37 55.57h2.83v2.83h-2.83zM30.31 58.1h2.83v2.83h-2.83zM32.84 65.68h2.83v2.83h-2.83z"/>
<path fill="#4fbc91" d="M12.63 7.58h2.83v2.83h-2.83zM12.63 10.1h2.83v2.83h-2.83zM12.63 12.63h2.83v2.83h-2.83zM12.63 25.26h5.35v2.83h-5.35zM12.63 27.79h2.83v2.83h-2.83zM7.58 30.31h5.35v2.83h-5.35zM10.1 37.89h2.83v2.83h-2.83zM15.16 37.89h2.83v2.83h-2.83zM22.74 37.89h2.83v2.83h-2.83zM10.1 40.42h2.83v2.83h-2.83zM27.79 40.42h2.83v2.83h-2.83zM30.31 42.94h2.83v2.83h-2.83zM35.37 50.52h2.83v2.83h-2.83zM12.63 55.57h2.83v2.83h-2.83zM22.74 58.1h7.88v2.83h-7.88zM27.79 65.68h5.35v2.83h-5.35z"/>
<path fill="#5ebe89" d="M22.74 0h2.83v2.83h-2.83zM27.79 2.53h2.83v2.83h-2.83zM15.16 5.05h2.83v2.83h-2.83zM12.63 15.16h2.83v2.83h-2.83zM12.63 17.68h2.83v2.83h-2.83zM12.63 20.21h2.83v2.83h-2.83zM12.63 22.74h2.83v2.83h-2.83zM10.1 27.79h2.83v2.83h-2.83zM5.05 30.31h2.83v2.83h-2.83zM2.53 35.37h2.83v2.83h-2.83zM17.68 37.89h5.35v2.83h-5.35zM25.26 40.42h2.83v2.83h-2.83zM12.63 42.94h2.83v2.83h-2.83zM12.63 45.47h2.83v2.83h-2.83zM15.16 48h2.83v2.83h-2.83zM32.84 48h2.83v2.83h-2.83zM15.16 50.52h2.83v2.83h-2.83zM20.21 55.57h2.83v2.83h-2.83zM32.84 55.57h2.83v2.83h-2.83zM22.74 65.68h5.35v2.83h-5.35z"/>
<path fill="#6ebf82" d="M10.1 7.58h2.83v2.83h-2.83zM10.1 25.26h2.83v2.83h-2.83zM12.63 40.42h7.88v2.83h-7.88zM27.79 42.94h2.83v2.83h-2.83zM15.16 45.47h2.83v2.83h-2.83zM30.31 45.47h2.83v2.83h-2.83zM17.68 48h2.83v2.83h-2.83zM17.68 50.52h2.83v2.83h-2.83zM32.84 50.52h2.83v2.83h-2.83zM17.68 53.05h2.83v2.83h-2.83zM32.84 53.05h2.83v2.83h-2.83zM20.21 65.68h2.83v2.83h-2.83z"/>
<path fill="#7dbf7b" d="M12.63 5.05h2.83v2.83h-2.83zM10.1 10.1h2.83v2.83h-2.83zM10.1 12.63h2.83v2.83h-2.83zM10.1 22.74h2.83v2.83h-2.83zM5.05 27.79h5.35v2.83h-5.35zM2.53 30.31h2.83v2.83h-2.83zM2.53 32.84h2.83v2.83h-2.83zM0 37.89h2.83v2.83h-2.83zM20.21 40.42h5.35v2.83h-5.35zM15.16 42.94h2.83v2.83h-2.83zM25.26 42.94h2.83v2.83h-2.83zM17.68 45.47h5.35v2.83h-5.35zM27.79 45.47h2.83v2.83h-2.83zM20.21 48h2.83v2.83h-2.83zM15.16 53.05h2.83v2.83h-2.83zM17.68 55.57h2.83v2.83h-2.83zM22.74 55.57h2.83v2.83h-2.83zM30.31 55.57h2.83v2.83h-2.83z"/>
<path fill="#8bbf75" d="M25.26 2.53h2.83v2.83h-2.83zM10.1 15.16h2.83v2.83h-2.83zM10.1 17.68h2.83v2.83h-2.83zM10.1 20.21h2.83v2.83h-2.83zM5.05 25.26h5.35v2.83h-5.35zM2.53 27.79h2.83v2.83h-2.83zM17.68 42.94h7.88v2.83h-7.88zM22.74 45.47h2.83v2.83h-2.83zM30.31 48h2.83v2.83h-2.83zM20.21 53.05h2.83v2.83h-2.83zM27.79 55.57h2.83v2.83h-2.83z"/>
<path fill="#98bf70" d="M10.1 5.05h2.83v2.83h-2.83zM2.53 25.26h2.83v2.83h-2.83zM25.26 45.47h2.83v2.83h-2.83zM20.21 50.52h2.83v2.83h-2.83zM25.26 55.57h2.83v2.83h-2.83zM17.68 58.1h2.83v2.83h-2.83z"/>
<path fill="#a5be6b" d="M7.58 7.58h2.83v2.83h-2.83zM7.58 20.21h2.83v2.83h-2.83zM7.58 22.74h2.83v2.83h-2.83zM30.31 53.05h2.83v2.83h-2.83z"/>
<path fill="#b1bd66" d="M22.74 2.53h2.83v2.83h-2.83zM7.58 10.1h2.83v2.83h-2.83zM7.58 12.63h2.83v2.83h-2.83zM7.58 15.16h2.83v2.83h-2.83zM7.58 17.68h2.83v2.83h-2.83zM5.05 22.74h2.83v2.83h-2.83zM22.74 48h2.83v2.83h-2.83zM27.79 48h2.83v2.83h-2.83zM30.31 50.52h2.83v2.83h-2.83zM22.74 53.05h2.83v2.83h-2.83zM17.68 60.63h2.83v2.83h-2.83z"/>
<path fill="#bdbd61" d="M5.05 20.21h2.83v2.83h-2.83zM2.53 22.74h2.83v2.83h-2.83zM25.26 48h2.83v2.83h-2.83zM22.74 50.52h2.83v2.83h-2.83zM15.16 55.57h2.83v2.83h-2.83zM17.68 63.15h2.83v2.83h-2.83z"/>
<path fill="#c8bc5d" d="M7.58 5.05h2.83v2.83h-2.83zM2.53 20.21h2.83v2.83h-2.83zM25.26 53.05h5.35v2.83h-5.35z"/>
<path fill="#d3bb58" d="M20.21 2.53h2.83v2.83h-2.83zM5.05 7.58h2.83v2.83h-2.83zM5.05 10.1h2.83v2.83h-2.83zM5.05 12.63h2.83v2.83h-2.83zM5.05 15.16h2.83v2.83h-2.83zM5.05 17.68h2.83v2.83h-2.83zM0 25.26h2.83v2.83h-2.83zM25.26 50.52h5.35v2.83h-5.35z"/>
<path fill="#ddba54" d="M2.53 17.68h2.83v2.83h-2.83zM0 22.74h2.83v2.83h-2.83zM0 27.79h2.83v2.83h-2.83z"/>
<path fill="#e8b94f" d="M17.68 2.53h2.83v2.83h-2.83zM2.53 10.1h2.83v2.83h-2.83zM2.53 12.63h2.83v2.83h-2.83zM2.53 15.16h2.83v2.83h-2.83zM0 35.37h2.83v2.83h-2.83zM17.68 65.68h2.83v2.83h-2.83z"/>
<path fill="#f2b949" d="M15.16 58.1h2.83v2.83h-2.83z"/>
<path fill="#fbbc41" d="M5.05 5.05h2.83v2.83h-2.83zM2.53 7.58h2.83v2.83h-2.83zM0 20.21h2.83v2.83h-2.83z"/>
<path fill="#fec932" d="M0 30.31h2.83v2.83h-2.83z"/>
<path fill="#fbd02c" d="M15.16 60.63h2.83v2.83h-2.83z"/>
<path fill="#f8d727" d="M2.53 0h2.83v2.83h-2.83zM0 17.68h2.83v2.83h-2.83z"/>
<path fill="#f5de21" d="M0 32.84h2.83v2.83h-2.83z"/>
<path fill="#f5e71b" d="M0 15.16h2.83v2.83h-2.83zM27.79 68.21h2.83v2.83h-2.83z"/>
<path fill="#f6f015" d="M2.53 5.05h2.83v2.83h-2.83zM15.16 63.15h2.83v2.83h-2.83z"/>
<path fill="#f9fb0e" d="M0 0h2.83v2.83h-2.83zM0 2.53h5.35v2.83h-5.35zM0 5.05h2.83v2.83h-2.83zM0 7.58h2.83v2.83h-2.83zM0 10.1h2.83v2.83h-2.83zM0 12.63h2.83v2.83h-2.83zM15.16 65.68h2.83v2.83h-2.83zM15.16 68.21h12.93v2.83h-12.93zM15.16 70.73h7.88v2.83h-7.88z"/>
</g>
<rect x="0.8" y="0.8" width="77.95" height="77.95" fill="none" stroke="#000" stroke-width="1.6"/>
</g>
<g transform="translate(424.9,189.25)">
<clipPath id="mc8"><rect x="0.4" y="0.4" width="78.75" height="78.75"/></clipPath>
<rect x="0" y="0" width="79.55" height="79.55" fill="#000"/>
<path d="M1.88 0v-2.6 M1.88 79.55v2.6 M0 1.88h-2.6 M79.55 1.88h2.6 M27.14 0v-2.6 M27.14 79.55v2.6 M0 27.14h-2.6 M79.55 27.14h2.6 M52.41 0v-2.6 M52.41 79.55v2.6 M0 52.41h-2.6 M79.55 52.41h2.6 M77.67 0v-2.6 M77.67 79.55v2.6 M0 77.67h-2.6 M79.55 77.67h2.6" stroke="#000" stroke-width="1.3" fill="none"/>
<g shape-rendering="crispEdges" clip-path="url(#mc8)" transform="translate(0.62,-0.6)">
<path fill="#066fdf" d="M73.26 12.63h2.83v2.83h-2.83zM73.26 15.16h2.83v2.83h-2.83zM25.26 42.94h12.93v2.83h-12.93zM42.94 42.94h2.83v2.83h-2.83zM32.84 45.47h2.83v2.83h-2.83z"/>
<path fill="#0c74dd" d="M73.26 10.1h2.83v2.83h-2.83zM73.26 17.68h2.83v2.83h-2.83zM58.1 30.31h2.83v2.83h-2.83zM55.57 32.84h7.88v2.83h-7.88zM37.89 42.94h5.35v2.83h-5.35zM27.79 45.47h5.35v2.83h-5.35zM35.37 45.47h2.83v2.83h-2.83z"/>
<path fill="#1079da" d="M73.26 7.58h2.83v2.83h-2.83zM70.73 12.63h2.83v2.83h-2.83zM53.05 30.31h5.35v2.83h-5.35zM60.63 30.31h5.35v2.83h-5.35zM53.05 32.84h2.83v2.83h-2.83zM63.15 32.84h2.83v2.83h-2.83zM22.74 42.94h2.83v2.83h-2.83zM25.26 45.47h2.83v2.83h-2.83zM37.89 45.47h2.83v2.83h-2.83z"/>
<path fill="#137ed7" d="M73.26 5.05h2.83v2.83h-2.83zM70.73 10.1h2.83v2.83h-2.83zM70.73 15.16h2.83v2.83h-2.83zM70.73 17.68h2.83v2.83h-2.83zM73.26 20.21h2.83v2.83h-2.83zM58.1 27.79h2.83v2.83h-2.83zM65.68 30.31h2.83v2.83h-2.83zM65.68 32.84h2.83v2.83h-2.83zM55.57 35.37h7.88v2.83h-7.88zM25.26 40.42h10.4v2.83h-10.4zM20.21 42.94h2.83v2.83h-2.83zM40.42 48h2.83v2.83h-2.83z"/>
<path fill="#1484d4" d="M70.73 7.58h2.83v2.83h-2.83zM75.78 7.58h2.83v2.83h-2.83zM70.73 20.21h2.83v2.83h-2.83zM70.73 22.74h2.83v2.83h-2.83zM55.57 27.79h2.83v2.83h-2.83zM60.63 27.79h5.35v2.83h-5.35zM50.52 30.31h2.83v2.83h-2.83zM50.52 32.84h2.83v2.83h-2.83zM50.52 35.37h5.35v2.83h-5.35zM22.74 40.42h2.83v2.83h-2.83zM35.37 40.42h10.4v2.83h-10.4zM22.74 45.47h2.83v2.83h-2.83zM37.89 48h2.83v2.83h-2.83z"/>
<path fill="#1389d3" d="M73.26 2.53h2.83v2.83h-2.83zM70.73 5.05h2.83v2.83h-2.83zM75.78 5.05h2.83v2.83h-2.83zM70.73 25.26h2.83v2.83h-2.83zM53.05 27.79h2.83v2.83h-2.83zM65.68 27.79h7.88v2.83h-7.88zM68.21 30.31h5.35v2.83h-5.35zM48 32.84h2.83v2.83h-2.83zM68.21 32.84h5.35v2.83h-5.35zM48 35.37h2.83v2.83h-2.83zM20.21 40.42h2.83v2.83h-2.83zM45.47 40.42h2.83v2.83h-2.83zM17.68 42.94h2.83v2.83h-2.83zM20.21 45.47h2.83v2.83h-2.83zM30.31 48h5.35v2.83h-5.35zM40.42 50.52h2.83v2.83h-2.83z"/>
<path fill="#0f90d2" d="M68.21 12.63h2.83v2.83h-2.83zM68.21 15.16h2.83v2.83h-2.83zM68.21 17.68h2.83v2.83h-2.83zM68.21 20.21h2.83v2.83h-2.83zM68.21 22.74h2.83v2.83h-2.83zM55.57 25.26h10.4v2.83h-10.4zM68.21 25.26h2.83v2.83h-2.83zM50.52 27.79h2.83v2.83h-2.83zM48 30.31h2.83v2.83h-2.83zM45.47 32.84h2.83v2.83h-2.83zM42.94 37.89h10.4v2.83h-10.4zM15.16 42.94h2.83v2.83h-2.83zM27.79 48h2.83v2.83h-2.83zM35.37 48h2.83v2.83h-2.83z"/>
<path fill="#0a97d1" d="M73.26 0h5.35v2.83h-5.35zM70.73 2.53h2.83v2.83h-2.83zM75.78 2.53h2.83v2.83h-2.83zM68.21 5.05h2.83v2.83h-2.83zM68.21 7.58h2.83v2.83h-2.83zM68.21 10.1h2.83v2.83h-2.83zM63.15 15.16h5.35v2.83h-5.35zM60.63 17.68h2.83v2.83h-2.83zM58.1 22.74h10.4v2.83h-10.4zM53.05 25.26h2.83v2.83h-2.83zM65.68 25.26h2.83v2.83h-2.83zM48 27.79h2.83v2.83h-2.83zM45.47 35.37h2.83v2.83h-2.83zM17.68 40.42h2.83v2.83h-2.83zM17.68 45.47h2.83v2.83h-2.83zM22.74 48h5.35v2.83h-5.35zM42.94 55.57h2.83v2.83h-2.83z"/>
<path fill="#079ccf" d="M70.73 0h2.83v2.83h-2.83zM68.21 2.53h2.83v2.83h-2.83zM58.1 10.1h2.83v2.83h-2.83zM63.15 10.1h5.35v2.83h-5.35zM58.1 12.63h10.4v2.83h-10.4zM58.1 15.16h5.35v2.83h-5.35zM55.57 17.68h2.83v2.83h-2.83zM63.15 17.68h5.35v2.83h-5.35zM58.1 20.21h10.4v2.83h-10.4zM53.05 22.74h5.35v2.83h-5.35zM50.52 25.26h2.83v2.83h-2.83zM42.94 30.31h5.35v2.83h-5.35zM42.94 32.84h2.83v2.83h-2.83zM42.94 35.37h2.83v2.83h-2.83zM25.26 37.89h7.88v2.83h-7.88zM35.37 37.89h7.88v2.83h-7.88zM15.16 40.42h2.83v2.83h-2.83zM15.16 45.47h2.83v2.83h-2.83zM20.21 48h2.83v2.83h-2.83z"/>
<path fill="#06a1cc" d="M60.63 5.05h5.35v2.83h-5.35zM60.63 7.58h7.88v2.83h-7.88zM55.57 10.1h2.83v2.83h-2.83zM60.63 10.1h2.83v2.83h-2.83zM55.57 12.63h2.83v2.83h-2.83zM55.57 15.16h2.83v2.83h-2.83zM58.1 17.68h2.83v2.83h-2.83zM53.05 20.21h5.35v2.83h-5.35zM50.52 22.74h2.83v2.83h-2.83zM45.47 27.79h2.83v2.83h-2.83zM40.42 32.84h2.83v2.83h-2.83zM40.42 35.37h2.83v2.83h-2.83zM20.21 37.89h5.35v2.83h-5.35zM32.84 37.89h2.83v2.83h-2.83zM37.89 50.52h2.83v2.83h-2.83zM40.42 53.05h2.83v2.83h-2.83z"/>
<path fill="#06a6c7" d="M65.68 0h5.35v2.83h-5.35zM60.63 2.53h2.83v2.83h-2.83zM65.68 2.53h2.83v2.83h-2.83zM58.1 5.05h2.83v2.83h-2.83zM65.68 5.05h2.83v2.83h-2.83zM53.05 7.58h7.88v2.83h-7.88zM53.05 10.1h2.83v2.83h-2.83zM50.52 12.63h5.35v2.83h-5.35zM50.52 15.16h5.35v2.83h-5.35zM50.52 17.68h5.35v2.83h-5.35zM50.52 20.21h2.83v2.83h-2.83zM48 22.74h2.83v2.83h-2.83zM45.47 25.26h5.35v2.83h-5.35zM40.42 27.79h5.35v2.83h-5.35zM40.42 30.31h2.83v2.83h-2.83zM35.37 35.37h5.35v2.83h-5.35zM17.68 37.89h2.83v2.83h-2.83zM12.63 40.42h2.83v2.83h-2.83zM12.63 42.94h2.83v2.83h-2.83zM15.16 48h5.35v2.83h-5.35zM30.31 50.52h7.88v2.83h-7.88z"/>
<path fill="#07a9c2" d="M58.1 0h7.88v2.83h-7.88zM53.05 2.53h7.88v2.83h-7.88zM63.15 2.53h2.83v2.83h-2.83zM50.52 5.05h7.88v2.83h-7.88zM48 7.58h5.35v2.83h-5.35zM48 10.1h5.35v2.83h-5.35zM48 12.63h2.83v2.83h-2.83zM48 15.16h2.83v2.83h-2.83zM48 17.68h2.83v2.83h-2.83zM45.47 20.21h5.35v2.83h-5.35zM45.47 22.74h2.83v2.83h-2.83zM42.94 25.26h2.83v2.83h-2.83zM35.37 32.84h5.35v2.83h-5.35zM30.31 35.37h5.35v2.83h-5.35zM12.63 37.89h5.35v2.83h-5.35zM10.1 42.94h2.83v2.83h-2.83zM12.63 45.47h2.83v2.83h-2.83zM25.26 50.52h5.35v2.83h-5.35zM5.05 75.78h2.83v2.83h-2.83z"/>
<path fill="#0badbc" d="M48 0h10.4v2.83h-10.4zM48 2.53h5.35v2.83h-5.35zM42.94 5.05h7.88v2.83h-7.88zM42.94 10.1h5.35v2.83h-5.35zM42.94 12.63h5.35v2.83h-5.35zM45.47 15.16h2.83v2.83h-2.83zM42.94 17.68h5.35v2.83h-5.35zM42.94 20.21h2.83v2.83h-2.83zM40.42 22.74h5.35v2.83h-5.35zM40.42 25.26h2.83v2.83h-2.83zM37.89 27.79h2.83v2.83h-2.83zM37.89 30.31h2.83v2.83h-2.83zM32.84 32.84h2.83v2.83h-2.83zM22.74 35.37h7.88v2.83h-7.88zM10.1 40.42h2.83v2.83h-2.83zM10.1 45.47h2.83v2.83h-2.83zM12.63 48h2.83v2.83h-2.83zM22.74 50.52h2.83v2.83h-2.83zM37.89 53.05h2.83v2.83h-2.83zM40.42 55.57h2.83v2.83h-2.83zM45.47 58.1h2.83v2.83h-2.83z"/>
<path fill="#13b0b6" d="M42.94 0h5.35v2.83h-5.35zM42.94 2.53h5.35v2.83h-5.35zM40.42 7.58h7.88v2.83h-7.88zM40.42 10.1h2.83v2.83h-2.83zM37.89 12.63h5.35v2.83h-5.35zM40.42 15.16h5.35v2.83h-5.35zM37.89 17.68h5.35v2.83h-5.35zM35.37 20.21h7.88v2.83h-7.88zM37.89 22.74h2.83v2.83h-2.83zM37.89 25.26h2.83v2.83h-2.83zM35.37 30.31h2.83v2.83h-2.83zM27.79 32.84h5.35v2.83h-5.35zM12.63 35.37h10.4v2.83h-10.4zM7.58 37.89h5.35v2.83h-5.35zM7.58 40.42h2.83v2.83h-2.83zM7.58 42.94h2.83v2.83h-2.83zM42.94 58.1h2.83v2.83h-2.83z"/>
<path fill="#1cb3b0" d="M37.89 0h5.35v2.83h-5.35zM40.42 2.53h2.83v2.83h-2.83zM40.42 5.05h2.83v2.83h-2.83zM37.89 7.58h2.83v2.83h-2.83zM37.89 10.1h2.83v2.83h-2.83zM35.37 15.16h5.35v2.83h-5.35zM35.37 17.68h2.83v2.83h-2.83zM30.31 20.21h5.35v2.83h-5.35zM32.84 22.74h5.35v2.83h-5.35zM35.37 25.26h2.83v2.83h-2.83zM17.68 30.31h2.83v2.83h-2.83zM12.63 32.84h2.83v2.83h-2.83zM17.68 32.84h10.4v2.83h-10.4zM5.05 35.37h7.88v2.83h-7.88zM2.53 37.89h5.35v2.83h-5.35zM2.53 40.42h2.83v2.83h-2.83zM10.1 48h2.83v2.83h-2.83zM20.21 50.52h2.83v2.83h-2.83zM32.84 53.05h5.35v2.83h-5.35z"/>
<path fill="#27b5a8" d="M35.37 0h2.83v2.83h-2.83zM37.89 5.05h2.83v2.83h-2.83zM35.37 7.58h2.83v2.83h-2.83zM35.37 10.1h2.83v2.83h-2.83zM32.84 12.63h5.35v2.83h-5.35zM32.84 15.16h2.83v2.83h-2.83zM30.31 17.68h5.35v2.83h-5.35zM27.79 20.21h2.83v2.83h-2.83zM5.05 30.31h7.88v2.83h-7.88zM15.16 30.31h2.83v2.83h-2.83zM32.84 30.31h2.83v2.83h-2.83zM5.05 32.84h7.88v2.83h-7.88zM15.16 32.84h2.83v2.83h-2.83zM0 40.42h2.83v2.83h-2.83zM5.05 40.42h2.83v2.83h-2.83zM0 42.94h2.83v2.83h-2.83zM5.05 42.94h2.83v2.83h-2.83zM0 45.47h10.4v2.83h-10.4zM0 48h2.83v2.83h-2.83zM7.58 48h2.83v2.83h-2.83zM0 50.52h2.83v2.83h-2.83zM5.05 50.52h15.46v2.83h-15.46zM30.31 53.05h2.83v2.83h-2.83z"/>
<path fill="#33b8a1" d="M37.89 2.53h2.83v2.83h-2.83zM32.84 10.1h2.83v2.83h-2.83zM27.79 12.63h5.35v2.83h-5.35zM25.26 15.16h7.88v2.83h-7.88zM27.79 17.68h2.83v2.83h-2.83zM25.26 20.21h2.83v2.83h-2.83zM27.79 22.74h5.35v2.83h-5.35zM7.58 27.79h15.46v2.83h-15.46zM35.37 27.79h2.83v2.83h-2.83zM12.63 30.31h2.83v2.83h-2.83zM20.21 30.31h5.35v2.83h-5.35zM2.53 42.94h2.83v2.83h-2.83zM2.53 48h5.35v2.83h-5.35zM2.53 50.52h2.83v2.83h-2.83z"/>
<path fill="#40ba99" d="M32.84 0h2.83v2.83h-2.83zM35.37 5.05h2.83v2.83h-2.83zM32.84 7.58h2.83v2.83h-2.83zM30.31 10.1h2.83v2.83h-2.83zM25.26 12.63h2.83v2.83h-2.83zM22.74 15.16h2.83v2.83h-2.83zM22.74 17.68h5.35v2.83h-5.35zM20.21 20.21h5.35v2.83h-5.35zM17.68 22.74h10.4v2.83h-10.4zM5.05 25.26h5.35v2.83h-5.35zM12.63 25.26h12.93v2.83h-12.93zM5.05 27.79h2.83v2.83h-2.83zM25.26 30.31h2.83v2.83h-2.83zM30.31 30.31h2.83v2.83h-2.83zM7.58 53.05h2.83v2.83h-2.83zM27.79 53.05h2.83v2.83h-2.83zM37.89 55.57h2.83v2.83h-2.83z"/>
<path fill="#4fbc91" d="M30.31 0h2.83v2.83h-2.83zM30.31 7.58h2.83v2.83h-2.83zM27.79 10.1h2.83v2.83h-2.83zM22.74 12.63h2.83v2.83h-2.83zM20.21 15.16h2.83v2.83h-2.83zM20.21 17.68h2.83v2.83h-2.83zM15.16 20.21h5.35v2.83h-5.35zM7.58 22.74h5.35v2.83h-5.35zM15.16 22.74h2.83v2.83h-2.83zM10.1 25.26h2.83v2.83h-2.83zM32.84 25.26h2.83v2.83h-2.83zM0 27.79h5.35v2.83h-5.35zM22.74 27.79h2.83v2.83h-2.83zM27.79 30.31h2.83v2.83h-2.83z"/>
<path fill="#5ebe89" d="M32.84 5.05h2.83v2.83h-2.83zM25.26 10.1h2.83v2.83h-2.83zM20.21 12.63h2.83v2.83h-2.83zM15.16 15.16h5.35v2.83h-5.35zM7.58 17.68h2.83v2.83h-2.83zM12.63 17.68h2.83v2.83h-2.83zM17.68 17.68h2.83v2.83h-2.83zM10.1 20.21h5.35v2.83h-5.35zM5.05 22.74h2.83v2.83h-2.83zM12.63 22.74h2.83v2.83h-2.83zM10.1 53.05h2.83v2.83h-2.83zM25.26 53.05h2.83v2.83h-2.83zM35.37 55.57h2.83v2.83h-2.83zM40.42 58.1h2.83v2.83h-2.83z"/>
<path fill="#6ebf82" d="M35.37 2.53h2.83v2.83h-2.83zM10.1 15.16h5.35v2.83h-5.35zM5.05 17.68h2.83v2.83h-2.83zM10.1 17.68h2.83v2.83h-2.83zM15.16 17.68h2.83v2.83h-2.83zM5.05 20.21h5.35v2.83h-5.35zM2.53 25.26h2.83v2.83h-2.83zM25.26 25.26h2.83v2.83h-2.83zM32.84 27.79h2.83v2.83h-2.83z"/>
<path fill="#7dbf7b" d="M27.79 0h2.83v2.83h-2.83zM27.79 7.58h2.83v2.83h-2.83zM17.68 12.63h2.83v2.83h-2.83zM5.05 15.16h5.35v2.83h-5.35zM0 25.26h2.83v2.83h-2.83zM12.63 53.05h2.83v2.83h-2.83zM32.84 55.57h2.83v2.83h-2.83z"/>
<path fill="#8bbf75" d="M25.26 0h2.83v2.83h-2.83zM30.31 5.05h2.83v2.83h-2.83zM22.74 10.1h2.83v2.83h-2.83zM5.05 12.63h12.93v2.83h-12.93zM2.53 22.74h2.83v2.83h-2.83zM27.79 25.26h5.35v2.83h-5.35zM25.26 27.79h2.83v2.83h-2.83zM22.74 53.05h2.83v2.83h-2.83zM42.94 60.63h2.83v2.83h-2.83z"/>
<path fill="#98bf70" d="M32.84 2.53h2.83v2.83h-2.83zM20.21 53.05h2.83v2.83h-2.83zM30.31 55.57h2.83v2.83h-2.83z"/>
<path fill="#a5be6b" d="M22.74 0h2.83v2.83h-2.83zM25.26 7.58h2.83v2.83h-2.83zM20.21 10.1h2.83v2.83h-2.83zM2.53 20.21h2.83v2.83h-2.83zM30.31 27.79h2.83v2.83h-2.83zM15.16 53.05h2.83v2.83h-2.83z"/>
<path fill="#b1bd66" d="M17.68 10.1h2.83v2.83h-2.83zM17.68 53.05h2.83v2.83h-2.83zM27.79 55.57h2.83v2.83h-2.83zM37.89 58.1h2.83v2.83h-2.83z"/>
<path fill="#bdbd61" d="M27.79 5.05h2.83v2.83h-2.83zM0 22.74h2.83v2.83h-2.83zM27.79 27.79h2.83v2.83h-2.83z"/>
<path fill="#c8bc5d" d="M22.74 7.58h2.83v2.83h-2.83zM15.16 10.1h2.83v2.83h-2.83zM2.53 17.68h2.83v2.83h-2.83zM22.74 70.73h2.83v2.83h-2.83z"/>
<path fill="#d3bb58" d="M30.31 2.53h2.83v2.83h-2.83zM10.1 10.1h5.35v2.83h-5.35zM25.26 55.57h2.83v2.83h-2.83zM42.94 63.15h2.83v2.83h-2.83zM15.16 70.73h2.83v2.83h-2.83z"/>
<path fill="#ddba54" d="M5.05 10.1h5.35v2.83h-5.35zM2.53 15.16h2.83v2.83h-2.83zM12.63 55.57h2.83v2.83h-2.83zM35.37 58.1h2.83v2.83h-2.83z"/>
<path fill="#e8b94f" d="M25.26 5.05h2.83v2.83h-2.83zM7.58 75.78h2.83v2.83h-2.83z"/>
<path fill="#f2b949" d="M20.21 7.58h2.83v2.83h-2.83zM0 20.21h2.83v2.83h-2.83zM12.63 58.1h2.83v2.83h-2.83zM32.84 58.1h2.83v2.83h-2.83z"/>
<path fill="#fbbc41" d="M2.53 12.63h2.83v2.83h-2.83zM22.74 55.57h2.83v2.83h-2.83zM12.63 60.63h2.83v2.83h-2.83zM40.42 60.63h2.83v2.83h-2.83z"/>
<path fill="#fec238" d="M15.16 55.57h2.83v2.83h-2.83zM30.31 58.1h2.83v2.83h-2.83z"/>
<path fill="#fec932" d="M22.74 5.05h2.83v2.83h-2.83zM17.68 7.58h2.83v2.83h-2.83z"/>
<path fill="#fbd02c" d="M27.79 2.53h2.83v2.83h-2.83zM20.21 55.57h2.83v2.83h-2.83zM27.79 58.1h2.83v2.83h-2.83z"/>
<path fill="#f8d727" d="M0 17.68h2.83v2.83h-2.83zM17.68 55.57h2.83v2.83h-2.83z"/>
<path fill="#f5de21" d="M20.21 5.05h2.83v2.83h-2.83zM15.16 7.58h2.83v2.83h-2.83zM15.16 58.1h2.83v2.83h-2.83zM15.16 60.63h2.83v2.83h-2.83zM15.16 63.15h2.83v2.83h-2.83zM20.21 73.26h2.83v2.83h-2.83z"/>
<path fill="#f5e71b" d="M25.26 2.53h2.83v2.83h-2.83zM12.63 7.58h2.83v2.83h-2.83zM2.53 10.1h2.83v2.83h-2.83zM25.26 58.1h2.83v2.83h-2.83zM27.79 65.68h10.4v2.83h-10.4zM17.68 73.26h2.83v2.83h-2.83z"/>
<path fill="#f6f015" d="M37.89 60.63h2.83v2.83h-2.83zM40.42 63.15h2.83v2.83h-2.83zM17.68 65.68h2.83v2.83h-2.83zM22.74 65.68h5.35v2.83h-5.35z"/>
<path fill="#f9fb0e" d="M22.74 2.53h2.83v2.83h-2.83zM0 5.05h20.51v2.83h-20.51zM0 7.58h12.93v2.83h-12.93zM0 10.1h2.83v2.83h-2.83zM0 12.63h2.83v2.83h-2.83zM0 15.16h2.83v2.83h-2.83zM17.68 58.1h7.88v2.83h-7.88zM17.68 60.63h20.51v2.83h-20.51zM17.68 63.15h23.04v2.83h-23.04zM20.21 65.68h2.83v2.83h-2.83zM17.68 68.21h2.83v2.83h-2.83zM17.68 70.73h5.35v2.83h-5.35z"/>
</g>
<rect x="0.8" y="0.8" width="77.95" height="77.95" fill="none" stroke="#000" stroke-width="1.6"/>
</g>
<g transform="translate(513.25,189.25)">
<clipPath id="mc9"><rect x="0.4" y="0.4" width="78.75" height="78.75"/></clipPath>
<rect x="0" y="0" width="79.55" height="79.55" fill="#000"/>
<path d="M1.88 0v-2.6 M1.88 79.55v2.6 M0 1.88h-2.6 M79.55 1.88h2.6 M27.14 0v-2.6 M27.14 79.55v2.6 M0 27.14h-2.6 M79.55 27.14h2.6 M52.41 0v-2.6 M52.41 79.55v2.6 M0 52.41h-2.6 M79.55 52.41h2.6 M77.67 0v-2.6 M77.67 79.55v2.6 M0 77.67h-2.6 M79.55 77.67h2.6" stroke="#000" stroke-width="1.3" fill="none"/>
<g shape-rendering="crispEdges" clip-path="url(#mc9)" transform="translate(0.62,-0.6)">
<path fill="#0462e0" d="M37.89 42.94h2.83v2.83h-2.83zM37.89 45.47h2.83v2.83h-2.83z"/>
<path fill="#0269e1" d="M40.42 42.94h2.83v2.83h-2.83zM35.37 45.47h2.83v2.83h-2.83z"/>
<path fill="#066fdf" d="M35.37 42.94h2.83v2.83h-2.83zM40.42 45.47h2.83v2.83h-2.83z"/>
<path fill="#1079da" d="M75.78 15.16h2.83v2.83h-2.83zM65.68 32.84h7.88v2.83h-7.88zM65.68 35.37h5.35v2.83h-5.35zM50.52 40.42h2.83v2.83h-2.83z"/>
<path fill="#137ed7" d="M75.78 12.63h2.83v2.83h-2.83zM63.15 35.37h2.83v2.83h-2.83zM53.05 37.89h5.35v2.83h-5.35zM42.94 42.94h2.83v2.83h-2.83zM32.84 45.47h2.83v2.83h-2.83z"/>
<path fill="#1484d4" d="M75.78 17.68h2.83v2.83h-2.83zM63.15 32.84h2.83v2.83h-2.83zM50.52 37.89h2.83v2.83h-2.83zM58.1 37.89h2.83v2.83h-2.83zM48 40.42h2.83v2.83h-2.83zM32.84 42.94h2.83v2.83h-2.83z"/>
<path fill="#1389d3" d="M75.78 10.1h2.83v2.83h-2.83zM48 37.89h2.83v2.83h-2.83zM60.63 37.89h2.83v2.83h-2.83zM42.94 40.42h5.35v2.83h-5.35z"/>
<path fill="#0f90d2" d="M75.78 20.21h2.83v2.83h-2.83zM68.21 30.31h2.83v2.83h-2.83zM60.63 35.37h2.83v2.83h-2.83zM63.15 37.89h2.83v2.83h-2.83zM37.89 40.42h5.35v2.83h-5.35z"/>
<path fill="#0a97d1" d="M75.78 7.58h2.83v2.83h-2.83zM70.73 30.31h2.83v2.83h-2.83zM58.1 35.37h2.83v2.83h-2.83zM65.68 37.89h2.83v2.83h-2.83z"/>
<path fill="#079ccf" d="M75.78 22.74h2.83v2.83h-2.83zM65.68 30.31h2.83v2.83h-2.83zM60.63 32.84h2.83v2.83h-2.83zM53.05 35.37h5.35v2.83h-5.35zM45.47 37.89h2.83v2.83h-2.83zM37.89 48h2.83v2.83h-2.83z"/>
<path fill="#06a1cc" d="M63.15 30.31h2.83v2.83h-2.83zM73.26 30.31h2.83v2.83h-2.83zM35.37 40.42h2.83v2.83h-2.83zM30.31 42.94h2.83v2.83h-2.83zM30.31 45.47h2.83v2.83h-2.83zM35.37 48h2.83v2.83h-2.83zM40.42 48h2.83v2.83h-2.83z"/>
<path fill="#06a6c7" d="M58.1 32.84h2.83v2.83h-2.83zM50.52 35.37h2.83v2.83h-2.83z"/>
<path fill="#07a9c2" d="M75.78 5.05h2.83v2.83h-2.83zM73.26 17.68h2.83v2.83h-2.83zM60.63 30.31h2.83v2.83h-2.83zM42.94 37.89h2.83v2.83h-2.83zM32.84 40.42h2.83v2.83h-2.83zM32.84 48h2.83v2.83h-2.83z"/>
<path fill="#0badbc" d="M73.26 10.1h2.83v2.83h-2.83zM73.26 12.63h2.83v2.83h-2.83zM73.26 15.16h2.83v2.83h-2.83zM48 35.37h2.83v2.83h-2.83zM40.42 37.89h2.83v2.83h-2.83z"/>
<path fill="#13b0b6" d="M75.78 2.53h2.83v2.83h-2.83zM73.26 7.58h2.83v2.83h-2.83zM73.26 20.21h2.83v2.83h-2.83zM65.68 27.79h2.83v2.83h-2.83zM73.26 27.79h2.83v2.83h-2.83zM55.57 32.84h2.83v2.83h-2.83zM45.47 35.37h2.83v2.83h-2.83zM37.89 37.89h2.83v2.83h-2.83z"/>
<path fill="#1cb3b0" d="M73.26 5.05h2.83v2.83h-2.83zM55.57 12.63h2.83v2.83h-2.83zM60.63 12.63h2.83v2.83h-2.83zM73.26 22.74h2.83v2.83h-2.83zM68.21 27.79h5.35v2.83h-5.35zM58.1 30.31h2.83v2.83h-2.83zM42.94 35.37h2.83v2.83h-2.83zM30.31 40.42h2.83v2.83h-2.83z"/>
<path fill="#27b5a8" d="M75.78 0h2.83v2.83h-2.83zM73.26 2.53h2.83v2.83h-2.83zM53.05 5.05h2.83v2.83h-2.83zM58.1 5.05h5.35v2.83h-5.35zM55.57 7.58h2.83v2.83h-2.83zM60.63 7.58h5.35v2.83h-5.35zM68.21 7.58h5.35v2.83h-5.35zM55.57 10.1h15.46v2.83h-15.46zM58.1 12.63h2.83v2.83h-2.83zM63.15 12.63h5.35v2.83h-5.35zM55.57 15.16h2.83v2.83h-2.83zM55.57 17.68h2.83v2.83h-2.83zM73.26 25.26h2.83v2.83h-2.83zM58.1 27.79h2.83v2.83h-2.83zM63.15 27.79h2.83v2.83h-2.83zM50.52 32.84h5.35v2.83h-5.35zM27.79 42.94h2.83v2.83h-2.83zM27.79 45.47h2.83v2.83h-2.83z"/>
<path fill="#33b8a1" d="M50.52 2.53h2.83v2.83h-2.83zM58.1 2.53h7.88v2.83h-7.88zM68.21 2.53h2.83v2.83h-2.83zM55.57 5.05h2.83v2.83h-2.83zM63.15 5.05h10.4v2.83h-10.4zM48 7.58h7.88v2.83h-7.88zM58.1 7.58h2.83v2.83h-2.83zM65.68 7.58h2.83v2.83h-2.83zM50.52 10.1h5.35v2.83h-5.35zM70.73 10.1h2.83v2.83h-2.83zM53.05 12.63h2.83v2.83h-2.83zM68.21 12.63h5.35v2.83h-5.35zM53.05 15.16h2.83v2.83h-2.83zM58.1 15.16h7.88v2.83h-7.88zM68.21 15.16h5.35v2.83h-5.35zM53.05 17.68h2.83v2.83h-2.83zM70.73 17.68h2.83v2.83h-2.83zM55.57 20.21h2.83v2.83h-2.83zM55.57 25.26h5.35v2.83h-5.35zM60.63 27.79h2.83v2.83h-2.83zM55.57 30.31h2.83v2.83h-2.83zM48 32.84h2.83v2.83h-2.83zM40.42 35.37h2.83v2.83h-2.83zM35.37 37.89h2.83v2.83h-2.83zM30.31 48h2.83v2.83h-2.83z"/>
<path fill="#40ba99" d="M50.52 0h2.83v2.83h-2.83zM55.57 0h20.51v2.83h-20.51zM45.47 2.53h5.35v2.83h-5.35zM53.05 2.53h5.35v2.83h-5.35zM65.68 2.53h2.83v2.83h-2.83zM70.73 2.53h2.83v2.83h-2.83zM45.47 5.05h7.88v2.83h-7.88zM42.94 10.1h2.83v2.83h-2.83zM48 10.1h2.83v2.83h-2.83zM50.52 12.63h2.83v2.83h-2.83zM65.68 15.16h2.83v2.83h-2.83zM58.1 17.68h2.83v2.83h-2.83zM53.05 20.21h2.83v2.83h-2.83zM58.1 20.21h2.83v2.83h-2.83zM70.73 20.21h2.83v2.83h-2.83zM53.05 22.74h7.88v2.83h-7.88zM60.63 25.26h12.93v2.83h-12.93zM53.05 27.79h5.35v2.83h-5.35zM45.47 30.31h2.83v2.83h-2.83zM50.52 30.31h5.35v2.83h-5.35zM42.94 32.84h5.35v2.83h-5.35zM37.89 35.37h2.83v2.83h-2.83zM32.84 37.89h2.83v2.83h-2.83zM25.26 45.47h2.83v2.83h-2.83z"/>
<path fill="#4fbc91" d="M48 0h2.83v2.83h-2.83zM53.05 0h2.83v2.83h-2.83zM42.94 7.58h5.35v2.83h-5.35zM40.42 10.1h2.83v2.83h-2.83zM45.47 10.1h2.83v2.83h-2.83zM37.89 12.63h2.83v2.83h-2.83zM50.52 17.68h2.83v2.83h-2.83zM60.63 17.68h2.83v2.83h-2.83zM68.21 17.68h2.83v2.83h-2.83zM50.52 20.21h2.83v2.83h-2.83zM50.52 22.74h2.83v2.83h-2.83zM70.73 22.74h2.83v2.83h-2.83zM48 25.26h7.88v2.83h-7.88zM45.47 27.79h7.88v2.83h-7.88zM40.42 30.31h5.35v2.83h-5.35zM48 30.31h2.83v2.83h-2.83zM40.42 32.84h2.83v2.83h-2.83zM35.37 35.37h2.83v2.83h-2.83zM27.79 40.42h2.83v2.83h-2.83zM25.26 42.94h2.83v2.83h-2.83zM7.58 75.78h2.83v2.83h-2.83z"/>
<path fill="#5ebe89" d="M45.47 0h2.83v2.83h-2.83zM42.94 5.05h2.83v2.83h-2.83zM37.89 10.1h2.83v2.83h-2.83zM32.84 12.63h5.35v2.83h-5.35zM40.42 12.63h5.35v2.83h-5.35zM48 12.63h2.83v2.83h-2.83zM30.31 15.16h7.88v2.83h-7.88zM50.52 15.16h2.83v2.83h-2.83zM65.68 17.68h2.83v2.83h-2.83zM60.63 20.21h2.83v2.83h-2.83zM60.63 22.74h2.83v2.83h-2.83zM68.21 22.74h2.83v2.83h-2.83zM40.42 27.79h5.35v2.83h-5.35zM37.89 32.84h2.83v2.83h-2.83zM32.84 35.37h2.83v2.83h-2.83zM30.31 37.89h2.83v2.83h-2.83zM27.79 48h2.83v2.83h-2.83z"/>
<path fill="#6ebf82" d="M42.94 0h2.83v2.83h-2.83zM42.94 2.53h2.83v2.83h-2.83zM40.42 7.58h2.83v2.83h-2.83zM30.31 12.63h2.83v2.83h-2.83zM45.47 12.63h2.83v2.83h-2.83zM25.26 15.16h5.35v2.83h-5.35zM37.89 15.16h5.35v2.83h-5.35zM27.79 17.68h7.88v2.83h-7.88zM48 17.68h2.83v2.83h-2.83zM63.15 17.68h2.83v2.83h-2.83zM48 20.21h2.83v2.83h-2.83zM68.21 20.21h2.83v2.83h-2.83zM48 22.74h2.83v2.83h-2.83zM63.15 22.74h5.35v2.83h-5.35zM45.47 25.26h2.83v2.83h-2.83zM37.89 30.31h2.83v2.83h-2.83zM35.37 32.84h2.83v2.83h-2.83zM30.31 35.37h2.83v2.83h-2.83zM27.79 37.89h2.83v2.83h-2.83zM25.26 40.42h2.83v2.83h-2.83zM22.74 42.94h2.83v2.83h-2.83zM22.74 45.47h2.83v2.83h-2.83zM40.42 50.52h5.35v2.83h-5.35z"/>
<path fill="#7dbf7b" d="M40.42 5.05h2.83v2.83h-2.83zM35.37 10.1h2.83v2.83h-2.83zM27.79 12.63h2.83v2.83h-2.83zM48 15.16h2.83v2.83h-2.83zM22.74 17.68h5.35v2.83h-5.35zM35.37 17.68h2.83v2.83h-2.83zM22.74 20.21h5.35v2.83h-5.35zM45.47 20.21h2.83v2.83h-2.83zM42.94 25.26h2.83v2.83h-2.83zM22.74 40.42h2.83v2.83h-2.83zM20.21 42.94h2.83v2.83h-2.83zM37.89 50.52h2.83v2.83h-2.83z"/>
<path fill="#8bbf75" d="M37.89 7.58h2.83v2.83h-2.83zM32.84 10.1h2.83v2.83h-2.83zM22.74 15.16h2.83v2.83h-2.83zM42.94 15.16h5.35v2.83h-5.35zM20.21 17.68h2.83v2.83h-2.83zM37.89 17.68h2.83v2.83h-2.83zM45.47 17.68h2.83v2.83h-2.83zM27.79 20.21h2.83v2.83h-2.83zM63.15 20.21h5.35v2.83h-5.35zM45.47 22.74h2.83v2.83h-2.83zM40.42 25.26h2.83v2.83h-2.83zM37.89 27.79h2.83v2.83h-2.83zM32.84 32.84h2.83v2.83h-2.83zM27.79 35.37h2.83v2.83h-2.83zM25.26 37.89h2.83v2.83h-2.83zM17.68 42.94h2.83v2.83h-2.83zM17.68 45.47h5.35v2.83h-5.35zM25.26 48h2.83v2.83h-2.83zM35.37 50.52h2.83v2.83h-2.83z"/>
<path fill="#98bf70" d="M25.26 12.63h2.83v2.83h-2.83zM20.21 15.16h2.83v2.83h-2.83zM17.68 17.68h2.83v2.83h-2.83zM40.42 17.68h5.35v2.83h-5.35zM17.68 20.21h5.35v2.83h-5.35zM30.31 20.21h2.83v2.83h-2.83zM20.21 22.74h2.83v2.83h-2.83zM37.89 25.26h2.83v2.83h-2.83zM35.37 30.31h2.83v2.83h-2.83zM30.31 32.84h2.83v2.83h-2.83zM25.26 35.37h2.83v2.83h-2.83zM22.74 37.89h2.83v2.83h-2.83zM17.68 40.42h5.35v2.83h-5.35zM15.16 42.94h2.83v2.83h-2.83zM15.16 45.47h2.83v2.83h-2.83z"/>
<path fill="#a5be6b" d="M40.42 2.53h2.83v2.83h-2.83zM30.31 10.1h2.83v2.83h-2.83zM17.68 15.16h2.83v2.83h-2.83zM15.16 20.21h2.83v2.83h-2.83zM32.84 20.21h5.35v2.83h-5.35zM42.94 20.21h2.83v2.83h-2.83zM17.68 22.74h2.83v2.83h-2.83zM22.74 22.74h5.35v2.83h-5.35zM42.94 22.74h2.83v2.83h-2.83zM20.21 25.26h2.83v2.83h-2.83zM35.37 27.79h2.83v2.83h-2.83zM12.63 40.42h5.35v2.83h-5.35zM12.63 42.94h2.83v2.83h-2.83zM10.1 45.47h5.35v2.83h-5.35zM22.74 48h2.83v2.83h-2.83zM32.84 50.52h2.83v2.83h-2.83z"/>
<path fill="#b1bd66" d="M40.42 0h2.83v2.83h-2.83zM35.37 7.58h2.83v2.83h-2.83zM22.74 12.63h2.83v2.83h-2.83zM15.16 17.68h2.83v2.83h-2.83zM12.63 20.21h2.83v2.83h-2.83zM15.16 22.74h2.83v2.83h-2.83zM27.79 22.74h2.83v2.83h-2.83zM40.42 22.74h2.83v2.83h-2.83zM15.16 25.26h5.35v2.83h-5.35zM35.37 25.26h2.83v2.83h-2.83zM17.68 27.79h2.83v2.83h-2.83zM22.74 35.37h2.83v2.83h-2.83zM17.68 37.89h5.35v2.83h-5.35zM10.1 40.42h2.83v2.83h-2.83zM10.1 42.94h2.83v2.83h-2.83zM0 50.52h2.83v2.83h-2.83zM45.47 63.15h2.83v2.83h-2.83z"/>
<path fill="#bdbd61" d="M27.79 10.1h2.83v2.83h-2.83zM15.16 15.16h2.83v2.83h-2.83zM10.1 17.68h5.35v2.83h-5.35zM10.1 20.21h2.83v2.83h-2.83zM37.89 20.21h5.35v2.83h-5.35zM10.1 22.74h5.35v2.83h-5.35zM30.31 22.74h10.4v2.83h-10.4zM12.63 25.26h2.83v2.83h-2.83zM22.74 25.26h2.83v2.83h-2.83zM15.16 27.79h2.83v2.83h-2.83zM20.21 27.79h2.83v2.83h-2.83zM32.84 30.31h2.83v2.83h-2.83zM25.26 32.84h5.35v2.83h-5.35zM20.21 35.37h2.83v2.83h-2.83zM10.1 37.89h7.88v2.83h-7.88zM7.58 45.47h2.83v2.83h-2.83zM0 48h2.83v2.83h-2.83zM7.58 48h5.35v2.83h-5.35zM20.21 48h2.83v2.83h-2.83zM30.31 50.52h2.83v2.83h-2.83z"/>
<path fill="#c8bc5d" d="M37.89 5.05h2.83v2.83h-2.83zM20.21 12.63h2.83v2.83h-2.83zM7.58 20.21h2.83v2.83h-2.83zM10.1 25.26h2.83v2.83h-2.83zM12.63 27.79h2.83v2.83h-2.83zM22.74 27.79h2.83v2.83h-2.83zM20.21 30.31h5.35v2.83h-5.35zM22.74 32.84h2.83v2.83h-2.83zM0 42.94h2.83v2.83h-2.83zM7.58 42.94h2.83v2.83h-2.83zM0 45.47h5.35v2.83h-5.35zM2.53 48h5.35v2.83h-5.35zM12.63 48h7.88v2.83h-7.88zM2.53 50.52h2.83v2.83h-2.83zM27.79 50.52h2.83v2.83h-2.83zM48 60.63h2.83v2.83h-2.83zM42.94 63.15h2.83v2.83h-2.83z"/>
<path fill="#d3bb58" d="M25.26 10.1h2.83v2.83h-2.83zM12.63 15.16h2.83v2.83h-2.83zM25.26 25.26h2.83v2.83h-2.83zM10.1 27.79h2.83v2.83h-2.83zM10.1 30.31h10.4v2.83h-10.4zM25.26 30.31h2.83v2.83h-2.83zM10.1 32.84h5.35v2.83h-5.35zM20.21 32.84h2.83v2.83h-2.83zM10.1 35.37h10.4v2.83h-10.4zM0 40.42h2.83v2.83h-2.83zM7.58 40.42h2.83v2.83h-2.83zM5.05 42.94h2.83v2.83h-2.83zM5.05 45.47h2.83v2.83h-2.83zM5.05 50.52h2.83v2.83h-2.83z"/>
<path fill="#ddba54" d="M32.84 7.58h2.83v2.83h-2.83zM17.68 12.63h2.83v2.83h-2.83zM7.58 17.68h2.83v2.83h-2.83zM0 22.74h2.83v2.83h-2.83zM7.58 22.74h2.83v2.83h-2.83zM7.58 25.26h2.83v2.83h-2.83zM32.84 25.26h2.83v2.83h-2.83zM32.84 27.79h2.83v2.83h-2.83zM27.79 30.31h2.83v2.83h-2.83zM15.16 32.84h5.35v2.83h-5.35zM7.58 35.37h2.83v2.83h-2.83zM7.58 37.89h2.83v2.83h-2.83zM5.05 40.42h2.83v2.83h-2.83zM2.53 42.94h2.83v2.83h-2.83zM7.58 50.52h2.83v2.83h-2.83zM25.26 50.52h2.83v2.83h-2.83zM42.94 53.05h2.83v2.83h-2.83zM40.42 63.15h2.83v2.83h-2.83z"/>
<path fill="#e8b94f" d="M10.1 15.16h2.83v2.83h-2.83zM0 20.21h2.83v2.83h-2.83zM5.05 20.21h2.83v2.83h-2.83zM0 27.79h2.83v2.83h-2.83zM7.58 27.79h2.83v2.83h-2.83zM7.58 30.31h2.83v2.83h-2.83zM30.31 30.31h2.83v2.83h-2.83zM7.58 32.84h2.83v2.83h-2.83zM45.47 60.63h2.83v2.83h-2.83zM37.89 63.15h2.83v2.83h-2.83z"/>
<path fill="#f2b949" d="M37.89 2.53h2.83v2.83h-2.83zM30.31 7.58h2.83v2.83h-2.83zM22.74 10.1h2.83v2.83h-2.83zM5.05 17.68h2.83v2.83h-2.83zM2.53 20.21h2.83v2.83h-2.83zM2.53 22.74h5.35v2.83h-5.35zM0 25.26h2.83v2.83h-2.83zM5.05 25.26h2.83v2.83h-2.83zM27.79 25.26h5.35v2.83h-5.35zM25.26 27.79h2.83v2.83h-2.83zM5.05 37.89h2.83v2.83h-2.83zM2.53 40.42h2.83v2.83h-2.83zM10.1 50.52h2.83v2.83h-2.83zM40.42 53.05h2.83v2.83h-2.83zM45.47 55.57h2.83v2.83h-2.83zM35.37 63.15h2.83v2.83h-2.83z"/>
<path fill="#fbbc41" d="M37.89 0h2.83v2.83h-2.83zM35.37 5.05h2.83v2.83h-2.83zM15.16 12.63h2.83v2.83h-2.83zM2.53 17.68h2.83v2.83h-2.83zM2.53 25.26h2.83v2.83h-2.83zM5.05 27.79h2.83v2.83h-2.83zM5.05 30.31h2.83v2.83h-2.83zM5.05 35.37h2.83v2.83h-2.83zM2.53 37.89h2.83v2.83h-2.83zM22.74 50.52h2.83v2.83h-2.83zM37.89 53.05h2.83v2.83h-2.83zM45.47 58.1h2.83v2.83h-2.83zM42.94 60.63h2.83v2.83h-2.83zM32.84 63.15h2.83v2.83h-2.83z"/>
<path fill="#fec238" d="M27.79 7.58h2.83v2.83h-2.83zM7.58 15.16h2.83v2.83h-2.83zM0 17.68h2.83v2.83h-2.83zM2.53 27.79h2.83v2.83h-2.83zM27.79 27.79h5.35v2.83h-5.35zM5.05 32.84h2.83v2.83h-2.83zM35.37 53.05h2.83v2.83h-2.83zM30.31 63.15h2.83v2.83h-2.83z"/>
<path fill="#fec932" d="M20.21 10.1h2.83v2.83h-2.83zM12.63 50.52h2.83v2.83h-2.83zM20.21 50.52h2.83v2.83h-2.83zM42.94 55.57h2.83v2.83h-2.83z"/>
<path fill="#fbd02c" d="M32.84 5.05h2.83v2.83h-2.83zM25.26 7.58h2.83v2.83h-2.83zM12.63 12.63h2.83v2.83h-2.83zM15.16 50.52h2.83v2.83h-2.83zM32.84 53.05h2.83v2.83h-2.83zM40.42 60.63h2.83v2.83h-2.83zM15.16 68.21h2.83v2.83h-2.83z"/>
<path fill="#f8d727" d="M35.37 2.53h2.83v2.83h-2.83zM17.68 10.1h2.83v2.83h-2.83zM5.05 15.16h2.83v2.83h-2.83zM17.68 50.52h2.83v2.83h-2.83zM40.42 55.57h2.83v2.83h-2.83zM42.94 58.1h2.83v2.83h-2.83zM25.26 70.73h2.83v2.83h-2.83z"/>
<path fill="#f5de21" d="M35.37 0h2.83v2.83h-2.83zM30.31 5.05h2.83v2.83h-2.83zM22.74 7.58h2.83v2.83h-2.83zM10.1 12.63h2.83v2.83h-2.83zM30.31 53.05h2.83v2.83h-2.83zM37.89 60.63h2.83v2.83h-2.83z"/>
<path fill="#f5e71b" d="M32.84 2.53h2.83v2.83h-2.83zM10.1 53.05h2.83v2.83h-2.83zM27.79 53.05h2.83v2.83h-2.83zM40.42 58.1h2.83v2.83h-2.83zM15.16 65.68h2.83v2.83h-2.83zM15.16 70.73h2.83v2.83h-2.83z"/>
<path fill="#f6f015" d="M32.84 0h2.83v2.83h-2.83zM27.79 2.53h5.35v2.83h-5.35zM25.26 5.05h5.35v2.83h-5.35zM20.21 7.58h2.83v2.83h-2.83zM15.16 10.1h2.83v2.83h-2.83zM0 15.16h5.35v2.83h-5.35zM25.26 53.05h2.83v2.83h-2.83zM37.89 55.57h2.83v2.83h-2.83zM35.37 60.63h2.83v2.83h-2.83z"/>
<path fill="#f9fb0e" d="M27.79 0h5.35v2.83h-5.35zM0 5.05h15.46v2.83h-15.46zM20.21 5.05h5.35v2.83h-5.35zM0 7.58h20.51v2.83h-20.51zM0 10.1h15.46v2.83h-15.46zM0 12.63h10.4v2.83h-10.4zM12.63 53.05h12.93v2.83h-12.93zM10.1 55.57h28.09v2.83h-28.09zM12.63 58.1h28.09v2.83h-28.09zM15.16 60.63h12.93v2.83h-12.93zM32.84 60.63h2.83v2.83h-2.83zM15.16 63.15h5.35v2.83h-5.35zM17.68 65.68h2.83v2.83h-2.83zM17.68 68.21h2.83v2.83h-2.83zM17.68 70.73h7.88v2.83h-7.88z"/>
</g>
<rect x="0.8" y="0.8" width="77.95" height="77.95" fill="none" stroke="#000" stroke-width="1.6"/>
</g>
<g transform="translate(601.6,189.25)">
<clipPath id="mc10"><rect x="0.4" y="0.4" width="78.75" height="78.75"/></clipPath>
<rect x="0" y="0" width="79.55" height="79.55" fill="#000"/>
<path d="M1.88 0v-2.6 M1.88 79.55v2.6 M0 1.88h-2.6 M79.55 1.88h2.6 M27.14 0v-2.6 M27.14 79.55v2.6 M0 27.14h-2.6 M79.55 27.14h2.6 M52.41 0v-2.6 M52.41 79.55v2.6 M0 52.41h-2.6 M79.55 52.41h2.6 M77.67 0v-2.6 M77.67 79.55v2.6 M0 77.67h-2.6 M79.55 77.67h2.6" stroke="#000" stroke-width="1.3" fill="none"/>
<g shape-rendering="crispEdges" clip-path="url(#mc10)" transform="translate(0.62,-0.6)">
<path fill="#363297" d="M35.37 42.94h2.83v2.83h-2.83z"/>
<path fill="#353aa8" d="M37.89 42.94h2.83v2.83h-2.83z"/>
<path fill="#1658d9" d="M37.89 40.42h2.83v2.83h-2.83zM32.84 42.94h2.83v2.83h-2.83zM40.42 42.94h2.83v2.83h-2.83z"/>
<path fill="#0462e0" d="M40.42 40.42h2.83v2.83h-2.83zM35.37 45.47h5.35v2.83h-5.35z"/>
<path fill="#0269e1" d="M65.68 32.84h2.83v2.83h-2.83zM63.15 35.37h2.83v2.83h-2.83zM35.37 40.42h2.83v2.83h-2.83z"/>
<path fill="#066fdf" d="M63.15 32.84h2.83v2.83h-2.83zM68.21 32.84h2.83v2.83h-2.83zM58.1 35.37h5.35v2.83h-5.35zM50.52 37.89h2.83v2.83h-2.83z"/>
<path fill="#0c74dd" d="M55.57 35.37h2.83v2.83h-2.83zM42.94 40.42h2.83v2.83h-2.83zM32.84 45.47h2.83v2.83h-2.83z"/>
<path fill="#1079da" d="M60.63 32.84h2.83v2.83h-2.83zM53.05 35.37h2.83v2.83h-2.83zM48 37.89h2.83v2.83h-2.83zM32.84 40.42h2.83v2.83h-2.83z"/>
<path fill="#137ed7" d="M70.73 32.84h2.83v2.83h-2.83zM45.47 37.89h2.83v2.83h-2.83zM45.47 40.42h2.83v2.83h-2.83z"/>
<path fill="#1484d4" d="M65.68 30.31h5.35v2.83h-5.35zM58.1 32.84h2.83v2.83h-2.83zM50.52 35.37h2.83v2.83h-2.83zM42.94 37.89h2.83v2.83h-2.83zM30.31 42.94h2.83v2.83h-2.83z"/>
<path fill="#1389d3" d="M63.15 30.31h2.83v2.83h-2.83zM40.42 37.89h2.83v2.83h-2.83z"/>
<path fill="#0f90d2" d="M75.78 7.58h2.83v2.83h-2.83zM60.63 30.31h2.83v2.83h-2.83zM70.73 30.31h2.83v2.83h-2.83zM55.57 32.84h2.83v2.83h-2.83zM48 35.37h2.83v2.83h-2.83zM37.89 37.89h2.83v2.83h-2.83zM30.31 45.47h2.83v2.83h-2.83z"/>
<path fill="#0a97d1" d="M73.26 12.63h2.83v2.83h-2.83zM45.47 35.37h2.83v2.83h-2.83zM30.31 40.42h2.83v2.83h-2.83zM35.37 48h2.83v2.83h-2.83z"/>
<path fill="#079ccf" d="M75.78 5.05h2.83v2.83h-2.83zM73.26 10.1h2.83v2.83h-2.83zM53.05 32.84h2.83v2.83h-2.83zM35.37 37.89h2.83v2.83h-2.83zM37.89 48h2.83v2.83h-2.83z"/>
<path fill="#06a1cc" d="M73.26 7.58h2.83v2.83h-2.83zM73.26 15.16h2.83v2.83h-2.83zM58.1 30.31h2.83v2.83h-2.83zM42.94 35.37h2.83v2.83h-2.83zM27.79 42.94h2.83v2.83h-2.83zM32.84 48h2.83v2.83h-2.83z"/>
<path fill="#06a6c7" d="M75.78 2.53h2.83v2.83h-2.83zM73.26 17.68h2.83v2.83h-2.83zM63.15 27.79h5.35v2.83h-5.35zM50.52 32.84h2.83v2.83h-2.83zM32.84 37.89h2.83v2.83h-2.83zM40.42 48h2.83v2.83h-2.83z"/>
<path fill="#07a9c2" d="M73.26 5.05h2.83v2.83h-2.83zM68.21 27.79h5.35v2.83h-5.35zM48 32.84h2.83v2.83h-2.83zM40.42 35.37h2.83v2.83h-2.83zM27.79 45.47h2.83v2.83h-2.83z"/>
<path fill="#0badbc" d="M75.78 0h2.83v2.83h-2.83zM73.26 20.21h2.83v2.83h-2.83zM73.26 22.74h2.83v2.83h-2.83zM55.57 30.31h2.83v2.83h-2.83zM45.47 32.84h2.83v2.83h-2.83zM37.89 35.37h2.83v2.83h-2.83zM27.79 40.42h2.83v2.83h-2.83zM30.31 48h2.83v2.83h-2.83z"/>
<path fill="#13b0b6" d="M73.26 2.53h2.83v2.83h-2.83zM55.57 7.58h5.35v2.83h-5.35zM55.57 10.1h7.88v2.83h-7.88zM55.57 12.63h2.83v2.83h-2.83zM60.63 27.79h2.83v2.83h-2.83zM30.31 37.89h2.83v2.83h-2.83z"/>
<path fill="#1cb3b0" d="M73.26 0h2.83v2.83h-2.83zM55.57 5.05h2.83v2.83h-2.83zM53.05 7.58h2.83v2.83h-2.83zM60.63 7.58h5.35v2.83h-5.35zM50.52 10.1h5.35v2.83h-5.35zM63.15 10.1h2.83v2.83h-2.83zM50.52 12.63h5.35v2.83h-5.35zM58.1 12.63h7.88v2.83h-7.88zM53.05 15.16h5.35v2.83h-5.35zM58.1 27.79h2.83v2.83h-2.83zM53.05 30.31h2.83v2.83h-2.83zM42.94 32.84h2.83v2.83h-2.83zM35.37 35.37h2.83v2.83h-2.83zM25.26 42.94h2.83v2.83h-2.83zM7.58 75.78h2.83v2.83h-2.83z"/>
<path fill="#27b5a8" d="M53.05 5.05h2.83v2.83h-2.83zM58.1 5.05h7.88v2.83h-7.88zM50.52 7.58h2.83v2.83h-2.83zM65.68 7.58h7.88v2.83h-7.88zM48 10.1h2.83v2.83h-2.83zM65.68 10.1h7.88v2.83h-7.88zM48 12.63h2.83v2.83h-2.83zM65.68 12.63h2.83v2.83h-2.83zM58.1 15.16h7.88v2.83h-7.88zM68.21 25.26h5.35v2.83h-5.35zM55.57 27.79h2.83v2.83h-2.83zM50.52 30.31h2.83v2.83h-2.83zM40.42 32.84h2.83v2.83h-2.83zM25.26 45.47h2.83v2.83h-2.83z"/>
<path fill="#33b8a1" d="M58.1 0h2.83v2.83h-2.83zM53.05 2.53h2.83v2.83h-2.83zM58.1 2.53h10.4v2.83h-10.4zM70.73 2.53h2.83v2.83h-2.83zM50.52 5.05h2.83v2.83h-2.83zM65.68 5.05h7.88v2.83h-7.88zM45.47 10.1h2.83v2.83h-2.83zM42.94 12.63h5.35v2.83h-5.35zM68.21 12.63h5.35v2.83h-5.35zM48 15.16h5.35v2.83h-5.35zM65.68 15.16h7.88v2.83h-7.88zM53.05 17.68h7.88v2.83h-7.88zM70.73 22.74h2.83v2.83h-2.83zM65.68 25.26h2.83v2.83h-2.83zM45.47 30.31h5.35v2.83h-5.35zM27.79 37.89h2.83v2.83h-2.83zM25.26 40.42h2.83v2.83h-2.83zM27.79 48h2.83v2.83h-2.83zM35.37 50.52h10.4v2.83h-10.4z"/>
<path fill="#40ba99" d="M55.57 0h2.83v2.83h-2.83zM60.63 0h7.88v2.83h-7.88zM50.52 2.53h2.83v2.83h-2.83zM55.57 2.53h2.83v2.83h-2.83zM68.21 2.53h2.83v2.83h-2.83zM45.47 7.58h5.35v2.83h-5.35zM42.94 10.1h2.83v2.83h-2.83zM40.42 12.63h2.83v2.83h-2.83zM45.47 15.16h2.83v2.83h-2.83zM50.52 17.68h2.83v2.83h-2.83zM68.21 17.68h5.35v2.83h-5.35zM53.05 20.21h2.83v2.83h-2.83zM55.57 22.74h2.83v2.83h-2.83zM55.57 25.26h10.4v2.83h-10.4zM48 27.79h7.88v2.83h-7.88zM42.94 30.31h2.83v2.83h-2.83zM37.89 32.84h2.83v2.83h-2.83zM32.84 35.37h2.83v2.83h-2.83zM22.74 42.94h2.83v2.83h-2.83zM32.84 50.52h2.83v2.83h-2.83z"/>
<path fill="#4fbc91" d="M48 0h7.88v2.83h-7.88zM68.21 0h5.35v2.83h-5.35zM48 2.53h2.83v2.83h-2.83zM48 5.05h2.83v2.83h-2.83zM40.42 10.1h2.83v2.83h-2.83zM35.37 12.63h5.35v2.83h-5.35zM17.68 15.16h12.93v2.83h-12.93zM32.84 15.16h2.83v2.83h-2.83zM37.89 15.16h7.88v2.83h-7.88zM25.26 17.68h2.83v2.83h-2.83zM48 17.68h2.83v2.83h-2.83zM65.68 17.68h2.83v2.83h-2.83zM55.57 20.21h2.83v2.83h-2.83zM68.21 20.21h5.35v2.83h-5.35zM68.21 22.74h2.83v2.83h-2.83zM50.52 25.26h5.35v2.83h-5.35zM45.47 27.79h2.83v2.83h-2.83zM40.42 30.31h2.83v2.83h-2.83zM30.31 35.37h2.83v2.83h-2.83zM22.74 40.42h2.83v2.83h-2.83z"/>
<path fill="#5ebe89" d="M45.47 0h2.83v2.83h-2.83zM45.47 5.05h2.83v2.83h-2.83zM42.94 7.58h2.83v2.83h-2.83zM17.68 12.63h17.98v2.83h-17.98zM12.63 15.16h5.35v2.83h-5.35zM30.31 15.16h2.83v2.83h-2.83zM35.37 15.16h2.83v2.83h-2.83zM15.16 17.68h10.4v2.83h-10.4zM27.79 17.68h5.35v2.83h-5.35zM60.63 17.68h2.83v2.83h-2.83zM50.52 20.21h2.83v2.83h-2.83zM58.1 20.21h2.83v2.83h-2.83zM53.05 22.74h2.83v2.83h-2.83zM58.1 22.74h2.83v2.83h-2.83zM42.94 27.79h2.83v2.83h-2.83zM35.37 32.84h2.83v2.83h-2.83zM27.79 35.37h2.83v2.83h-2.83zM25.26 37.89h2.83v2.83h-2.83zM22.74 45.47h2.83v2.83h-2.83zM25.26 48h2.83v2.83h-2.83zM42.94 53.05h5.35v2.83h-5.35zM45.47 55.57h2.83v2.83h-2.83z"/>
<path fill="#6ebf82" d="M42.94 0h2.83v2.83h-2.83zM45.47 2.53h2.83v2.83h-2.83zM35.37 10.1h5.35v2.83h-5.35zM15.16 12.63h2.83v2.83h-2.83zM12.63 17.68h2.83v2.83h-2.83zM32.84 17.68h5.35v2.83h-5.35zM63.15 17.68h2.83v2.83h-2.83zM17.68 20.21h7.88v2.83h-7.88zM50.52 22.74h2.83v2.83h-2.83zM65.68 22.74h2.83v2.83h-2.83zM48 25.26h2.83v2.83h-2.83zM40.42 27.79h2.83v2.83h-2.83zM37.89 30.31h2.83v2.83h-2.83zM25.26 35.37h2.83v2.83h-2.83zM22.74 37.89h2.83v2.83h-2.83zM20.21 40.42h2.83v2.83h-2.83zM0 42.94h2.83v2.83h-2.83zM17.68 42.94h5.35v2.83h-5.35zM17.68 45.47h5.35v2.83h-5.35zM0 48h2.83v2.83h-2.83zM0 50.52h5.35v2.83h-5.35zM30.31 50.52h2.83v2.83h-2.83zM37.89 53.05h5.35v2.83h-5.35z"/>
<path fill="#7dbf7b" d="M40.42 0h2.83v2.83h-2.83zM40.42 7.58h2.83v2.83h-2.83zM12.63 12.63h2.83v2.83h-2.83zM10.1 15.16h2.83v2.83h-2.83zM37.89 17.68h2.83v2.83h-2.83zM42.94 17.68h5.35v2.83h-5.35zM10.1 20.21h7.88v2.83h-7.88zM25.26 20.21h2.83v2.83h-2.83zM60.63 20.21h2.83v2.83h-2.83zM65.68 20.21h2.83v2.83h-2.83zM10.1 22.74h2.83v2.83h-2.83zM20.21 22.74h2.83v2.83h-2.83zM60.63 22.74h5.35v2.83h-5.35zM20.21 35.37h5.35v2.83h-5.35zM17.68 37.89h5.35v2.83h-5.35zM0 40.42h2.83v2.83h-2.83zM17.68 40.42h2.83v2.83h-2.83zM2.53 42.94h2.83v2.83h-2.83zM0 45.47h7.88v2.83h-7.88zM12.63 45.47h5.35v2.83h-5.35zM2.53 48h2.83v2.83h-2.83zM7.58 48h5.35v2.83h-5.35zM15.16 48h10.4v2.83h-10.4zM5.05 50.52h2.83v2.83h-2.83zM42.94 55.57h2.83v2.83h-2.83zM48 60.63h2.83v2.83h-2.83z"/>
<path fill="#8bbf75" d="M37.89 0h2.83v2.83h-2.83zM42.94 2.53h2.83v2.83h-2.83zM42.94 5.05h2.83v2.83h-2.83zM30.31 10.1h5.35v2.83h-5.35zM10.1 12.63h2.83v2.83h-2.83zM10.1 17.68h2.83v2.83h-2.83zM40.42 17.68h2.83v2.83h-2.83zM27.79 20.21h10.4v2.83h-10.4zM48 20.21h2.83v2.83h-2.83zM7.58 22.74h2.83v2.83h-2.83zM12.63 22.74h7.88v2.83h-7.88zM22.74 22.74h2.83v2.83h-2.83zM48 22.74h2.83v2.83h-2.83zM0 25.26h2.83v2.83h-2.83zM10.1 25.26h12.93v2.83h-12.93zM40.42 25.26h7.88v2.83h-7.88zM12.63 27.79h7.88v2.83h-7.88zM37.89 27.79h2.83v2.83h-2.83zM15.16 30.31h5.35v2.83h-5.35zM15.16 32.84h10.4v2.83h-10.4zM32.84 32.84h2.83v2.83h-2.83zM15.16 35.37h5.35v2.83h-5.35zM5.05 37.89h2.83v2.83h-2.83zM15.16 37.89h2.83v2.83h-2.83zM2.53 40.42h2.83v2.83h-2.83zM15.16 40.42h2.83v2.83h-2.83zM5.05 42.94h12.93v2.83h-12.93zM7.58 45.47h5.35v2.83h-5.35zM5.05 48h2.83v2.83h-2.83zM12.63 48h2.83v2.83h-2.83zM27.79 50.52h2.83v2.83h-2.83zM35.37 53.05h2.83v2.83h-2.83zM45.47 58.1h2.83v2.83h-2.83z"/>
<path fill="#98bf70" d="M40.42 2.53h2.83v2.83h-2.83zM37.89 7.58h2.83v2.83h-2.83zM25.26 10.1h5.35v2.83h-5.35zM7.58 17.68h2.83v2.83h-2.83zM7.58 20.21h2.83v2.83h-2.83zM63.15 20.21h2.83v2.83h-2.83zM2.53 25.26h7.88v2.83h-7.88zM5.05 27.79h7.88v2.83h-7.88zM20.21 27.79h2.83v2.83h-2.83zM5.05 30.31h10.4v2.83h-10.4zM20.21 30.31h2.83v2.83h-2.83zM35.37 30.31h2.83v2.83h-2.83zM5.05 32.84h2.83v2.83h-2.83zM10.1 32.84h5.35v2.83h-5.35zM25.26 32.84h7.88v2.83h-7.88zM5.05 35.37h2.83v2.83h-2.83zM10.1 35.37h5.35v2.83h-5.35zM10.1 37.89h5.35v2.83h-5.35zM5.05 40.42h10.4v2.83h-10.4zM25.26 50.52h2.83v2.83h-2.83zM40.42 55.57h2.83v2.83h-2.83z"/>
<path fill="#a5be6b" d="M35.37 0h2.83v2.83h-2.83zM40.42 5.05h2.83v2.83h-2.83zM20.21 10.1h5.35v2.83h-5.35zM7.58 15.16h2.83v2.83h-2.83zM37.89 20.21h2.83v2.83h-2.83zM0 22.74h2.83v2.83h-2.83zM5.05 22.74h2.83v2.83h-2.83zM25.26 22.74h2.83v2.83h-2.83zM35.37 22.74h2.83v2.83h-2.83zM37.89 25.26h2.83v2.83h-2.83zM7.58 32.84h2.83v2.83h-2.83zM7.58 35.37h2.83v2.83h-2.83zM7.58 37.89h2.83v2.83h-2.83zM7.58 50.52h5.35v2.83h-5.35zM32.84 53.05h2.83v2.83h-2.83zM45.47 60.63h2.83v2.83h-2.83z"/>
<path fill="#b1bd66" d="M32.84 0h2.83v2.83h-2.83zM37.89 5.05h2.83v2.83h-2.83zM35.37 7.58h2.83v2.83h-2.83zM17.68 10.1h2.83v2.83h-2.83zM7.58 12.63h2.83v2.83h-2.83zM0 20.21h2.83v2.83h-2.83zM5.05 20.21h2.83v2.83h-2.83zM45.47 20.21h2.83v2.83h-2.83zM2.53 22.74h2.83v2.83h-2.83zM32.84 22.74h2.83v2.83h-2.83zM45.47 22.74h2.83v2.83h-2.83zM22.74 25.26h2.83v2.83h-2.83zM22.74 30.31h2.83v2.83h-2.83zM17.68 50.52h7.88v2.83h-7.88zM37.89 55.57h2.83v2.83h-2.83zM42.94 58.1h2.83v2.83h-2.83zM15.16 70.73h2.83v2.83h-2.83z"/>
<path fill="#bdbd61" d="M30.31 0h2.83v2.83h-2.83zM37.89 2.53h2.83v2.83h-2.83zM32.84 7.58h2.83v2.83h-2.83zM15.16 10.1h2.83v2.83h-2.83zM27.79 22.74h5.35v2.83h-5.35zM37.89 22.74h2.83v2.83h-2.83zM42.94 22.74h2.83v2.83h-2.83zM35.37 25.26h2.83v2.83h-2.83zM22.74 27.79h2.83v2.83h-2.83zM35.37 27.79h2.83v2.83h-2.83zM12.63 50.52h5.35v2.83h-5.35zM30.31 53.05h2.83v2.83h-2.83z"/>
<path fill="#c8bc5d" d="M35.37 2.53h2.83v2.83h-2.83zM10.1 10.1h5.35v2.83h-5.35zM0 17.68h2.83v2.83h-2.83zM5.05 17.68h2.83v2.83h-2.83zM2.53 20.21h2.83v2.83h-2.83zM40.42 20.21h5.35v2.83h-5.35zM40.42 22.74h2.83v2.83h-2.83zM25.26 30.31h2.83v2.83h-2.83zM42.94 63.15h2.83v2.83h-2.83zM17.68 70.73h5.35v2.83h-5.35z"/>
<path fill="#d3bb58" d="M27.79 0h2.83v2.83h-2.83zM35.37 5.05h2.83v2.83h-2.83zM30.31 7.58h2.83v2.83h-2.83zM32.84 30.31h2.83v2.83h-2.83zM27.79 53.05h2.83v2.83h-2.83zM35.37 55.57h2.83v2.83h-2.83zM22.74 70.73h2.83v2.83h-2.83z"/>
<path fill="#ddba54" d="M25.26 0h2.83v2.83h-2.83zM5.05 15.16h2.83v2.83h-2.83zM25.26 25.26h2.83v2.83h-2.83zM32.84 55.57h2.83v2.83h-2.83zM12.63 68.21h2.83v2.83h-2.83z"/>
<path fill="#e8b94f" d="M20.21 0h5.35v2.83h-5.35zM32.84 2.53h2.83v2.83h-2.83zM27.79 7.58h2.83v2.83h-2.83zM7.58 10.1h2.83v2.83h-2.83zM0 15.16h2.83v2.83h-2.83zM2.53 17.68h2.83v2.83h-2.83zM32.84 25.26h2.83v2.83h-2.83zM25.26 27.79h2.83v2.83h-2.83zM27.79 30.31h5.35v2.83h-5.35zM25.26 53.05h2.83v2.83h-2.83z"/>
<path fill="#f2b949" d="M32.84 5.05h2.83v2.83h-2.83zM25.26 7.58h2.83v2.83h-2.83zM5.05 12.63h2.83v2.83h-2.83zM32.84 27.79h2.83v2.83h-2.83zM40.42 58.1h2.83v2.83h-2.83zM42.94 60.63h2.83v2.83h-2.83z"/>
<path fill="#fbbc41" d="M0 0h2.83v2.83h-2.83zM30.31 2.53h2.83v2.83h-2.83zM0 12.63h2.83v2.83h-2.83zM2.53 15.16h2.83v2.83h-2.83zM27.79 25.26h5.35v2.83h-5.35zM15.16 68.21h2.83v2.83h-2.83z"/>
<path fill="#fec238" d="M30.31 5.05h2.83v2.83h-2.83zM22.74 7.58h2.83v2.83h-2.83zM27.79 27.79h2.83v2.83h-2.83zM22.74 53.05h2.83v2.83h-2.83zM30.31 55.57h2.83v2.83h-2.83zM27.79 68.21h2.83v2.83h-2.83z"/>
<path fill="#fec932" d="M5.05 0h2.83v2.83h-2.83zM27.79 2.53h2.83v2.83h-2.83zM20.21 7.58h2.83v2.83h-2.83zM30.31 27.79h2.83v2.83h-2.83zM20.21 53.05h2.83v2.83h-2.83zM40.42 63.15h2.83v2.83h-2.83z"/>
<path fill="#fbd02c" d="M27.79 5.05h2.83v2.83h-2.83zM10.1 7.58h10.4v2.83h-10.4zM2.53 12.63h2.83v2.83h-2.83zM10.1 53.05h2.83v2.83h-2.83zM37.89 58.1h2.83v2.83h-2.83zM32.84 65.68h2.83v2.83h-2.83zM17.68 68.21h2.83v2.83h-2.83z"/>
<path fill="#f8d727" d="M2.53 0h2.83v2.83h-2.83zM25.26 2.53h2.83v2.83h-2.83zM0 10.1h2.83v2.83h-2.83zM5.05 10.1h2.83v2.83h-2.83zM27.79 55.57h2.83v2.83h-2.83zM35.37 58.1h2.83v2.83h-2.83zM20.21 68.21h7.88v2.83h-7.88z"/>
<path fill="#f5de21" d="M25.26 5.05h2.83v2.83h-2.83zM17.68 53.05h2.83v2.83h-2.83z"/>
<path fill="#f5e71b" d="M22.74 2.53h2.83v2.83h-2.83zM7.58 7.58h2.83v2.83h-2.83zM12.63 53.05h5.35v2.83h-5.35zM32.84 58.1h2.83v2.83h-2.83zM37.89 63.15h2.83v2.83h-2.83zM30.31 65.68h2.83v2.83h-2.83z"/>
<path fill="#f6f015" d="M20.21 2.53h2.83v2.83h-2.83zM2.53 10.1h2.83v2.83h-2.83zM25.26 55.57h2.83v2.83h-2.83zM40.42 60.63h2.83v2.83h-2.83zM15.16 65.68h2.83v2.83h-2.83z"/>
<path fill="#f9fb0e" d="M0 2.53h7.88v2.83h-7.88zM0 5.05h25.56v2.83h-25.56zM0 7.58h7.88v2.83h-7.88zM12.63 55.57h12.93v2.83h-12.93zM15.16 58.1h17.98v2.83h-17.98zM15.16 60.63h25.56v2.83h-25.56zM15.16 63.15h23.04v2.83h-23.04zM17.68 65.68h12.93v2.83h-12.93z"/>
</g>
<rect x="0.8" y="0.8" width="77.95" height="77.95" fill="none" stroke="#000" stroke-width="1.6"/>
</g>
</svg></body></html>
